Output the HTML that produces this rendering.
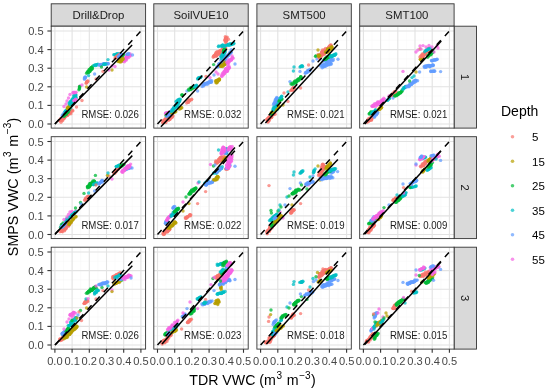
<!DOCTYPE html><html><head><meta charset="utf-8"><title>SMPS VWC vs TDR VWC</title>
<style>html,body{margin:0;padding:0;background:#fff}body{width:550px;height:392px;overflow:hidden}svg{display:block}text{font-family:"Liberation Sans",Arial,Helvetica,sans-serif}</style></head><body>
<svg width="550" height="392" viewBox="0 0 550 392">
<rect width="550" height="392" fill="#fff"/>
<rect x="51.2" y="3.8" width="94.4" height="22.4" fill="#D9D9D9" stroke="#333" stroke-width="0.9"/>
<text x="98.4" y="19.0" font-size="11.4" fill="#1A1A1A" text-anchor="middle">Drill&amp;Drop</text>
<rect x="153.8" y="3.8" width="94.4" height="22.4" fill="#D9D9D9" stroke="#333" stroke-width="0.9"/>
<text x="201.0" y="19.0" font-size="11.4" fill="#1A1A1A" text-anchor="middle">SoilVUE10</text>
<rect x="256.9" y="3.8" width="94.4" height="22.4" fill="#D9D9D9" stroke="#333" stroke-width="0.9"/>
<text x="304.1" y="19.0" font-size="11.4" fill="#1A1A1A" text-anchor="middle">SMT500</text>
<rect x="359.7" y="3.8" width="94.4" height="22.4" fill="#D9D9D9" stroke="#333" stroke-width="0.9"/>
<text x="406.9" y="19.0" font-size="11.4" fill="#1A1A1A" text-anchor="middle">SMT100</text>
<rect x="454.1" y="26.2" width="22.4" height="101.9" fill="#D9D9D9" stroke="#333" stroke-width="0.9"/>
<text transform="translate(461.1,77.2) rotate(90)" font-size="11.2" fill="#1A1A1A" text-anchor="middle">1</text>
<rect x="454.1" y="136.7" width="22.4" height="101.9" fill="#D9D9D9" stroke="#333" stroke-width="0.9"/>
<text transform="translate(461.1,187.6) rotate(90)" font-size="11.2" fill="#1A1A1A" text-anchor="middle">2</text>
<rect x="454.1" y="247.2" width="22.4" height="101.9" fill="#D9D9D9" stroke="#333" stroke-width="0.9"/>
<text transform="translate(461.1,298.1) rotate(90)" font-size="11.2" fill="#1A1A1A" text-anchor="middle">3</text>
<g>
<clipPath id="cp00"><rect x="51.2" y="26.2" width="94.4" height="101.9"/></clipPath>
<rect x="51.2" y="26.2" width="94.4" height="101.9" fill="#fff"/>
<g clip-path="url(#cp00)">
<line x1="63.5" x2="63.5" y1="26.2" y2="128.1" stroke="#F7F7F7" stroke-width="0.5"/>
<line y1="114.7" y2="114.7" x1="51.2" x2="145.60000000000002" stroke="#F7F7F7" stroke-width="0.5"/>
<line x1="80.7" x2="80.7" y1="26.2" y2="128.1" stroke="#F7F7F7" stroke-width="0.5"/>
<line y1="96.1" y2="96.1" x1="51.2" x2="145.60000000000002" stroke="#F7F7F7" stroke-width="0.5"/>
<line x1="97.9" x2="97.9" y1="26.2" y2="128.1" stroke="#F7F7F7" stroke-width="0.5"/>
<line y1="77.5" y2="77.5" x1="51.2" x2="145.60000000000002" stroke="#F7F7F7" stroke-width="0.5"/>
<line x1="115.1" x2="115.1" y1="26.2" y2="128.1" stroke="#F7F7F7" stroke-width="0.5"/>
<line y1="58.9" y2="58.9" x1="51.2" x2="145.60000000000002" stroke="#F7F7F7" stroke-width="0.5"/>
<line x1="132.3" x2="132.3" y1="26.2" y2="128.1" stroke="#F7F7F7" stroke-width="0.5"/>
<line y1="40.3" y2="40.3" x1="51.2" x2="145.60000000000002" stroke="#F7F7F7" stroke-width="0.5"/>
<line x1="54.9" x2="54.9" y1="26.2" y2="128.1" stroke="#E2E2E2" stroke-width="1.1"/>
<line y1="124.0" y2="124.0" x1="51.2" x2="145.60000000000002" stroke="#E2E2E2" stroke-width="1.1"/>
<line x1="72.1" x2="72.1" y1="26.2" y2="128.1" stroke="#E2E2E2" stroke-width="1.1"/>
<line y1="105.4" y2="105.4" x1="51.2" x2="145.60000000000002" stroke="#E2E2E2" stroke-width="1.1"/>
<line x1="89.3" x2="89.3" y1="26.2" y2="128.1" stroke="#E2E2E2" stroke-width="1.1"/>
<line y1="86.8" y2="86.8" x1="51.2" x2="145.60000000000002" stroke="#E2E2E2" stroke-width="1.1"/>
<line x1="106.5" x2="106.5" y1="26.2" y2="128.1" stroke="#E2E2E2" stroke-width="1.1"/>
<line y1="68.2" y2="68.2" x1="51.2" x2="145.60000000000002" stroke="#E2E2E2" stroke-width="1.1"/>
<line x1="123.7" x2="123.7" y1="26.2" y2="128.1" stroke="#E2E2E2" stroke-width="1.1"/>
<line y1="49.6" y2="49.6" x1="51.2" x2="145.60000000000002" stroke="#E2E2E2" stroke-width="1.1"/>
<line x1="140.9" x2="140.9" y1="26.2" y2="128.1" stroke="#E2E2E2" stroke-width="1.1"/>
<line y1="31.0" y2="31.0" x1="51.2" x2="145.60000000000002" stroke="#E2E2E2" stroke-width="1.1"/>
<g fill="#F8766D" fill-opacity="0.75"><circle cx="61.0" cy="122.2" r="1.7"/><circle cx="59.3" cy="120.6" r="1.7"/><circle cx="60.2" cy="120.6" r="1.7"/><circle cx="61.2" cy="120.5" r="1.7"/><circle cx="61.2" cy="119.6" r="1.7"/><circle cx="60.2" cy="119.4" r="1.7"/><circle cx="62.1" cy="119.4" r="1.7"/><circle cx="62.1" cy="118.9" r="1.7"/><circle cx="60.5" cy="118.6" r="1.7"/><circle cx="61.7" cy="119.0" r="1.7"/><circle cx="62.7" cy="120.5" r="1.7"/><circle cx="62.0" cy="120.0" r="1.7"/><circle cx="62.2" cy="118.2" r="1.7"/><circle cx="62.3" cy="117.9" r="1.7"/><circle cx="62.6" cy="118.8" r="1.7"/><circle cx="64.2" cy="118.5" r="1.7"/><circle cx="64.6" cy="116.9" r="1.7"/><circle cx="62.3" cy="118.1" r="1.7"/><circle cx="63.5" cy="116.0" r="1.7"/><circle cx="63.6" cy="118.4" r="1.7"/><circle cx="64.4" cy="116.5" r="1.7"/><circle cx="65.2" cy="115.8" r="1.7"/><circle cx="64.9" cy="116.2" r="1.7"/><circle cx="65.5" cy="116.7" r="1.7"/><circle cx="65.4" cy="115.6" r="1.7"/><circle cx="64.0" cy="117.2" r="1.7"/><circle cx="64.5" cy="116.1" r="1.7"/><circle cx="67.1" cy="115.1" r="1.7"/><circle cx="67.4" cy="115.6" r="1.7"/><circle cx="67.0" cy="115.2" r="1.7"/><circle cx="68.0" cy="114.8" r="1.7"/><circle cx="67.1" cy="113.7" r="1.7"/><circle cx="68.3" cy="113.8" r="1.7"/><circle cx="66.3" cy="114.0" r="1.7"/><circle cx="67.4" cy="114.3" r="1.7"/><circle cx="67.1" cy="114.4" r="1.7"/><circle cx="67.8" cy="113.4" r="1.7"/><circle cx="68.4" cy="114.1" r="1.7"/><circle cx="68.5" cy="113.2" r="1.7"/><circle cx="69.5" cy="113.6" r="1.7"/><circle cx="69.9" cy="111.8" r="1.7"/><circle cx="69.1" cy="113.6" r="1.7"/><circle cx="70.9" cy="113.8" r="1.7"/><circle cx="68.6" cy="112.3" r="1.7"/><circle cx="70.6" cy="112.6" r="1.7"/><circle cx="70.4" cy="111.2" r="1.7"/><circle cx="71.5" cy="111.2" r="1.7"/><circle cx="70.2" cy="111.3" r="1.7"/><circle cx="70.5" cy="110.8" r="1.7"/><circle cx="70.2" cy="111.8" r="1.7"/><circle cx="72.8" cy="110.9" r="1.7"/><circle cx="70.5" cy="111.7" r="1.7"/><circle cx="72.4" cy="110.2" r="1.7"/><circle cx="71.1" cy="109.9" r="1.7"/></g>
<g fill="#619CFF" fill-opacity="0.75"><circle cx="62.1" cy="115.9" r="1.7"/><circle cx="63.1" cy="116.1" r="1.7"/><circle cx="62.7" cy="114.8" r="1.7"/><circle cx="63.1" cy="115.2" r="1.7"/><circle cx="63.6" cy="115.4" r="1.7"/><circle cx="64.3" cy="113.1" r="1.7"/><circle cx="64.2" cy="113.2" r="1.7"/><circle cx="65.4" cy="112.5" r="1.7"/><circle cx="64.3" cy="112.8" r="1.7"/><circle cx="64.4" cy="113.4" r="1.7"/><circle cx="64.9" cy="112.3" r="1.7"/><circle cx="65.7" cy="111.1" r="1.7"/><circle cx="66.7" cy="111.6" r="1.7"/><circle cx="66.0" cy="111.8" r="1.7"/><circle cx="66.4" cy="110.3" r="1.7"/><circle cx="66.6" cy="111.4" r="1.7"/></g>
<g fill="#00BA38" fill-opacity="0.75"><circle cx="64.0" cy="116.4" r="1.7"/><circle cx="64.4" cy="115.4" r="1.7"/><circle cx="64.4" cy="114.8" r="1.7"/><circle cx="65.9" cy="114.3" r="1.7"/><circle cx="66.3" cy="114.6" r="1.7"/><circle cx="65.7" cy="112.7" r="1.7"/><circle cx="67.2" cy="112.6" r="1.7"/><circle cx="66.8" cy="112.5" r="1.7"/><circle cx="67.3" cy="112.2" r="1.7"/><circle cx="68.1" cy="112.2" r="1.7"/><circle cx="67.5" cy="110.8" r="1.7"/><circle cx="68.0" cy="111.4" r="1.7"/><circle cx="69.3" cy="110.1" r="1.7"/></g>
<g fill="#00BFC4" fill-opacity="0.75"><circle cx="65.2" cy="111.3" r="1.7"/><circle cx="66.0" cy="111.3" r="1.7"/><circle cx="66.0" cy="110.7" r="1.7"/><circle cx="66.7" cy="110.1" r="1.7"/><circle cx="67.6" cy="110.0" r="1.7"/><circle cx="68.1" cy="108.8" r="1.7"/><circle cx="68.9" cy="109.4" r="1.7"/><circle cx="68.8" cy="108.7" r="1.7"/><circle cx="69.8" cy="108.2" r="1.7"/><circle cx="70.7" cy="108.0" r="1.7"/></g>
<g fill="#B79F00" fill-opacity="0.75"><circle cx="67.6" cy="108.5" r="1.7"/><circle cx="68.0" cy="109.1" r="1.7"/><circle cx="67.2" cy="108.0" r="1.7"/><circle cx="67.7" cy="108.0" r="1.7"/><circle cx="69.0" cy="107.4" r="1.7"/><circle cx="67.9" cy="107.4" r="1.7"/><circle cx="69.4" cy="108.3" r="1.7"/><circle cx="69.1" cy="107.0" r="1.7"/><circle cx="69.2" cy="106.8" r="1.7"/><circle cx="69.5" cy="107.7" r="1.7"/><circle cx="68.6" cy="107.3" r="1.7"/><circle cx="69.5" cy="105.5" r="1.7"/><circle cx="69.4" cy="104.9" r="1.7"/><circle cx="71.0" cy="104.9" r="1.7"/><circle cx="71.1" cy="105.4" r="1.7"/><circle cx="70.0" cy="105.4" r="1.7"/><circle cx="70.8" cy="104.5" r="1.7"/><circle cx="71.0" cy="104.3" r="1.7"/><circle cx="71.6" cy="103.9" r="1.7"/><circle cx="70.9" cy="104.6" r="1.7"/><circle cx="71.1" cy="103.0" r="1.7"/><circle cx="72.4" cy="102.8" r="1.7"/></g>
<g fill="#F564E3" fill-opacity="0.75"><circle cx="64.0" cy="106.5" r="1.7"/></g>
<g fill="#F564E3" fill-opacity="0.75"><circle cx="67.0" cy="101.0" r="1.7"/></g>
<g fill="#F564E3" fill-opacity="0.75"><circle cx="66.0" cy="104.0" r="1.7"/></g>
<g fill="#F564E3" fill-opacity="0.75"><circle cx="68.5" cy="98.0" r="1.7"/></g>
<g fill="#00BFC4" fill-opacity="0.75"><circle cx="69.9" cy="102.8" r="1.7"/><circle cx="70.6" cy="105.1" r="1.7"/><circle cx="71.5" cy="103.4" r="1.7"/><circle cx="69.1" cy="103.1" r="1.7"/><circle cx="69.8" cy="104.3" r="1.7"/><circle cx="70.3" cy="101.8" r="1.7"/><circle cx="71.6" cy="102.5" r="1.7"/><circle cx="71.2" cy="101.4" r="1.7"/><circle cx="72.4" cy="102.9" r="1.7"/><circle cx="70.5" cy="101.7" r="1.7"/><circle cx="72.6" cy="101.9" r="1.7"/><circle cx="72.8" cy="100.5" r="1.7"/><circle cx="72.2" cy="100.4" r="1.7"/><circle cx="73.1" cy="99.8" r="1.7"/><circle cx="73.2" cy="100.6" r="1.7"/><circle cx="73.7" cy="100.1" r="1.7"/><circle cx="73.2" cy="100.0" r="1.7"/><circle cx="73.0" cy="99.7" r="1.7"/><circle cx="74.5" cy="99.2" r="1.7"/><circle cx="71.9" cy="99.6" r="1.7"/><circle cx="72.8" cy="99.3" r="1.7"/><circle cx="73.7" cy="98.2" r="1.7"/><circle cx="73.7" cy="99.2" r="1.7"/><circle cx="73.2" cy="98.1" r="1.7"/><circle cx="73.7" cy="97.6" r="1.7"/><circle cx="75.0" cy="96.2" r="1.7"/><circle cx="74.0" cy="95.7" r="1.7"/><circle cx="75.2" cy="97.1" r="1.7"/><circle cx="76.3" cy="97.8" r="1.7"/><circle cx="74.1" cy="95.4" r="1.7"/><circle cx="75.2" cy="96.1" r="1.7"/><circle cx="75.4" cy="94.7" r="1.7"/><circle cx="75.4" cy="95.3" r="1.7"/><circle cx="75.8" cy="95.7" r="1.7"/><circle cx="75.8" cy="94.5" r="1.7"/></g>
<g fill="#F564E3" fill-opacity="0.75"><circle cx="70.0" cy="94.5" r="1.7"/></g>
<g fill="#F564E3" fill-opacity="0.75"><circle cx="73.4" cy="92.8" r="1.7"/><circle cx="72.9" cy="92.8" r="1.7"/><circle cx="74.0" cy="92.2" r="1.7"/><circle cx="74.7" cy="92.7" r="1.7"/><circle cx="75.5" cy="92.6" r="1.7"/><circle cx="76.1" cy="92.3" r="1.7"/></g>
<g fill="#F564E3" fill-opacity="0.75"><circle cx="74.0" cy="100.6" r="1.7"/><circle cx="74.0" cy="100.8" r="1.7"/><circle cx="75.5" cy="100.9" r="1.7"/><circle cx="74.9" cy="100.4" r="1.7"/><circle cx="75.7" cy="99.5" r="1.7"/><circle cx="75.7" cy="99.1" r="1.7"/></g>
<g fill="#F8766D" fill-opacity="0.75"><circle cx="76.5" cy="107.0" r="1.7"/></g>
<g fill="#F8766D" fill-opacity="0.75"><circle cx="82.0" cy="100.5" r="1.7"/></g>
<g fill="#F564E3" fill-opacity="0.75"><circle cx="80.0" cy="86.0" r="1.7"/></g>
<g fill="#00BA38" fill-opacity="0.75"><circle cx="78.9" cy="89.7" r="1.7"/><circle cx="79.5" cy="88.7" r="1.7"/><circle cx="79.5" cy="87.7" r="1.7"/><circle cx="79.5" cy="86.8" r="1.7"/><circle cx="79.8" cy="86.4" r="1.7"/></g>
<g fill="#F8766D" fill-opacity="0.75"><circle cx="86.1" cy="83.2" r="1.7"/><circle cx="86.7" cy="82.7" r="1.7"/><circle cx="86.7" cy="82.4" r="1.7"/><circle cx="86.8" cy="81.8" r="1.7"/><circle cx="86.7" cy="82.3" r="1.7"/><circle cx="87.1" cy="81.3" r="1.7"/><circle cx="87.6" cy="81.5" r="1.7"/><circle cx="88.0" cy="80.9" r="1.7"/></g>
<g fill="#F8766D" fill-opacity="0.75"><circle cx="96.0" cy="79.0" r="1.7"/></g>
<g fill="#F8766D" fill-opacity="0.75"><circle cx="103.0" cy="71.4" r="1.7"/></g>
<g fill="#619CFF" fill-opacity="0.75"><circle cx="84.3" cy="79.0" r="1.7"/><circle cx="84.7" cy="78.9" r="1.7"/><circle cx="85.6" cy="77.5" r="1.7"/><circle cx="84.7" cy="77.2" r="1.7"/><circle cx="85.1" cy="77.6" r="1.7"/><circle cx="85.5" cy="76.9" r="1.7"/></g>
<g fill="#619CFF" fill-opacity="0.75"><circle cx="94.6" cy="74.0" r="1.7"/></g>
<g fill="#00BA38" fill-opacity="0.75"><circle cx="86.6" cy="73.3" r="1.7"/><circle cx="87.3" cy="72.3" r="1.7"/><circle cx="88.2" cy="72.7" r="1.7"/><circle cx="87.9" cy="71.8" r="1.7"/><circle cx="89.0" cy="72.0" r="1.7"/><circle cx="88.7" cy="72.2" r="1.7"/><circle cx="88.3" cy="71.0" r="1.7"/><circle cx="89.1" cy="71.5" r="1.7"/><circle cx="89.5" cy="70.8" r="1.7"/><circle cx="90.1" cy="71.2" r="1.7"/><circle cx="89.2" cy="69.5" r="1.7"/><circle cx="90.5" cy="69.8" r="1.7"/><circle cx="90.5" cy="70.0" r="1.7"/><circle cx="90.6" cy="68.5" r="1.7"/><circle cx="90.0" cy="69.1" r="1.7"/><circle cx="91.7" cy="69.3" r="1.7"/><circle cx="91.7" cy="68.3" r="1.7"/><circle cx="91.3" cy="67.5" r="1.7"/><circle cx="92.0" cy="69.0" r="1.7"/><circle cx="92.4" cy="67.9" r="1.7"/><circle cx="91.6" cy="67.4" r="1.7"/><circle cx="92.8" cy="66.1" r="1.7"/></g>
<g fill="#00BFC4" fill-opacity="0.75"><circle cx="94.0" cy="65.5" r="1.7"/><circle cx="94.6" cy="65.1" r="1.7"/><circle cx="95.3" cy="64.9" r="1.7"/><circle cx="95.6" cy="65.6" r="1.7"/><circle cx="96.5" cy="65.0" r="1.7"/><circle cx="96.5" cy="64.6" r="1.7"/><circle cx="97.1" cy="64.7" r="1.7"/><circle cx="97.9" cy="64.1" r="1.7"/></g>
<g fill="#00BFC4" fill-opacity="0.75"><circle cx="88.6" cy="75.6" r="1.7"/></g>
<g fill="#00BFC4" fill-opacity="0.75"><circle cx="108.0" cy="59.6" r="1.7"/></g>
<g fill="#619CFF" fill-opacity="0.75"><circle cx="99.3" cy="65.3" r="1.7"/><circle cx="100.1" cy="64.4" r="1.7"/><circle cx="99.6" cy="64.8" r="1.7"/><circle cx="101.1" cy="65.2" r="1.7"/><circle cx="102.1" cy="64.5" r="1.7"/><circle cx="101.8" cy="64.6" r="1.7"/><circle cx="103.1" cy="63.6" r="1.7"/><circle cx="104.0" cy="63.8" r="1.7"/><circle cx="104.3" cy="63.7" r="1.7"/><circle cx="105.0" cy="64.1" r="1.7"/><circle cx="105.0" cy="64.0" r="1.7"/><circle cx="106.3" cy="63.8" r="1.7"/><circle cx="106.5" cy="63.9" r="1.7"/><circle cx="107.8" cy="63.8" r="1.7"/><circle cx="107.9" cy="63.5" r="1.7"/><circle cx="108.3" cy="63.7" r="1.7"/></g>
<g fill="#F564E3" fill-opacity="0.75"><circle cx="112.0" cy="66.0" r="1.7"/></g>
<g fill="#F564E3" fill-opacity="0.75"><circle cx="82.0" cy="85.0" r="1.7"/></g>
<g fill="#B79F00" fill-opacity="0.75"><circle cx="112.0" cy="70.0" r="1.7"/></g>
<g fill="#B79F00" fill-opacity="0.75"><circle cx="86.6" cy="87.0" r="1.7"/></g>
<g fill="#00BFC4" fill-opacity="0.75"><circle cx="113.8" cy="54.8" r="1.7"/><circle cx="114.6" cy="54.6" r="1.7"/><circle cx="115.4" cy="54.6" r="1.7"/><circle cx="116.8" cy="54.3" r="1.7"/><circle cx="117.3" cy="54.3" r="1.7"/><circle cx="116.8" cy="53.7" r="1.7"/><circle cx="118.4" cy="53.8" r="1.7"/><circle cx="119.2" cy="53.9" r="1.7"/></g>
<g fill="#F8766D" fill-opacity="0.75"><circle cx="115.4" cy="57.8" r="1.7"/><circle cx="115.2" cy="58.3" r="1.7"/><circle cx="115.8" cy="57.1" r="1.7"/><circle cx="117.0" cy="56.6" r="1.7"/><circle cx="116.4" cy="56.6" r="1.7"/><circle cx="117.4" cy="56.8" r="1.7"/><circle cx="117.6" cy="56.3" r="1.7"/><circle cx="118.0" cy="56.9" r="1.7"/><circle cx="117.9" cy="55.2" r="1.7"/><circle cx="119.1" cy="56.0" r="1.7"/><circle cx="119.6" cy="54.2" r="1.7"/><circle cx="119.1" cy="55.6" r="1.7"/><circle cx="119.7" cy="54.6" r="1.7"/><circle cx="120.0" cy="54.2" r="1.7"/><circle cx="121.1" cy="54.7" r="1.7"/><circle cx="120.6" cy="54.7" r="1.7"/></g>
<g fill="#B79F00" fill-opacity="0.75"><circle cx="118.0" cy="61.6" r="1.7"/><circle cx="119.1" cy="60.2" r="1.7"/><circle cx="119.1" cy="59.8" r="1.7"/><circle cx="118.8" cy="60.7" r="1.7"/><circle cx="118.8" cy="60.3" r="1.7"/><circle cx="119.7" cy="59.0" r="1.7"/><circle cx="121.1" cy="59.6" r="1.7"/><circle cx="121.2" cy="60.0" r="1.7"/><circle cx="120.7" cy="58.6" r="1.7"/><circle cx="121.8" cy="59.3" r="1.7"/><circle cx="122.6" cy="59.3" r="1.7"/><circle cx="122.2" cy="58.8" r="1.7"/><circle cx="123.5" cy="58.0" r="1.7"/></g>
<g fill="#00BA38" fill-opacity="0.75"><circle cx="120.9" cy="57.1" r="1.7"/><circle cx="121.7" cy="56.5" r="1.7"/><circle cx="122.2" cy="55.5" r="1.7"/><circle cx="122.5" cy="55.5" r="1.7"/><circle cx="123.3" cy="54.4" r="1.7"/><circle cx="123.2" cy="54.8" r="1.7"/></g>
<g fill="#619CFF" fill-opacity="0.75"><circle cx="118.4" cy="56.9" r="1.7"/><circle cx="118.9" cy="56.7" r="1.7"/><circle cx="118.5" cy="56.6" r="1.7"/><circle cx="120.0" cy="55.6" r="1.7"/><circle cx="119.9" cy="55.3" r="1.7"/><circle cx="120.2" cy="54.7" r="1.7"/><circle cx="120.8" cy="54.5" r="1.7"/><circle cx="121.5" cy="54.4" r="1.7"/></g>
<g fill="#F564E3" fill-opacity="0.75"><circle cx="123.2" cy="60.9" r="1.7"/><circle cx="124.5" cy="61.8" r="1.7"/><circle cx="123.8" cy="60.5" r="1.7"/><circle cx="122.4" cy="61.4" r="1.7"/><circle cx="125.0" cy="59.2" r="1.7"/><circle cx="124.4" cy="59.2" r="1.7"/><circle cx="124.8" cy="60.1" r="1.7"/><circle cx="124.8" cy="58.0" r="1.7"/><circle cx="126.1" cy="60.3" r="1.7"/><circle cx="125.9" cy="57.8" r="1.7"/><circle cx="126.1" cy="59.2" r="1.7"/><circle cx="126.5" cy="57.2" r="1.7"/><circle cx="125.2" cy="58.5" r="1.7"/><circle cx="127.2" cy="58.0" r="1.7"/><circle cx="127.2" cy="56.8" r="1.7"/><circle cx="127.2" cy="56.5" r="1.7"/><circle cx="128.7" cy="57.5" r="1.7"/><circle cx="127.1" cy="55.6" r="1.7"/><circle cx="126.9" cy="55.5" r="1.7"/><circle cx="127.2" cy="56.1" r="1.7"/><circle cx="127.4" cy="54.7" r="1.7"/><circle cx="128.9" cy="54.6" r="1.7"/><circle cx="129.2" cy="55.4" r="1.7"/><circle cx="129.7" cy="55.7" r="1.7"/><circle cx="130.3" cy="55.9" r="1.7"/><circle cx="130.2" cy="54.0" r="1.7"/></g>
<g fill="#B79F00" fill-opacity="0.75"><circle cx="120.0" cy="62.1" r="1.7"/><circle cx="119.8" cy="61.4" r="1.7"/><circle cx="119.8" cy="61.3" r="1.7"/><circle cx="119.8" cy="60.9" r="1.7"/><circle cx="121.2" cy="61.7" r="1.7"/><circle cx="121.5" cy="60.5" r="1.7"/><circle cx="122.0" cy="59.7" r="1.7"/><circle cx="121.2" cy="60.0" r="1.7"/><circle cx="122.2" cy="59.3" r="1.7"/><circle cx="122.0" cy="60.1" r="1.7"/><circle cx="122.7" cy="58.4" r="1.7"/><circle cx="123.3" cy="59.0" r="1.7"/><circle cx="121.9" cy="59.3" r="1.7"/></g>
<g fill="#619CFF" fill-opacity="0.75"><circle cx="126.9" cy="54.2" r="1.7"/><circle cx="127.5" cy="54.1" r="1.7"/><circle cx="127.7" cy="54.4" r="1.7"/><circle cx="128.6" cy="54.2" r="1.7"/><circle cx="128.7" cy="53.5" r="1.7"/></g>
<g fill="#619CFF" fill-opacity="0.75"><circle cx="132.5" cy="55.0" r="1.7"/></g>
<g fill="#00BA38" fill-opacity="0.75"><circle cx="101.5" cy="67.0" r="1.7"/></g>
<g fill="#F564E3" fill-opacity="0.75"><circle cx="115.0" cy="66.5" r="1.7"/></g>
<g fill="#F564E3" fill-opacity="0.75"><circle cx="109.0" cy="70.0" r="1.7"/></g>
<g fill="#00BFC4" fill-opacity="0.75"><circle cx="103.7" cy="64.4" r="1.7"/><circle cx="104.0" cy="64.3" r="1.7"/><circle cx="104.4" cy="64.5" r="1.7"/><circle cx="105.0" cy="64.3" r="1.7"/><circle cx="105.9" cy="64.0" r="1.7"/></g>
<line x1="54.9" y1="124.0" x2="132.1" y2="45.0" stroke="#000" stroke-width="1.5"/>
<line x1="54.9" y1="124.0" x2="140.9" y2="31.0" stroke="#000" stroke-width="1.5" stroke-dasharray="6 6"/>
<text x="138.8" y="118.4" font-size="10.4" fill="#1c1c1c" text-anchor="end" textLength="57.4" lengthAdjust="spacingAndGlyphs">RMSE: 0.026</text>
</g>
<rect x="51.2" y="26.2" width="94.4" height="101.9" fill="none" stroke="#333" stroke-width="0.9"/>
</g>
<g>
<clipPath id="cp01"><rect x="153.8" y="26.2" width="94.4" height="101.9"/></clipPath>
<rect x="153.8" y="26.2" width="94.4" height="101.9" fill="#fff"/>
<g clip-path="url(#cp01)">
<line x1="166.1" x2="166.1" y1="26.2" y2="128.1" stroke="#F7F7F7" stroke-width="0.5"/>
<line y1="114.7" y2="114.7" x1="153.8" x2="248.20000000000002" stroke="#F7F7F7" stroke-width="0.5"/>
<line x1="183.3" x2="183.3" y1="26.2" y2="128.1" stroke="#F7F7F7" stroke-width="0.5"/>
<line y1="96.1" y2="96.1" x1="153.8" x2="248.20000000000002" stroke="#F7F7F7" stroke-width="0.5"/>
<line x1="200.5" x2="200.5" y1="26.2" y2="128.1" stroke="#F7F7F7" stroke-width="0.5"/>
<line y1="77.5" y2="77.5" x1="153.8" x2="248.20000000000002" stroke="#F7F7F7" stroke-width="0.5"/>
<line x1="217.7" x2="217.7" y1="26.2" y2="128.1" stroke="#F7F7F7" stroke-width="0.5"/>
<line y1="58.9" y2="58.9" x1="153.8" x2="248.20000000000002" stroke="#F7F7F7" stroke-width="0.5"/>
<line x1="234.9" x2="234.9" y1="26.2" y2="128.1" stroke="#F7F7F7" stroke-width="0.5"/>
<line y1="40.3" y2="40.3" x1="153.8" x2="248.20000000000002" stroke="#F7F7F7" stroke-width="0.5"/>
<line x1="157.5" x2="157.5" y1="26.2" y2="128.1" stroke="#E2E2E2" stroke-width="1.1"/>
<line y1="124.0" y2="124.0" x1="153.8" x2="248.20000000000002" stroke="#E2E2E2" stroke-width="1.1"/>
<line x1="174.7" x2="174.7" y1="26.2" y2="128.1" stroke="#E2E2E2" stroke-width="1.1"/>
<line y1="105.4" y2="105.4" x1="153.8" x2="248.20000000000002" stroke="#E2E2E2" stroke-width="1.1"/>
<line x1="191.9" x2="191.9" y1="26.2" y2="128.1" stroke="#E2E2E2" stroke-width="1.1"/>
<line y1="86.8" y2="86.8" x1="153.8" x2="248.20000000000002" stroke="#E2E2E2" stroke-width="1.1"/>
<line x1="209.1" x2="209.1" y1="26.2" y2="128.1" stroke="#E2E2E2" stroke-width="1.1"/>
<line y1="68.2" y2="68.2" x1="153.8" x2="248.20000000000002" stroke="#E2E2E2" stroke-width="1.1"/>
<line x1="226.3" x2="226.3" y1="26.2" y2="128.1" stroke="#E2E2E2" stroke-width="1.1"/>
<line y1="49.6" y2="49.6" x1="153.8" x2="248.20000000000002" stroke="#E2E2E2" stroke-width="1.1"/>
<line x1="243.5" x2="243.5" y1="26.2" y2="128.1" stroke="#E2E2E2" stroke-width="1.1"/>
<line y1="31.0" y2="31.0" x1="153.8" x2="248.20000000000002" stroke="#E2E2E2" stroke-width="1.1"/>
<g fill="#F8766D" fill-opacity="0.75"><circle cx="163.1" cy="122.8" r="1.7"/><circle cx="163.9" cy="120.6" r="1.7"/><circle cx="162.7" cy="120.8" r="1.7"/><circle cx="162.7" cy="122.4" r="1.7"/><circle cx="163.5" cy="122.8" r="1.7"/><circle cx="165.0" cy="121.5" r="1.7"/><circle cx="163.1" cy="122.8" r="1.7"/><circle cx="164.5" cy="120.1" r="1.7"/><circle cx="165.9" cy="122.6" r="1.7"/><circle cx="164.0" cy="121.1" r="1.7"/><circle cx="164.8" cy="120.0" r="1.7"/><circle cx="165.5" cy="120.6" r="1.7"/><circle cx="165.2" cy="121.0" r="1.7"/><circle cx="165.2" cy="119.3" r="1.7"/><circle cx="164.9" cy="120.4" r="1.7"/><circle cx="165.2" cy="120.0" r="1.7"/><circle cx="166.5" cy="120.3" r="1.7"/><circle cx="164.5" cy="120.9" r="1.7"/><circle cx="164.9" cy="119.6" r="1.7"/><circle cx="165.4" cy="120.2" r="1.7"/><circle cx="167.3" cy="118.5" r="1.7"/><circle cx="168.7" cy="120.3" r="1.7"/><circle cx="165.7" cy="118.1" r="1.7"/><circle cx="167.1" cy="118.2" r="1.7"/><circle cx="167.5" cy="119.7" r="1.7"/><circle cx="167.7" cy="119.6" r="1.7"/><circle cx="168.0" cy="118.6" r="1.7"/><circle cx="167.1" cy="118.1" r="1.7"/><circle cx="169.1" cy="117.2" r="1.7"/><circle cx="167.3" cy="119.5" r="1.7"/><circle cx="168.6" cy="117.4" r="1.7"/><circle cx="168.7" cy="116.6" r="1.7"/><circle cx="169.4" cy="119.5" r="1.7"/><circle cx="169.7" cy="117.5" r="1.7"/><circle cx="171.0" cy="117.4" r="1.7"/><circle cx="170.1" cy="119.3" r="1.7"/><circle cx="170.3" cy="116.8" r="1.7"/><circle cx="168.2" cy="116.5" r="1.7"/><circle cx="169.7" cy="118.1" r="1.7"/><circle cx="172.0" cy="117.6" r="1.7"/><circle cx="170.4" cy="117.2" r="1.7"/><circle cx="171.0" cy="117.4" r="1.7"/><circle cx="169.6" cy="116.0" r="1.7"/><circle cx="170.4" cy="118.2" r="1.7"/><circle cx="172.4" cy="116.0" r="1.7"/><circle cx="172.5" cy="116.3" r="1.7"/><circle cx="172.7" cy="115.5" r="1.7"/><circle cx="172.7" cy="116.0" r="1.7"/></g>
<g fill="#F564E3" fill-opacity="0.75"><circle cx="165.8" cy="114.0" r="1.7"/><circle cx="165.6" cy="113.1" r="1.7"/><circle cx="165.6" cy="113.2" r="1.7"/><circle cx="167.3" cy="113.6" r="1.7"/><circle cx="166.9" cy="113.0" r="1.7"/><circle cx="167.2" cy="112.6" r="1.7"/><circle cx="167.5" cy="112.6" r="1.7"/><circle cx="168.4" cy="112.4" r="1.7"/></g>
<g fill="#00BA38" fill-opacity="0.75"><circle cx="166.0" cy="115.6" r="1.7"/><circle cx="167.1" cy="115.2" r="1.7"/><circle cx="167.1" cy="116.1" r="1.7"/><circle cx="168.0" cy="115.1" r="1.7"/><circle cx="167.0" cy="114.2" r="1.7"/><circle cx="168.7" cy="114.8" r="1.7"/><circle cx="168.5" cy="114.6" r="1.7"/><circle cx="168.6" cy="113.6" r="1.7"/><circle cx="169.6" cy="114.0" r="1.7"/><circle cx="169.8" cy="112.8" r="1.7"/></g>
<g fill="#619CFF" fill-opacity="0.75"><circle cx="166.6" cy="116.6" r="1.7"/><circle cx="168.8" cy="115.3" r="1.7"/><circle cx="167.6" cy="115.1" r="1.7"/><circle cx="167.4" cy="115.0" r="1.7"/><circle cx="169.0" cy="114.8" r="1.7"/><circle cx="169.6" cy="113.3" r="1.7"/><circle cx="169.6" cy="114.0" r="1.7"/><circle cx="170.5" cy="113.4" r="1.7"/><circle cx="171.6" cy="112.4" r="1.7"/><circle cx="171.1" cy="112.1" r="1.7"/><circle cx="171.2" cy="111.5" r="1.7"/><circle cx="171.0" cy="111.1" r="1.7"/><circle cx="171.9" cy="110.7" r="1.7"/><circle cx="172.8" cy="110.6" r="1.7"/><circle cx="172.1" cy="109.4" r="1.7"/><circle cx="172.8" cy="109.1" r="1.7"/><circle cx="173.6" cy="109.6" r="1.7"/><circle cx="174.0" cy="108.6" r="1.7"/><circle cx="173.9" cy="108.1" r="1.7"/></g>
<g fill="#B79F00" fill-opacity="0.75"><circle cx="172.1" cy="113.4" r="1.7"/><circle cx="172.1" cy="113.2" r="1.7"/><circle cx="173.7" cy="112.5" r="1.7"/><circle cx="174.3" cy="112.4" r="1.7"/><circle cx="173.9" cy="111.7" r="1.7"/><circle cx="174.9" cy="111.5" r="1.7"/><circle cx="174.6" cy="111.0" r="1.7"/><circle cx="175.8" cy="111.8" r="1.7"/></g>
<g fill="#B79F00" fill-opacity="0.75"><circle cx="179.2" cy="109.1" r="1.7"/><circle cx="180.2" cy="108.8" r="1.7"/><circle cx="180.5" cy="108.0" r="1.7"/><circle cx="181.3" cy="107.7" r="1.7"/><circle cx="181.8" cy="107.7" r="1.7"/></g>
<g fill="#00BFC4" fill-opacity="0.75"><circle cx="171.1" cy="111.6" r="1.7"/><circle cx="173.1" cy="110.4" r="1.7"/><circle cx="172.5" cy="111.0" r="1.7"/><circle cx="172.2" cy="110.2" r="1.7"/><circle cx="173.1" cy="109.5" r="1.7"/><circle cx="173.5" cy="108.2" r="1.7"/><circle cx="174.0" cy="107.7" r="1.7"/><circle cx="174.6" cy="108.2" r="1.7"/><circle cx="173.6" cy="107.6" r="1.7"/><circle cx="175.6" cy="106.9" r="1.7"/><circle cx="175.9" cy="105.8" r="1.7"/><circle cx="175.7" cy="107.2" r="1.7"/><circle cx="176.9" cy="106.2" r="1.7"/><circle cx="175.6" cy="105.3" r="1.7"/><circle cx="177.2" cy="106.3" r="1.7"/><circle cx="176.7" cy="104.6" r="1.7"/><circle cx="177.8" cy="103.0" r="1.7"/><circle cx="178.0" cy="102.3" r="1.7"/><circle cx="178.4" cy="104.2" r="1.7"/><circle cx="177.1" cy="103.5" r="1.7"/><circle cx="177.1" cy="102.7" r="1.7"/><circle cx="178.7" cy="102.2" r="1.7"/><circle cx="179.0" cy="101.4" r="1.7"/><circle cx="179.8" cy="101.0" r="1.7"/><circle cx="179.2" cy="99.3" r="1.7"/><circle cx="179.0" cy="101.3" r="1.7"/></g>
<g fill="#F8766D" fill-opacity="0.75"><circle cx="186.6" cy="103.0" r="1.7"/><circle cx="188.5" cy="102.4" r="1.7"/><circle cx="187.4" cy="101.5" r="1.7"/><circle cx="188.0" cy="102.3" r="1.7"/><circle cx="189.0" cy="101.2" r="1.7"/><circle cx="189.1" cy="100.2" r="1.7"/><circle cx="189.5" cy="100.6" r="1.7"/><circle cx="188.9" cy="99.9" r="1.7"/><circle cx="189.8" cy="100.2" r="1.7"/><circle cx="191.4" cy="99.8" r="1.7"/><circle cx="191.7" cy="99.3" r="1.7"/></g>
<g fill="#00BA38" fill-opacity="0.75"><circle cx="182.3" cy="94.9" r="1.7"/><circle cx="181.6" cy="95.0" r="1.7"/><circle cx="182.5" cy="95.1" r="1.7"/></g>
<g fill="#00BFC4" fill-opacity="0.75"><circle cx="176.0" cy="101.4" r="1.7"/><circle cx="177.4" cy="101.3" r="1.7"/><circle cx="177.3" cy="100.3" r="1.7"/><circle cx="178.8" cy="99.9" r="1.7"/><circle cx="178.6" cy="99.8" r="1.7"/><circle cx="180.3" cy="99.2" r="1.7"/></g>
<g fill="#619CFF" fill-opacity="0.75"><circle cx="187.0" cy="91.0" r="1.7"/></g>
<g fill="#619CFF" fill-opacity="0.75"><circle cx="197.6" cy="91.0" r="1.7"/></g>
<g fill="#00BA38" fill-opacity="0.75"><circle cx="189.0" cy="90.3" r="1.7"/><circle cx="188.7" cy="89.2" r="1.7"/><circle cx="191.0" cy="89.6" r="1.7"/><circle cx="190.3" cy="89.0" r="1.7"/><circle cx="191.0" cy="88.9" r="1.7"/><circle cx="190.5" cy="87.9" r="1.7"/><circle cx="192.3" cy="87.8" r="1.7"/><circle cx="191.2" cy="87.4" r="1.7"/><circle cx="192.0" cy="87.5" r="1.7"/><circle cx="192.9" cy="87.9" r="1.7"/><circle cx="193.0" cy="87.7" r="1.7"/><circle cx="192.6" cy="87.9" r="1.7"/><circle cx="193.3" cy="86.6" r="1.7"/><circle cx="193.5" cy="86.9" r="1.7"/><circle cx="193.5" cy="87.2" r="1.7"/><circle cx="194.9" cy="87.1" r="1.7"/></g>
<g fill="#00BFC4" fill-opacity="0.75"><circle cx="194.7" cy="87.1" r="1.7"/><circle cx="194.3" cy="86.3" r="1.7"/><circle cx="195.8" cy="86.4" r="1.7"/><circle cx="195.7" cy="86.3" r="1.7"/><circle cx="196.4" cy="85.6" r="1.7"/><circle cx="196.6" cy="85.3" r="1.7"/></g>
<g fill="#619CFF" fill-opacity="0.75"><circle cx="202.1" cy="86.5" r="1.7"/><circle cx="203.6" cy="85.9" r="1.7"/><circle cx="203.0" cy="85.0" r="1.7"/><circle cx="203.6" cy="84.2" r="1.7"/><circle cx="204.2" cy="84.6" r="1.7"/><circle cx="204.4" cy="84.0" r="1.7"/><circle cx="205.1" cy="84.4" r="1.7"/><circle cx="205.1" cy="83.7" r="1.7"/><circle cx="204.6" cy="83.7" r="1.7"/><circle cx="207.2" cy="84.4" r="1.7"/><circle cx="206.0" cy="83.1" r="1.7"/><circle cx="207.9" cy="83.2" r="1.7"/><circle cx="207.5" cy="82.4" r="1.7"/><circle cx="209.0" cy="82.3" r="1.7"/><circle cx="209.1" cy="82.2" r="1.7"/><circle cx="209.0" cy="82.7" r="1.7"/><circle cx="209.3" cy="81.7" r="1.7"/><circle cx="211.0" cy="82.4" r="1.7"/><circle cx="209.5" cy="82.5" r="1.7"/><circle cx="210.4" cy="80.7" r="1.7"/><circle cx="211.7" cy="80.7" r="1.7"/><circle cx="211.5" cy="82.0" r="1.7"/></g>
<g fill="#00BFC4" fill-opacity="0.75"><circle cx="197.6" cy="79.0" r="1.7"/><circle cx="198.2" cy="78.2" r="1.7"/><circle cx="198.5" cy="77.9" r="1.7"/><circle cx="199.1" cy="77.9" r="1.7"/><circle cx="198.8" cy="78.2" r="1.7"/><circle cx="200.5" cy="77.6" r="1.7"/><circle cx="200.8" cy="77.1" r="1.7"/><circle cx="200.7" cy="77.2" r="1.7"/></g>
<g fill="#F8766D" fill-opacity="0.75"><circle cx="206.0" cy="76.4" r="1.7"/></g>
<g fill="#F564E3" fill-opacity="0.75"><circle cx="210.0" cy="77.6" r="1.7"/></g>
<g fill="#B79F00" fill-opacity="0.75"><circle cx="216.9" cy="82.7" r="1.7"/><circle cx="216.0" cy="82.8" r="1.7"/><circle cx="216.9" cy="80.9" r="1.7"/><circle cx="215.8" cy="81.2" r="1.7"/><circle cx="216.9" cy="82.5" r="1.7"/><circle cx="215.8" cy="80.8" r="1.7"/><circle cx="217.0" cy="81.2" r="1.7"/><circle cx="216.9" cy="81.0" r="1.7"/><circle cx="217.4" cy="80.2" r="1.7"/><circle cx="216.9" cy="81.3" r="1.7"/><circle cx="218.1" cy="81.1" r="1.7"/><circle cx="217.2" cy="80.1" r="1.7"/><circle cx="217.6" cy="80.9" r="1.7"/><circle cx="218.8" cy="80.0" r="1.7"/><circle cx="218.7" cy="79.9" r="1.7"/><circle cx="219.4" cy="78.9" r="1.7"/><circle cx="219.3" cy="79.2" r="1.7"/><circle cx="218.9" cy="79.5" r="1.7"/><circle cx="219.4" cy="80.1" r="1.7"/></g>
<g fill="#619CFF" fill-opacity="0.75"><circle cx="214.0" cy="75.0" r="1.7"/></g>
<g fill="#F564E3" fill-opacity="0.75"><circle cx="216.0" cy="72.0" r="1.7"/></g>
<g fill="#F564E3" fill-opacity="0.75"><circle cx="218.0" cy="74.0" r="1.7"/></g>
<g fill="#00BA38" fill-opacity="0.75"><circle cx="213.6" cy="64.6" r="1.7"/></g>
<g fill="#619CFF" fill-opacity="0.75"><circle cx="218.7" cy="66.4" r="1.7"/><circle cx="216.8" cy="66.7" r="1.7"/><circle cx="218.7" cy="66.0" r="1.7"/><circle cx="217.9" cy="67.0" r="1.7"/><circle cx="220.2" cy="64.2" r="1.7"/><circle cx="219.0" cy="63.7" r="1.7"/><circle cx="219.4" cy="64.8" r="1.7"/><circle cx="219.3" cy="64.2" r="1.7"/><circle cx="218.9" cy="64.2" r="1.7"/><circle cx="219.4" cy="63.9" r="1.7"/><circle cx="220.8" cy="63.9" r="1.7"/><circle cx="221.2" cy="63.2" r="1.7"/><circle cx="220.8" cy="62.9" r="1.7"/><circle cx="221.6" cy="62.8" r="1.7"/><circle cx="222.1" cy="61.7" r="1.7"/><circle cx="223.2" cy="62.7" r="1.7"/><circle cx="220.9" cy="60.5" r="1.7"/><circle cx="224.1" cy="60.8" r="1.7"/><circle cx="222.3" cy="62.5" r="1.7"/><circle cx="223.7" cy="61.8" r="1.7"/><circle cx="225.0" cy="59.7" r="1.7"/><circle cx="224.0" cy="60.4" r="1.7"/><circle cx="223.1" cy="58.7" r="1.7"/><circle cx="224.5" cy="59.8" r="1.7"/><circle cx="225.0" cy="59.9" r="1.7"/><circle cx="224.9" cy="59.3" r="1.7"/><circle cx="225.0" cy="58.6" r="1.7"/><circle cx="225.3" cy="58.2" r="1.7"/><circle cx="225.8" cy="56.6" r="1.7"/><circle cx="226.4" cy="56.4" r="1.7"/><circle cx="226.4" cy="56.3" r="1.7"/><circle cx="226.7" cy="57.1" r="1.7"/><circle cx="226.8" cy="56.6" r="1.7"/><circle cx="228.1" cy="55.6" r="1.7"/><circle cx="227.0" cy="56.9" r="1.7"/><circle cx="228.8" cy="55.1" r="1.7"/><circle cx="229.1" cy="54.3" r="1.7"/><circle cx="228.9" cy="54.8" r="1.7"/><circle cx="227.7" cy="55.0" r="1.7"/><circle cx="229.6" cy="53.1" r="1.7"/><circle cx="230.6" cy="52.5" r="1.7"/><circle cx="230.8" cy="52.7" r="1.7"/><circle cx="230.3" cy="53.4" r="1.7"/><circle cx="230.3" cy="52.9" r="1.7"/><circle cx="230.8" cy="52.2" r="1.7"/><circle cx="230.0" cy="52.2" r="1.7"/><circle cx="231.0" cy="52.2" r="1.7"/><circle cx="231.2" cy="49.8" r="1.7"/></g>
<g fill="#B79F00" fill-opacity="0.75"><circle cx="221.0" cy="66.0" r="1.7"/><circle cx="220.6" cy="66.4" r="1.7"/><circle cx="221.1" cy="66.2" r="1.7"/><circle cx="221.7" cy="66.0" r="1.7"/><circle cx="222.6" cy="66.5" r="1.7"/><circle cx="223.1" cy="65.5" r="1.7"/><circle cx="221.2" cy="64.8" r="1.7"/><circle cx="223.6" cy="63.8" r="1.7"/><circle cx="223.7" cy="65.2" r="1.7"/><circle cx="223.5" cy="64.5" r="1.7"/><circle cx="224.6" cy="64.6" r="1.7"/><circle cx="225.1" cy="64.2" r="1.7"/><circle cx="225.6" cy="63.8" r="1.7"/><circle cx="224.7" cy="63.4" r="1.7"/><circle cx="224.5" cy="62.0" r="1.7"/><circle cx="225.8" cy="63.0" r="1.7"/></g>
<g fill="#F564E3" fill-opacity="0.75"><circle cx="221.9" cy="76.6" r="1.7"/><circle cx="221.4" cy="75.8" r="1.7"/><circle cx="223.2" cy="75.0" r="1.7"/><circle cx="222.5" cy="73.3" r="1.7"/><circle cx="222.3" cy="74.8" r="1.7"/><circle cx="223.8" cy="74.1" r="1.7"/><circle cx="223.8" cy="73.5" r="1.7"/><circle cx="224.7" cy="73.1" r="1.7"/><circle cx="223.9" cy="72.4" r="1.7"/><circle cx="225.9" cy="71.8" r="1.7"/><circle cx="224.6" cy="73.4" r="1.7"/><circle cx="225.6" cy="71.6" r="1.7"/><circle cx="224.6" cy="71.2" r="1.7"/><circle cx="226.6" cy="70.9" r="1.7"/><circle cx="224.1" cy="71.4" r="1.7"/><circle cx="226.1" cy="71.2" r="1.7"/><circle cx="225.2" cy="71.0" r="1.7"/><circle cx="227.4" cy="71.0" r="1.7"/><circle cx="225.4" cy="68.9" r="1.7"/><circle cx="227.3" cy="71.3" r="1.7"/><circle cx="225.5" cy="68.9" r="1.7"/><circle cx="226.9" cy="69.9" r="1.7"/><circle cx="226.3" cy="68.8" r="1.7"/><circle cx="228.7" cy="68.6" r="1.7"/><circle cx="228.1" cy="69.6" r="1.7"/><circle cx="227.4" cy="67.4" r="1.7"/><circle cx="229.2" cy="67.4" r="1.7"/><circle cx="228.8" cy="65.7" r="1.7"/><circle cx="229.5" cy="67.7" r="1.7"/></g>
<g fill="#F564E3" fill-opacity="0.75"><circle cx="227.7" cy="64.5" r="1.7"/><circle cx="226.8" cy="62.3" r="1.7"/><circle cx="228.4" cy="61.9" r="1.7"/><circle cx="228.1" cy="62.9" r="1.7"/><circle cx="228.9" cy="62.0" r="1.7"/><circle cx="228.9" cy="60.9" r="1.7"/><circle cx="228.6" cy="60.5" r="1.7"/><circle cx="229.0" cy="62.1" r="1.7"/><circle cx="228.7" cy="59.9" r="1.7"/><circle cx="230.4" cy="60.2" r="1.7"/><circle cx="231.3" cy="59.5" r="1.7"/><circle cx="231.3" cy="60.3" r="1.7"/><circle cx="230.0" cy="59.8" r="1.7"/><circle cx="231.9" cy="58.0" r="1.7"/><circle cx="230.9" cy="59.6" r="1.7"/><circle cx="231.6" cy="59.5" r="1.7"/><circle cx="233.1" cy="58.3" r="1.7"/><circle cx="232.6" cy="57.6" r="1.7"/><circle cx="232.1" cy="55.9" r="1.7"/></g>
<g fill="#619CFF" fill-opacity="0.75"><circle cx="235.0" cy="64.0" r="1.7"/></g>
<g fill="#F8766D" fill-opacity="0.75"><circle cx="214.0" cy="55.8" r="1.7"/><circle cx="215.2" cy="54.6" r="1.7"/><circle cx="214.0" cy="56.3" r="1.7"/><circle cx="213.3" cy="57.3" r="1.7"/><circle cx="213.5" cy="56.2" r="1.7"/><circle cx="216.6" cy="55.8" r="1.7"/><circle cx="215.8" cy="54.9" r="1.7"/><circle cx="215.3" cy="54.8" r="1.7"/><circle cx="216.0" cy="54.2" r="1.7"/><circle cx="217.4" cy="54.0" r="1.7"/><circle cx="215.9" cy="56.5" r="1.7"/><circle cx="217.0" cy="55.4" r="1.7"/><circle cx="215.9" cy="53.6" r="1.7"/><circle cx="216.9" cy="53.8" r="1.7"/><circle cx="217.6" cy="52.8" r="1.7"/><circle cx="218.8" cy="53.8" r="1.7"/><circle cx="216.1" cy="52.4" r="1.7"/><circle cx="216.2" cy="53.4" r="1.7"/><circle cx="217.1" cy="51.8" r="1.7"/><circle cx="217.3" cy="52.2" r="1.7"/><circle cx="219.9" cy="54.8" r="1.7"/><circle cx="219.5" cy="53.1" r="1.7"/><circle cx="220.0" cy="50.6" r="1.7"/><circle cx="219.7" cy="52.1" r="1.7"/><circle cx="218.7" cy="53.8" r="1.7"/><circle cx="220.3" cy="52.7" r="1.7"/><circle cx="221.5" cy="50.5" r="1.7"/><circle cx="219.0" cy="51.7" r="1.7"/><circle cx="221.9" cy="50.0" r="1.7"/><circle cx="219.1" cy="51.5" r="1.7"/><circle cx="221.8" cy="51.4" r="1.7"/><circle cx="220.3" cy="50.8" r="1.7"/><circle cx="220.4" cy="51.8" r="1.7"/><circle cx="221.4" cy="50.0" r="1.7"/><circle cx="223.3" cy="50.0" r="1.7"/><circle cx="223.4" cy="49.8" r="1.7"/><circle cx="222.9" cy="50.6" r="1.7"/><circle cx="223.7" cy="49.0" r="1.7"/><circle cx="224.1" cy="50.1" r="1.7"/><circle cx="222.6" cy="49.1" r="1.7"/><circle cx="223.8" cy="47.5" r="1.7"/><circle cx="223.9" cy="49.5" r="1.7"/><circle cx="225.7" cy="48.7" r="1.7"/><circle cx="225.2" cy="49.8" r="1.7"/><circle cx="223.8" cy="48.9" r="1.7"/><circle cx="225.6" cy="47.7" r="1.7"/><circle cx="223.8" cy="47.1" r="1.7"/><circle cx="223.6" cy="47.9" r="1.7"/></g>
<g fill="#00BFC4" fill-opacity="0.75"><circle cx="221.2" cy="58.5" r="1.7"/><circle cx="221.1" cy="57.1" r="1.7"/><circle cx="221.1" cy="56.5" r="1.7"/><circle cx="221.3" cy="56.4" r="1.7"/><circle cx="222.6" cy="56.5" r="1.7"/><circle cx="222.0" cy="55.0" r="1.7"/><circle cx="223.0" cy="55.0" r="1.7"/><circle cx="223.1" cy="55.6" r="1.7"/><circle cx="222.6" cy="54.2" r="1.7"/><circle cx="222.5" cy="54.5" r="1.7"/><circle cx="223.7" cy="53.9" r="1.7"/><circle cx="224.1" cy="54.0" r="1.7"/><circle cx="224.4" cy="53.0" r="1.7"/><circle cx="224.3" cy="52.5" r="1.7"/><circle cx="223.6" cy="51.3" r="1.7"/><circle cx="223.4" cy="52.0" r="1.7"/><circle cx="224.5" cy="50.4" r="1.7"/><circle cx="225.3" cy="51.7" r="1.7"/><circle cx="224.9" cy="49.9" r="1.7"/></g>
<g fill="#00BA38" fill-opacity="0.75"><circle cx="223.6" cy="51.7" r="1.7"/><circle cx="223.8" cy="51.0" r="1.7"/><circle cx="223.9" cy="50.4" r="1.7"/><circle cx="224.0" cy="49.7" r="1.7"/><circle cx="224.1" cy="49.9" r="1.7"/><circle cx="224.8" cy="49.3" r="1.7"/></g>
<g fill="#00BFC4" fill-opacity="0.75"><circle cx="218.4" cy="46.6" r="1.7"/><circle cx="218.8" cy="45.9" r="1.7"/><circle cx="221.0" cy="46.2" r="1.7"/><circle cx="222.2" cy="46.3" r="1.7"/><circle cx="221.5" cy="45.6" r="1.7"/><circle cx="222.8" cy="46.4" r="1.7"/><circle cx="222.8" cy="44.9" r="1.7"/><circle cx="222.5" cy="45.2" r="1.7"/><circle cx="223.1" cy="45.7" r="1.7"/><circle cx="224.5" cy="46.4" r="1.7"/><circle cx="225.6" cy="45.1" r="1.7"/><circle cx="226.9" cy="44.5" r="1.7"/><circle cx="225.3" cy="45.7" r="1.7"/><circle cx="227.0" cy="45.2" r="1.7"/><circle cx="227.8" cy="44.6" r="1.7"/><circle cx="226.7" cy="44.9" r="1.7"/><circle cx="229.4" cy="45.4" r="1.7"/><circle cx="228.7" cy="45.0" r="1.7"/><circle cx="229.4" cy="43.9" r="1.7"/><circle cx="231.5" cy="44.5" r="1.7"/><circle cx="230.5" cy="43.7" r="1.7"/><circle cx="231.1" cy="44.5" r="1.7"/><circle cx="231.5" cy="44.0" r="1.7"/><circle cx="232.7" cy="44.1" r="1.7"/><circle cx="233.8" cy="43.7" r="1.7"/><circle cx="233.7" cy="43.3" r="1.7"/></g>
<g fill="#F8766D" fill-opacity="0.75"><circle cx="226.2" cy="41.6" r="1.7"/><circle cx="226.2" cy="41.1" r="1.7"/><circle cx="225.6" cy="42.5" r="1.7"/><circle cx="226.0" cy="39.7" r="1.7"/><circle cx="226.3" cy="40.6" r="1.7"/><circle cx="226.3" cy="39.4" r="1.7"/><circle cx="225.0" cy="39.7" r="1.7"/><circle cx="225.6" cy="40.3" r="1.7"/><circle cx="226.7" cy="40.4" r="1.7"/><circle cx="225.6" cy="38.3" r="1.7"/><circle cx="224.8" cy="40.5" r="1.7"/><circle cx="228.4" cy="39.3" r="1.7"/><circle cx="225.6" cy="39.7" r="1.7"/><circle cx="225.8" cy="38.0" r="1.7"/><circle cx="226.4" cy="38.8" r="1.7"/><circle cx="227.2" cy="37.1" r="1.7"/><circle cx="225.3" cy="36.8" r="1.7"/><circle cx="226.2" cy="38.3" r="1.7"/><circle cx="226.5" cy="37.9" r="1.7"/></g>
<line x1="160.9" y1="126.7" x2="234.6" y2="48.1" stroke="#000" stroke-width="1.5"/>
<line x1="157.5" y1="124.0" x2="243.5" y2="31.0" stroke="#000" stroke-width="1.5" stroke-dasharray="6 6"/>
<text x="241.4" y="118.4" font-size="10.4" fill="#1c1c1c" text-anchor="end" textLength="57.4" lengthAdjust="spacingAndGlyphs">RMSE: 0.032</text>
</g>
<rect x="153.8" y="26.2" width="94.4" height="101.9" fill="none" stroke="#333" stroke-width="0.9"/>
</g>
<g>
<clipPath id="cp02"><rect x="256.9" y="26.2" width="94.4" height="101.9"/></clipPath>
<rect x="256.9" y="26.2" width="94.4" height="101.9" fill="#fff"/>
<g clip-path="url(#cp02)">
<line x1="269.2" x2="269.2" y1="26.2" y2="128.1" stroke="#F7F7F7" stroke-width="0.5"/>
<line y1="114.7" y2="114.7" x1="256.9" x2="351.29999999999995" stroke="#F7F7F7" stroke-width="0.5"/>
<line x1="286.4" x2="286.4" y1="26.2" y2="128.1" stroke="#F7F7F7" stroke-width="0.5"/>
<line y1="96.1" y2="96.1" x1="256.9" x2="351.29999999999995" stroke="#F7F7F7" stroke-width="0.5"/>
<line x1="303.6" x2="303.6" y1="26.2" y2="128.1" stroke="#F7F7F7" stroke-width="0.5"/>
<line y1="77.5" y2="77.5" x1="256.9" x2="351.29999999999995" stroke="#F7F7F7" stroke-width="0.5"/>
<line x1="320.8" x2="320.8" y1="26.2" y2="128.1" stroke="#F7F7F7" stroke-width="0.5"/>
<line y1="58.9" y2="58.9" x1="256.9" x2="351.29999999999995" stroke="#F7F7F7" stroke-width="0.5"/>
<line x1="338.0" x2="338.0" y1="26.2" y2="128.1" stroke="#F7F7F7" stroke-width="0.5"/>
<line y1="40.3" y2="40.3" x1="256.9" x2="351.29999999999995" stroke="#F7F7F7" stroke-width="0.5"/>
<line x1="260.6" x2="260.6" y1="26.2" y2="128.1" stroke="#E2E2E2" stroke-width="1.1"/>
<line y1="124.0" y2="124.0" x1="256.9" x2="351.29999999999995" stroke="#E2E2E2" stroke-width="1.1"/>
<line x1="277.8" x2="277.8" y1="26.2" y2="128.1" stroke="#E2E2E2" stroke-width="1.1"/>
<line y1="105.4" y2="105.4" x1="256.9" x2="351.29999999999995" stroke="#E2E2E2" stroke-width="1.1"/>
<line x1="295.0" x2="295.0" y1="26.2" y2="128.1" stroke="#E2E2E2" stroke-width="1.1"/>
<line y1="86.8" y2="86.8" x1="256.9" x2="351.29999999999995" stroke="#E2E2E2" stroke-width="1.1"/>
<line x1="312.2" x2="312.2" y1="26.2" y2="128.1" stroke="#E2E2E2" stroke-width="1.1"/>
<line y1="68.2" y2="68.2" x1="256.9" x2="351.29999999999995" stroke="#E2E2E2" stroke-width="1.1"/>
<line x1="329.4" x2="329.4" y1="26.2" y2="128.1" stroke="#E2E2E2" stroke-width="1.1"/>
<line y1="49.6" y2="49.6" x1="256.9" x2="351.29999999999995" stroke="#E2E2E2" stroke-width="1.1"/>
<line x1="346.6" x2="346.6" y1="26.2" y2="128.1" stroke="#E2E2E2" stroke-width="1.1"/>
<line y1="31.0" y2="31.0" x1="256.9" x2="351.29999999999995" stroke="#E2E2E2" stroke-width="1.1"/>
<g fill="#F8766D" fill-opacity="0.75"><circle cx="267.7" cy="121.8" r="1.7"/><circle cx="267.6" cy="120.7" r="1.7"/><circle cx="268.1" cy="122.0" r="1.7"/><circle cx="268.7" cy="120.6" r="1.7"/><circle cx="266.7" cy="119.4" r="1.7"/><circle cx="267.0" cy="119.2" r="1.7"/><circle cx="269.2" cy="120.6" r="1.7"/><circle cx="268.0" cy="120.6" r="1.7"/><circle cx="268.2" cy="119.7" r="1.7"/><circle cx="268.2" cy="120.1" r="1.7"/><circle cx="267.9" cy="118.2" r="1.7"/><circle cx="269.4" cy="118.2" r="1.7"/><circle cx="268.7" cy="117.7" r="1.7"/><circle cx="270.7" cy="117.7" r="1.7"/><circle cx="269.5" cy="118.8" r="1.7"/><circle cx="270.7" cy="117.7" r="1.7"/><circle cx="269.8" cy="117.6" r="1.7"/><circle cx="269.4" cy="118.2" r="1.7"/><circle cx="269.2" cy="116.8" r="1.7"/><circle cx="271.2" cy="117.3" r="1.7"/><circle cx="270.5" cy="116.4" r="1.7"/><circle cx="271.2" cy="116.8" r="1.7"/><circle cx="271.3" cy="117.4" r="1.7"/><circle cx="271.7" cy="117.3" r="1.7"/><circle cx="270.2" cy="115.7" r="1.7"/><circle cx="271.4" cy="115.8" r="1.7"/><circle cx="272.9" cy="114.3" r="1.7"/><circle cx="272.3" cy="114.5" r="1.7"/><circle cx="272.4" cy="114.3" r="1.7"/><circle cx="272.2" cy="115.0" r="1.7"/><circle cx="271.2" cy="113.7" r="1.7"/><circle cx="273.0" cy="114.0" r="1.7"/><circle cx="273.0" cy="114.2" r="1.7"/><circle cx="273.6" cy="114.7" r="1.7"/><circle cx="274.6" cy="112.0" r="1.7"/><circle cx="272.3" cy="112.3" r="1.7"/><circle cx="273.9" cy="112.3" r="1.7"/><circle cx="273.4" cy="113.6" r="1.7"/><circle cx="275.1" cy="114.3" r="1.7"/><circle cx="273.9" cy="112.3" r="1.7"/><circle cx="274.4" cy="112.5" r="1.7"/><circle cx="274.5" cy="111.7" r="1.7"/></g>
<g fill="#00BA38" fill-opacity="0.75"><circle cx="270.6" cy="114.3" r="1.7"/><circle cx="271.8" cy="113.4" r="1.7"/><circle cx="272.1" cy="112.6" r="1.7"/><circle cx="272.4" cy="113.4" r="1.7"/><circle cx="273.9" cy="110.9" r="1.7"/><circle cx="273.4" cy="111.4" r="1.7"/><circle cx="273.9" cy="111.6" r="1.7"/><circle cx="275.3" cy="110.4" r="1.7"/><circle cx="274.6" cy="110.7" r="1.7"/><circle cx="274.4" cy="109.3" r="1.7"/><circle cx="276.1" cy="107.9" r="1.7"/><circle cx="277.2" cy="109.2" r="1.7"/><circle cx="276.9" cy="109.1" r="1.7"/></g>
<g fill="#B79F00" fill-opacity="0.75"><circle cx="271.4" cy="112.3" r="1.7"/><circle cx="273.2" cy="110.8" r="1.7"/><circle cx="272.7" cy="112.0" r="1.7"/><circle cx="273.5" cy="111.5" r="1.7"/><circle cx="274.3" cy="110.5" r="1.7"/><circle cx="274.6" cy="109.8" r="1.7"/><circle cx="275.4" cy="109.5" r="1.7"/><circle cx="276.2" cy="108.6" r="1.7"/><circle cx="274.4" cy="108.5" r="1.7"/><circle cx="276.5" cy="107.3" r="1.7"/><circle cx="276.3" cy="108.4" r="1.7"/><circle cx="276.9" cy="107.0" r="1.7"/><circle cx="277.5" cy="106.4" r="1.7"/><circle cx="277.4" cy="107.6" r="1.7"/><circle cx="278.9" cy="106.8" r="1.7"/><circle cx="279.5" cy="106.2" r="1.7"/></g>
<g fill="#B79F00" fill-opacity="0.75"><circle cx="283.0" cy="105.0" r="1.7"/></g>
<g fill="#00BFC4" fill-opacity="0.75"><circle cx="273.1" cy="110.3" r="1.7"/><circle cx="273.4" cy="109.4" r="1.7"/><circle cx="273.1" cy="108.8" r="1.7"/><circle cx="273.8" cy="108.6" r="1.7"/><circle cx="273.8" cy="108.5" r="1.7"/><circle cx="274.0" cy="106.4" r="1.7"/><circle cx="275.0" cy="106.9" r="1.7"/><circle cx="275.5" cy="106.2" r="1.7"/><circle cx="275.7" cy="106.3" r="1.7"/><circle cx="275.8" cy="105.0" r="1.7"/><circle cx="276.0" cy="105.2" r="1.7"/><circle cx="276.4" cy="104.3" r="1.7"/><circle cx="276.7" cy="102.9" r="1.7"/><circle cx="275.7" cy="103.5" r="1.7"/><circle cx="277.7" cy="102.3" r="1.7"/><circle cx="276.8" cy="102.5" r="1.7"/></g>
<g fill="#619CFF" fill-opacity="0.75"><circle cx="273.6" cy="104.2" r="1.7"/><circle cx="275.3" cy="102.2" r="1.7"/><circle cx="274.1" cy="103.8" r="1.7"/><circle cx="274.3" cy="102.7" r="1.7"/><circle cx="275.8" cy="102.1" r="1.7"/><circle cx="275.0" cy="101.1" r="1.7"/><circle cx="275.5" cy="100.5" r="1.7"/><circle cx="276.3" cy="99.5" r="1.7"/><circle cx="275.5" cy="99.3" r="1.7"/><circle cx="277.0" cy="99.5" r="1.7"/><circle cx="276.9" cy="98.7" r="1.7"/><circle cx="276.7" cy="98.5" r="1.7"/><circle cx="276.7" cy="97.4" r="1.7"/><circle cx="277.4" cy="98.1" r="1.7"/></g>
<g fill="#F8766D" fill-opacity="0.75"><circle cx="288.0" cy="101.4" r="1.7"/></g>
<g fill="#00BA38" fill-opacity="0.75"><circle cx="279.0" cy="101.0" r="1.7"/><circle cx="279.6" cy="100.8" r="1.7"/><circle cx="280.1" cy="100.1" r="1.7"/><circle cx="281.0" cy="100.0" r="1.7"/><circle cx="281.4" cy="99.1" r="1.7"/><circle cx="282.1" cy="99.1" r="1.7"/></g>
<g fill="#00BFC4" fill-opacity="0.75"><circle cx="280.1" cy="98.3" r="1.7"/><circle cx="280.8" cy="97.7" r="1.7"/><circle cx="281.1" cy="97.2" r="1.7"/><circle cx="281.7" cy="96.4" r="1.7"/><circle cx="281.7" cy="96.1" r="1.7"/></g>
<g fill="#F8766D" fill-opacity="0.75"><circle cx="284.0" cy="93.0" r="1.7"/></g>
<g fill="#00BFC4" fill-opacity="0.75"><circle cx="288.0" cy="92.0" r="1.7"/></g>
<g fill="#F8766D" fill-opacity="0.75"><circle cx="290.5" cy="90.6" r="1.7"/><circle cx="291.6" cy="89.9" r="1.7"/><circle cx="291.9" cy="90.0" r="1.7"/><circle cx="292.8" cy="90.0" r="1.7"/><circle cx="292.3" cy="89.3" r="1.7"/><circle cx="293.2" cy="89.7" r="1.7"/><circle cx="292.4" cy="88.7" r="1.7"/><circle cx="293.5" cy="88.3" r="1.7"/><circle cx="293.8" cy="87.5" r="1.7"/><circle cx="293.4" cy="87.5" r="1.7"/><circle cx="294.5" cy="88.0" r="1.7"/></g>
<g fill="#F8766D" fill-opacity="0.75"><circle cx="300.6" cy="88.0" r="1.7"/></g>
<g fill="#619CFF" fill-opacity="0.75"><circle cx="290.0" cy="81.6" r="1.7"/></g>
<g fill="#00BA38" fill-opacity="0.75"><circle cx="291.0" cy="83.9" r="1.7"/><circle cx="292.1" cy="84.4" r="1.7"/><circle cx="293.7" cy="84.1" r="1.7"/><circle cx="292.5" cy="83.3" r="1.7"/><circle cx="294.2" cy="81.9" r="1.7"/><circle cx="295.2" cy="83.0" r="1.7"/><circle cx="294.6" cy="82.3" r="1.7"/><circle cx="294.8" cy="82.1" r="1.7"/><circle cx="296.1" cy="82.5" r="1.7"/><circle cx="296.0" cy="82.5" r="1.7"/><circle cx="295.0" cy="81.0" r="1.7"/><circle cx="297.1" cy="80.9" r="1.7"/><circle cx="296.8" cy="80.4" r="1.7"/><circle cx="297.3" cy="81.1" r="1.7"/><circle cx="297.7" cy="79.6" r="1.7"/><circle cx="297.4" cy="80.0" r="1.7"/><circle cx="298.8" cy="80.5" r="1.7"/><circle cx="298.5" cy="78.6" r="1.7"/><circle cx="298.5" cy="79.8" r="1.7"/><circle cx="299.4" cy="79.0" r="1.7"/><circle cx="300.9" cy="77.6" r="1.7"/><circle cx="300.4" cy="78.8" r="1.7"/><circle cx="301.3" cy="78.3" r="1.7"/><circle cx="300.4" cy="77.5" r="1.7"/><circle cx="300.8" cy="76.6" r="1.7"/><circle cx="300.8" cy="76.8" r="1.7"/></g>
<g fill="#619CFF" fill-opacity="0.75"><circle cx="300.0" cy="71.4" r="1.7"/></g>
<g fill="#619CFF" fill-opacity="0.75"><circle cx="306.0" cy="72.1" r="1.7"/><circle cx="305.3" cy="73.2" r="1.7"/><circle cx="305.7" cy="72.7" r="1.7"/><circle cx="307.1" cy="72.2" r="1.7"/><circle cx="306.9" cy="72.6" r="1.7"/><circle cx="307.1" cy="72.1" r="1.7"/><circle cx="307.9" cy="70.8" r="1.7"/><circle cx="308.9" cy="71.4" r="1.7"/><circle cx="307.8" cy="70.5" r="1.7"/><circle cx="308.6" cy="70.8" r="1.7"/><circle cx="309.5" cy="70.0" r="1.7"/><circle cx="309.9" cy="70.3" r="1.7"/><circle cx="309.8" cy="69.5" r="1.7"/></g>
<g fill="#00BFC4" fill-opacity="0.75"><circle cx="294.0" cy="67.0" r="1.7"/></g>
<g fill="#00BFC4" fill-opacity="0.75"><circle cx="293.4" cy="71.0" r="1.7"/></g>
<g fill="#00BFC4" fill-opacity="0.75"><circle cx="300.0" cy="67.1" r="1.7"/><circle cx="300.7" cy="66.5" r="1.7"/><circle cx="301.1" cy="66.5" r="1.7"/><circle cx="301.7" cy="65.8" r="1.7"/><circle cx="302.4" cy="66.0" r="1.7"/><circle cx="302.6" cy="66.5" r="1.7"/></g>
<g fill="#F8766D" fill-opacity="0.75"><circle cx="308.6" cy="65.0" r="1.7"/></g>
<g fill="#619CFF" fill-opacity="0.75"><circle cx="313.0" cy="61.0" r="1.7"/></g>
<g fill="#00BA38" fill-opacity="0.75"><circle cx="316.0" cy="56.0" r="1.7"/></g>
<g fill="#619CFF" fill-opacity="0.75"><circle cx="320.6" cy="66.1" r="1.7"/><circle cx="322.2" cy="65.0" r="1.7"/><circle cx="322.2" cy="67.8" r="1.7"/><circle cx="320.7" cy="64.9" r="1.7"/><circle cx="323.8" cy="66.5" r="1.7"/><circle cx="323.0" cy="66.7" r="1.7"/><circle cx="323.7" cy="64.8" r="1.7"/><circle cx="323.1" cy="65.5" r="1.7"/><circle cx="322.6" cy="66.2" r="1.7"/><circle cx="323.5" cy="64.8" r="1.7"/><circle cx="324.4" cy="66.5" r="1.7"/><circle cx="324.4" cy="65.6" r="1.7"/><circle cx="324.5" cy="65.2" r="1.7"/><circle cx="325.0" cy="64.5" r="1.7"/><circle cx="325.6" cy="66.3" r="1.7"/><circle cx="326.7" cy="65.3" r="1.7"/><circle cx="327.2" cy="64.2" r="1.7"/><circle cx="325.7" cy="64.0" r="1.7"/><circle cx="327.2" cy="64.5" r="1.7"/><circle cx="328.1" cy="65.0" r="1.7"/><circle cx="326.5" cy="63.5" r="1.7"/><circle cx="329.1" cy="64.2" r="1.7"/><circle cx="327.5" cy="63.6" r="1.7"/><circle cx="328.2" cy="63.4" r="1.7"/><circle cx="328.7" cy="64.2" r="1.7"/><circle cx="328.8" cy="63.0" r="1.7"/><circle cx="329.6" cy="63.0" r="1.7"/><circle cx="330.3" cy="62.8" r="1.7"/><circle cx="330.3" cy="64.5" r="1.7"/><circle cx="329.0" cy="63.5" r="1.7"/><circle cx="330.8" cy="63.1" r="1.7"/><circle cx="331.4" cy="64.0" r="1.7"/></g>
<g fill="#619CFF" fill-opacity="0.75"><circle cx="323.2" cy="61.2" r="1.7"/><circle cx="323.6" cy="60.6" r="1.7"/><circle cx="323.8" cy="60.4" r="1.7"/><circle cx="325.9" cy="61.5" r="1.7"/><circle cx="326.1" cy="61.4" r="1.7"/><circle cx="326.6" cy="61.0" r="1.7"/><circle cx="326.6" cy="61.4" r="1.7"/><circle cx="327.7" cy="60.1" r="1.7"/><circle cx="327.7" cy="60.7" r="1.7"/><circle cx="329.1" cy="59.7" r="1.7"/><circle cx="329.3" cy="60.8" r="1.7"/><circle cx="328.8" cy="60.2" r="1.7"/><circle cx="329.4" cy="60.2" r="1.7"/><circle cx="330.9" cy="59.7" r="1.7"/><circle cx="331.4" cy="59.9" r="1.7"/><circle cx="331.2" cy="59.8" r="1.7"/><circle cx="332.4" cy="60.2" r="1.7"/><circle cx="333.0" cy="60.6" r="1.7"/><circle cx="333.3" cy="59.1" r="1.7"/></g>
<g fill="#619CFF" fill-opacity="0.75"><circle cx="338.0" cy="59.3" r="1.7"/></g>
<g fill="#619CFF" fill-opacity="0.75"><circle cx="317.0" cy="59.0" r="1.7"/></g>
<g fill="#F8766D" fill-opacity="0.75"><circle cx="319.5" cy="58.2" r="1.7"/><circle cx="319.2" cy="57.6" r="1.7"/><circle cx="318.1" cy="56.2" r="1.7"/><circle cx="318.1" cy="54.5" r="1.7"/><circle cx="319.1" cy="56.1" r="1.7"/><circle cx="320.1" cy="58.0" r="1.7"/><circle cx="319.8" cy="56.5" r="1.7"/><circle cx="320.8" cy="55.5" r="1.7"/><circle cx="319.5" cy="55.5" r="1.7"/><circle cx="318.9" cy="55.6" r="1.7"/><circle cx="319.5" cy="55.3" r="1.7"/><circle cx="320.9" cy="54.7" r="1.7"/><circle cx="321.6" cy="56.3" r="1.7"/><circle cx="319.6" cy="56.5" r="1.7"/><circle cx="322.4" cy="54.7" r="1.7"/><circle cx="320.7" cy="54.3" r="1.7"/><circle cx="319.9" cy="56.0" r="1.7"/><circle cx="321.6" cy="52.8" r="1.7"/><circle cx="321.7" cy="54.8" r="1.7"/><circle cx="320.4" cy="54.2" r="1.7"/><circle cx="320.8" cy="55.4" r="1.7"/><circle cx="321.3" cy="55.3" r="1.7"/><circle cx="322.3" cy="52.5" r="1.7"/><circle cx="320.5" cy="54.5" r="1.7"/><circle cx="322.5" cy="54.1" r="1.7"/><circle cx="321.0" cy="55.2" r="1.7"/><circle cx="322.3" cy="51.5" r="1.7"/><circle cx="323.2" cy="53.6" r="1.7"/><circle cx="322.2" cy="54.1" r="1.7"/><circle cx="324.3" cy="54.5" r="1.7"/><circle cx="323.1" cy="52.1" r="1.7"/><circle cx="322.2" cy="52.7" r="1.7"/><circle cx="324.2" cy="53.6" r="1.7"/><circle cx="321.6" cy="51.9" r="1.7"/><circle cx="322.5" cy="51.6" r="1.7"/><circle cx="324.1" cy="51.7" r="1.7"/><circle cx="324.3" cy="50.9" r="1.7"/><circle cx="324.8" cy="53.1" r="1.7"/><circle cx="324.5" cy="52.8" r="1.7"/><circle cx="324.5" cy="50.1" r="1.7"/><circle cx="323.3" cy="51.9" r="1.7"/><circle cx="325.0" cy="52.0" r="1.7"/><circle cx="324.7" cy="51.1" r="1.7"/><circle cx="325.4" cy="50.6" r="1.7"/><circle cx="322.4" cy="50.0" r="1.7"/><circle cx="324.3" cy="50.0" r="1.7"/><circle cx="325.7" cy="50.9" r="1.7"/><circle cx="323.8" cy="52.0" r="1.7"/><circle cx="325.5" cy="48.5" r="1.7"/><circle cx="323.5" cy="51.1" r="1.7"/><circle cx="325.3" cy="50.4" r="1.7"/></g>
<g fill="#F8766D" fill-opacity="0.75"><circle cx="327.1" cy="49.3" r="1.7"/><circle cx="327.7" cy="48.7" r="1.7"/><circle cx="327.8" cy="48.5" r="1.7"/><circle cx="328.1" cy="49.3" r="1.7"/><circle cx="328.5" cy="49.6" r="1.7"/><circle cx="328.3" cy="49.4" r="1.7"/><circle cx="327.9" cy="48.8" r="1.7"/><circle cx="327.6" cy="48.6" r="1.7"/><circle cx="328.4" cy="47.5" r="1.7"/><circle cx="329.9" cy="46.4" r="1.7"/><circle cx="329.0" cy="46.8" r="1.7"/><circle cx="330.7" cy="47.1" r="1.7"/><circle cx="330.8" cy="48.3" r="1.7"/><circle cx="331.2" cy="45.9" r="1.7"/><circle cx="330.5" cy="45.3" r="1.7"/><circle cx="331.0" cy="44.9" r="1.7"/><circle cx="329.8" cy="45.6" r="1.7"/><circle cx="330.3" cy="45.9" r="1.7"/><circle cx="331.2" cy="46.6" r="1.7"/></g>
<g fill="#00BA38" fill-opacity="0.75"><circle cx="315.5" cy="56.2" r="1.7"/></g>
<g fill="#00BA38" fill-opacity="0.75"><circle cx="325.1" cy="59.0" r="1.7"/><circle cx="324.4" cy="59.5" r="1.7"/><circle cx="325.3" cy="58.7" r="1.7"/><circle cx="326.2" cy="59.0" r="1.7"/><circle cx="325.7" cy="59.1" r="1.7"/><circle cx="325.3" cy="58.3" r="1.7"/><circle cx="326.7" cy="58.4" r="1.7"/><circle cx="326.5" cy="57.2" r="1.7"/><circle cx="327.5" cy="56.9" r="1.7"/><circle cx="328.8" cy="57.3" r="1.7"/><circle cx="328.2" cy="57.0" r="1.7"/><circle cx="327.6" cy="57.1" r="1.7"/><circle cx="328.2" cy="57.1" r="1.7"/><circle cx="328.5" cy="56.3" r="1.7"/><circle cx="329.6" cy="55.3" r="1.7"/><circle cx="329.3" cy="56.0" r="1.7"/></g>
<g fill="#00BFC4" fill-opacity="0.75"><circle cx="330.3" cy="56.6" r="1.7"/><circle cx="331.0" cy="56.8" r="1.7"/><circle cx="331.4" cy="56.5" r="1.7"/><circle cx="331.8" cy="56.1" r="1.7"/><circle cx="332.4" cy="55.7" r="1.7"/><circle cx="331.4" cy="55.7" r="1.7"/><circle cx="332.0" cy="56.6" r="1.7"/><circle cx="332.3" cy="56.3" r="1.7"/><circle cx="333.9" cy="55.2" r="1.7"/><circle cx="333.7" cy="55.5" r="1.7"/><circle cx="333.7" cy="54.6" r="1.7"/><circle cx="334.3" cy="55.1" r="1.7"/><circle cx="334.4" cy="55.4" r="1.7"/><circle cx="335.5" cy="54.6" r="1.7"/><circle cx="335.3" cy="54.6" r="1.7"/><circle cx="335.8" cy="53.7" r="1.7"/></g>
<g fill="#B79F00" fill-opacity="0.75"><circle cx="318.0" cy="50.0" r="1.7"/></g>
<g fill="#B79F00" fill-opacity="0.75"><circle cx="318.8" cy="56.1" r="1.7"/><circle cx="319.4" cy="55.7" r="1.7"/><circle cx="318.4" cy="55.7" r="1.7"/><circle cx="318.4" cy="56.0" r="1.7"/><circle cx="319.7" cy="55.4" r="1.7"/><circle cx="318.8" cy="55.1" r="1.7"/></g>
<g fill="#B79F00" fill-opacity="0.75"><circle cx="325.5" cy="51.9" r="1.7"/><circle cx="326.6" cy="52.4" r="1.7"/><circle cx="325.8" cy="52.2" r="1.7"/><circle cx="327.4" cy="51.8" r="1.7"/><circle cx="327.6" cy="51.9" r="1.7"/><circle cx="327.6" cy="51.2" r="1.7"/><circle cx="328.2" cy="51.3" r="1.7"/><circle cx="328.0" cy="50.0" r="1.7"/><circle cx="328.1" cy="49.6" r="1.7"/><circle cx="327.8" cy="49.0" r="1.7"/><circle cx="327.5" cy="49.4" r="1.7"/><circle cx="329.0" cy="49.6" r="1.7"/><circle cx="329.7" cy="48.7" r="1.7"/><circle cx="330.2" cy="49.1" r="1.7"/><circle cx="330.9" cy="49.6" r="1.7"/><circle cx="330.0" cy="48.0" r="1.7"/><circle cx="331.3" cy="49.0" r="1.7"/><circle cx="332.1" cy="48.1" r="1.7"/><circle cx="331.4" cy="47.2" r="1.7"/><circle cx="331.6" cy="47.0" r="1.7"/><circle cx="332.1" cy="46.9" r="1.7"/></g>
<line x1="265.4" y1="123.1" x2="337.8" y2="44.7" stroke="#000" stroke-width="1.5"/>
<line x1="260.6" y1="124.0" x2="346.6" y2="31.0" stroke="#000" stroke-width="1.5" stroke-dasharray="6 6"/>
<text x="344.5" y="118.4" font-size="10.4" fill="#1c1c1c" text-anchor="end" textLength="57.4" lengthAdjust="spacingAndGlyphs">RMSE: 0.021</text>
</g>
<rect x="256.9" y="26.2" width="94.4" height="101.9" fill="none" stroke="#333" stroke-width="0.9"/>
</g>
<g>
<clipPath id="cp03"><rect x="359.7" y="26.2" width="94.4" height="101.9"/></clipPath>
<rect x="359.7" y="26.2" width="94.4" height="101.9" fill="#fff"/>
<g clip-path="url(#cp03)">
<line x1="372.0" x2="372.0" y1="26.2" y2="128.1" stroke="#F7F7F7" stroke-width="0.5"/>
<line y1="114.7" y2="114.7" x1="359.7" x2="454.1" stroke="#F7F7F7" stroke-width="0.5"/>
<line x1="389.2" x2="389.2" y1="26.2" y2="128.1" stroke="#F7F7F7" stroke-width="0.5"/>
<line y1="96.1" y2="96.1" x1="359.7" x2="454.1" stroke="#F7F7F7" stroke-width="0.5"/>
<line x1="406.4" x2="406.4" y1="26.2" y2="128.1" stroke="#F7F7F7" stroke-width="0.5"/>
<line y1="77.5" y2="77.5" x1="359.7" x2="454.1" stroke="#F7F7F7" stroke-width="0.5"/>
<line x1="423.6" x2="423.6" y1="26.2" y2="128.1" stroke="#F7F7F7" stroke-width="0.5"/>
<line y1="58.9" y2="58.9" x1="359.7" x2="454.1" stroke="#F7F7F7" stroke-width="0.5"/>
<line x1="440.8" x2="440.8" y1="26.2" y2="128.1" stroke="#F7F7F7" stroke-width="0.5"/>
<line y1="40.3" y2="40.3" x1="359.7" x2="454.1" stroke="#F7F7F7" stroke-width="0.5"/>
<line x1="363.4" x2="363.4" y1="26.2" y2="128.1" stroke="#E2E2E2" stroke-width="1.1"/>
<line y1="124.0" y2="124.0" x1="359.7" x2="454.1" stroke="#E2E2E2" stroke-width="1.1"/>
<line x1="380.6" x2="380.6" y1="26.2" y2="128.1" stroke="#E2E2E2" stroke-width="1.1"/>
<line y1="105.4" y2="105.4" x1="359.7" x2="454.1" stroke="#E2E2E2" stroke-width="1.1"/>
<line x1="397.8" x2="397.8" y1="26.2" y2="128.1" stroke="#E2E2E2" stroke-width="1.1"/>
<line y1="86.8" y2="86.8" x1="359.7" x2="454.1" stroke="#E2E2E2" stroke-width="1.1"/>
<line x1="415.0" x2="415.0" y1="26.2" y2="128.1" stroke="#E2E2E2" stroke-width="1.1"/>
<line y1="68.2" y2="68.2" x1="359.7" x2="454.1" stroke="#E2E2E2" stroke-width="1.1"/>
<line x1="432.2" x2="432.2" y1="26.2" y2="128.1" stroke="#E2E2E2" stroke-width="1.1"/>
<line y1="49.6" y2="49.6" x1="359.7" x2="454.1" stroke="#E2E2E2" stroke-width="1.1"/>
<line x1="449.4" x2="449.4" y1="26.2" y2="128.1" stroke="#E2E2E2" stroke-width="1.1"/>
<line y1="31.0" y2="31.0" x1="359.7" x2="454.1" stroke="#E2E2E2" stroke-width="1.1"/>
<g fill="#F8766D" fill-opacity="0.75"><circle cx="368.9" cy="121.0" r="1.7"/><circle cx="367.2" cy="122.3" r="1.7"/><circle cx="369.1" cy="120.4" r="1.7"/><circle cx="369.4" cy="120.4" r="1.7"/><circle cx="367.6" cy="120.2" r="1.7"/><circle cx="368.7" cy="121.1" r="1.7"/><circle cx="368.3" cy="119.0" r="1.7"/><circle cx="368.1" cy="120.1" r="1.7"/><circle cx="370.1" cy="119.6" r="1.7"/><circle cx="369.4" cy="118.3" r="1.7"/><circle cx="371.3" cy="120.1" r="1.7"/><circle cx="370.1" cy="119.9" r="1.7"/><circle cx="371.6" cy="120.0" r="1.7"/><circle cx="371.0" cy="117.7" r="1.7"/><circle cx="371.7" cy="118.5" r="1.7"/><circle cx="371.1" cy="118.8" r="1.7"/><circle cx="371.7" cy="116.9" r="1.7"/><circle cx="371.8" cy="118.2" r="1.7"/><circle cx="371.7" cy="119.1" r="1.7"/><circle cx="371.0" cy="118.6" r="1.7"/><circle cx="372.0" cy="116.5" r="1.7"/><circle cx="372.6" cy="115.6" r="1.7"/><circle cx="372.2" cy="116.5" r="1.7"/><circle cx="372.1" cy="116.6" r="1.7"/><circle cx="372.5" cy="114.8" r="1.7"/><circle cx="371.4" cy="115.8" r="1.7"/><circle cx="373.9" cy="114.3" r="1.7"/><circle cx="372.6" cy="115.6" r="1.7"/><circle cx="372.7" cy="113.7" r="1.7"/><circle cx="373.2" cy="115.6" r="1.7"/><circle cx="373.7" cy="115.4" r="1.7"/><circle cx="372.9" cy="114.3" r="1.7"/><circle cx="373.9" cy="113.7" r="1.7"/><circle cx="372.8" cy="113.5" r="1.7"/><circle cx="374.6" cy="115.1" r="1.7"/><circle cx="374.0" cy="114.2" r="1.7"/><circle cx="375.1" cy="114.5" r="1.7"/><circle cx="373.9" cy="113.0" r="1.7"/><circle cx="376.2" cy="112.8" r="1.7"/><circle cx="375.8" cy="111.3" r="1.7"/><circle cx="375.3" cy="112.4" r="1.7"/><circle cx="376.9" cy="113.7" r="1.7"/></g>
<g fill="#00BA38" fill-opacity="0.75"><circle cx="369.2" cy="114.0" r="1.7"/><circle cx="369.5" cy="113.5" r="1.7"/><circle cx="370.4" cy="112.9" r="1.7"/><circle cx="370.6" cy="113.0" r="1.7"/><circle cx="371.0" cy="111.8" r="1.7"/><circle cx="372.0" cy="112.5" r="1.7"/></g>
<g fill="#00BFC4" fill-opacity="0.75"><circle cx="371.4" cy="114.0" r="1.7"/><circle cx="371.7" cy="113.4" r="1.7"/><circle cx="372.5" cy="112.3" r="1.7"/><circle cx="373.0" cy="112.4" r="1.7"/><circle cx="372.7" cy="113.0" r="1.7"/><circle cx="373.2" cy="111.7" r="1.7"/><circle cx="374.1" cy="111.3" r="1.7"/><circle cx="375.0" cy="111.2" r="1.7"/><circle cx="375.5" cy="110.0" r="1.7"/><circle cx="375.5" cy="109.9" r="1.7"/></g>
<g fill="#619CFF" fill-opacity="0.75"><circle cx="374.4" cy="117.2" r="1.7"/><circle cx="374.8" cy="115.9" r="1.7"/><circle cx="374.1" cy="115.4" r="1.7"/><circle cx="374.7" cy="116.0" r="1.7"/><circle cx="376.2" cy="114.9" r="1.7"/><circle cx="376.5" cy="114.6" r="1.7"/><circle cx="377.1" cy="112.9" r="1.7"/><circle cx="377.3" cy="113.2" r="1.7"/><circle cx="377.6" cy="112.4" r="1.7"/><circle cx="377.7" cy="112.6" r="1.7"/></g>
<g fill="#B79F00" fill-opacity="0.75"><circle cx="379.1" cy="109.0" r="1.7"/><circle cx="378.6" cy="109.7" r="1.7"/><circle cx="379.0" cy="108.9" r="1.7"/><circle cx="379.8" cy="109.4" r="1.7"/><circle cx="379.9" cy="108.8" r="1.7"/><circle cx="380.3" cy="107.9" r="1.7"/><circle cx="380.1" cy="107.6" r="1.7"/><circle cx="381.3" cy="107.7" r="1.7"/><circle cx="381.3" cy="107.9" r="1.7"/><circle cx="381.6" cy="107.2" r="1.7"/></g>
<g fill="#F564E3" fill-opacity="0.75"><circle cx="372.7" cy="105.8" r="1.7"/><circle cx="372.1" cy="106.2" r="1.7"/><circle cx="372.1" cy="106.1" r="1.7"/><circle cx="373.0" cy="106.5" r="1.7"/><circle cx="373.4" cy="105.4" r="1.7"/><circle cx="374.1" cy="105.6" r="1.7"/><circle cx="375.6" cy="106.5" r="1.7"/><circle cx="374.0" cy="105.0" r="1.7"/><circle cx="374.3" cy="104.0" r="1.7"/><circle cx="375.8" cy="103.5" r="1.7"/><circle cx="377.8" cy="104.6" r="1.7"/><circle cx="377.7" cy="105.0" r="1.7"/><circle cx="376.9" cy="103.2" r="1.7"/><circle cx="376.9" cy="104.4" r="1.7"/><circle cx="378.7" cy="102.2" r="1.7"/><circle cx="378.4" cy="102.3" r="1.7"/><circle cx="378.4" cy="103.0" r="1.7"/><circle cx="377.6" cy="101.9" r="1.7"/><circle cx="381.1" cy="103.6" r="1.7"/><circle cx="378.8" cy="103.6" r="1.7"/><circle cx="381.4" cy="101.3" r="1.7"/><circle cx="380.1" cy="102.2" r="1.7"/><circle cx="381.0" cy="100.7" r="1.7"/><circle cx="380.7" cy="102.2" r="1.7"/><circle cx="382.4" cy="100.7" r="1.7"/><circle cx="381.7" cy="101.5" r="1.7"/><circle cx="382.9" cy="100.9" r="1.7"/><circle cx="383.1" cy="99.6" r="1.7"/><circle cx="382.3" cy="99.8" r="1.7"/><circle cx="383.1" cy="101.2" r="1.7"/><circle cx="384.5" cy="99.3" r="1.7"/><circle cx="383.7" cy="98.3" r="1.7"/></g>
<g fill="#00BFC4" fill-opacity="0.75"><circle cx="387.2" cy="100.3" r="1.7"/><circle cx="387.6" cy="100.3" r="1.7"/><circle cx="388.3" cy="99.6" r="1.7"/><circle cx="389.4" cy="98.5" r="1.7"/><circle cx="389.2" cy="97.9" r="1.7"/><circle cx="389.4" cy="98.0" r="1.7"/></g>
<g fill="#F564E3" fill-opacity="0.75"><circle cx="389.0" cy="96.0" r="1.7"/></g>
<g fill="#F8766D" fill-opacity="0.75"><circle cx="390.4" cy="96.0" r="1.7"/><circle cx="391.9" cy="95.4" r="1.7"/><circle cx="392.3" cy="95.1" r="1.7"/><circle cx="392.2" cy="94.1" r="1.7"/><circle cx="393.0" cy="94.9" r="1.7"/><circle cx="393.8" cy="93.7" r="1.7"/><circle cx="393.1" cy="93.0" r="1.7"/><circle cx="394.5" cy="93.1" r="1.7"/><circle cx="394.3" cy="93.1" r="1.7"/><circle cx="394.6" cy="91.6" r="1.7"/><circle cx="395.6" cy="92.2" r="1.7"/><circle cx="395.0" cy="91.4" r="1.7"/><circle cx="395.7" cy="91.4" r="1.7"/></g>
<g fill="#619CFF" fill-opacity="0.75"><circle cx="393.0" cy="98.0" r="1.7"/></g>
<g fill="#00BA38" fill-opacity="0.75"><circle cx="394.6" cy="95.9" r="1.7"/><circle cx="395.0" cy="95.8" r="1.7"/><circle cx="396.5" cy="94.9" r="1.7"/><circle cx="395.9" cy="95.9" r="1.7"/><circle cx="397.1" cy="94.7" r="1.7"/><circle cx="397.2" cy="95.1" r="1.7"/><circle cx="397.9" cy="94.5" r="1.7"/><circle cx="397.9" cy="94.2" r="1.7"/><circle cx="398.5" cy="94.0" r="1.7"/><circle cx="398.6" cy="93.8" r="1.7"/><circle cx="399.3" cy="93.4" r="1.7"/><circle cx="398.8" cy="92.6" r="1.7"/><circle cx="400.2" cy="92.5" r="1.7"/><circle cx="400.5" cy="92.6" r="1.7"/><circle cx="400.5" cy="92.9" r="1.7"/><circle cx="400.5" cy="92.5" r="1.7"/><circle cx="401.3" cy="92.0" r="1.7"/><circle cx="402.3" cy="91.0" r="1.7"/><circle cx="401.7" cy="90.8" r="1.7"/></g>
<g fill="#00BFC4" fill-opacity="0.75"><circle cx="402.6" cy="89.1" r="1.7"/><circle cx="403.6" cy="88.9" r="1.7"/><circle cx="403.8" cy="87.8" r="1.7"/><circle cx="405.1" cy="87.3" r="1.7"/><circle cx="404.2" cy="87.8" r="1.7"/><circle cx="405.0" cy="87.6" r="1.7"/><circle cx="405.8" cy="86.6" r="1.7"/><circle cx="405.4" cy="86.4" r="1.7"/></g>
<g fill="#619CFF" fill-opacity="0.75"><circle cx="407.1" cy="86.0" r="1.7"/><circle cx="406.8" cy="87.1" r="1.7"/><circle cx="408.2" cy="86.4" r="1.7"/><circle cx="408.1" cy="86.3" r="1.7"/><circle cx="408.9" cy="86.7" r="1.7"/><circle cx="409.1" cy="85.4" r="1.7"/><circle cx="409.8" cy="85.4" r="1.7"/><circle cx="409.4" cy="85.9" r="1.7"/><circle cx="410.9" cy="84.6" r="1.7"/><circle cx="409.9" cy="83.7" r="1.7"/><circle cx="410.1" cy="84.6" r="1.7"/><circle cx="411.5" cy="84.3" r="1.7"/><circle cx="411.6" cy="83.3" r="1.7"/><circle cx="411.5" cy="84.3" r="1.7"/><circle cx="411.3" cy="83.7" r="1.7"/><circle cx="411.7" cy="83.7" r="1.7"/><circle cx="412.7" cy="82.7" r="1.7"/><circle cx="413.3" cy="82.8" r="1.7"/><circle cx="413.4" cy="82.1" r="1.7"/><circle cx="413.1" cy="82.6" r="1.7"/><circle cx="414.5" cy="81.0" r="1.7"/><circle cx="414.8" cy="82.2" r="1.7"/><circle cx="413.7" cy="80.9" r="1.7"/><circle cx="415.7" cy="81.1" r="1.7"/><circle cx="416.0" cy="80.6" r="1.7"/><circle cx="415.5" cy="80.4" r="1.7"/><circle cx="415.5" cy="81.3" r="1.7"/><circle cx="417.6" cy="80.8" r="1.7"/><circle cx="415.8" cy="80.3" r="1.7"/></g>
<g fill="#00BA38" fill-opacity="0.75"><circle cx="409.6" cy="81.0" r="1.7"/></g>
<g fill="#00BFC4" fill-opacity="0.75"><circle cx="414.0" cy="76.0" r="1.7"/></g>
<g fill="#00BFC4" fill-opacity="0.75"><circle cx="412.0" cy="77.6" r="1.7"/></g>
<g fill="#B79F00" fill-opacity="0.75"><circle cx="416.0" cy="72.0" r="1.7"/></g>
<g fill="#619CFF" fill-opacity="0.75"><circle cx="419.6" cy="72.0" r="1.7"/></g>
<g fill="#F564E3" fill-opacity="0.75"><circle cx="403.0" cy="71.4" r="1.7"/></g>
<g fill="#619CFF" fill-opacity="0.75"><circle cx="430.8" cy="71.5" r="1.7"/><circle cx="430.9" cy="71.0" r="1.7"/><circle cx="431.2" cy="71.4" r="1.7"/><circle cx="432.8" cy="71.3" r="1.7"/><circle cx="433.4" cy="71.4" r="1.7"/><circle cx="433.5" cy="70.9" r="1.7"/><circle cx="434.5" cy="71.2" r="1.7"/><circle cx="434.7" cy="71.0" r="1.7"/></g>
<g fill="#619CFF" fill-opacity="0.75"><circle cx="440.6" cy="71.6" r="1.7"/></g>
<g fill="#619CFF" fill-opacity="0.75"><circle cx="424.2" cy="66.4" r="1.7"/><circle cx="424.9" cy="66.2" r="1.7"/><circle cx="424.6" cy="67.5" r="1.7"/><circle cx="425.9" cy="67.3" r="1.7"/><circle cx="425.7" cy="66.3" r="1.7"/><circle cx="426.2" cy="67.0" r="1.7"/><circle cx="426.2" cy="65.9" r="1.7"/><circle cx="427.3" cy="65.8" r="1.7"/><circle cx="428.1" cy="65.5" r="1.7"/><circle cx="429.1" cy="65.5" r="1.7"/><circle cx="429.4" cy="66.1" r="1.7"/><circle cx="429.3" cy="66.2" r="1.7"/><circle cx="429.9" cy="66.8" r="1.7"/><circle cx="430.0" cy="66.3" r="1.7"/><circle cx="430.8" cy="65.7" r="1.7"/><circle cx="430.2" cy="66.0" r="1.7"/><circle cx="432.0" cy="65.2" r="1.7"/><circle cx="432.5" cy="65.4" r="1.7"/><circle cx="432.4" cy="65.5" r="1.7"/><circle cx="433.2" cy="65.1" r="1.7"/><circle cx="433.0" cy="65.0" r="1.7"/><circle cx="433.2" cy="65.6" r="1.7"/></g>
<g fill="#619CFF" fill-opacity="0.75"><circle cx="431.5" cy="60.5" r="1.7"/><circle cx="431.7" cy="60.7" r="1.7"/><circle cx="432.6" cy="60.7" r="1.7"/><circle cx="433.3" cy="60.0" r="1.7"/><circle cx="434.1" cy="60.2" r="1.7"/><circle cx="434.4" cy="59.9" r="1.7"/><circle cx="434.8" cy="59.9" r="1.7"/><circle cx="435.9" cy="60.1" r="1.7"/><circle cx="435.8" cy="59.6" r="1.7"/><circle cx="436.7" cy="59.4" r="1.7"/><circle cx="437.2" cy="59.2" r="1.7"/></g>
<g fill="#B79F00" fill-opacity="0.75"><circle cx="420.5" cy="59.6" r="1.7"/><circle cx="420.3" cy="59.2" r="1.7"/><circle cx="420.9" cy="59.5" r="1.7"/><circle cx="420.9" cy="58.6" r="1.7"/><circle cx="421.3" cy="58.4" r="1.7"/><circle cx="422.0" cy="58.0" r="1.7"/><circle cx="422.5" cy="58.1" r="1.7"/><circle cx="422.7" cy="57.1" r="1.7"/></g>
<g fill="#B79F00" fill-opacity="0.75"><circle cx="420.0" cy="49.0" r="1.7"/></g>
<g fill="#F8766D" fill-opacity="0.75"><circle cx="419.9" cy="56.9" r="1.7"/><circle cx="421.1" cy="55.6" r="1.7"/><circle cx="422.0" cy="56.5" r="1.7"/><circle cx="421.2" cy="56.2" r="1.7"/><circle cx="422.3" cy="56.6" r="1.7"/><circle cx="422.0" cy="54.9" r="1.7"/><circle cx="423.4" cy="56.4" r="1.7"/><circle cx="422.3" cy="54.0" r="1.7"/><circle cx="423.4" cy="55.5" r="1.7"/><circle cx="424.2" cy="55.3" r="1.7"/><circle cx="423.5" cy="54.7" r="1.7"/><circle cx="424.1" cy="53.1" r="1.7"/><circle cx="423.7" cy="54.2" r="1.7"/><circle cx="425.2" cy="53.7" r="1.7"/><circle cx="425.0" cy="53.6" r="1.7"/><circle cx="425.3" cy="54.2" r="1.7"/><circle cx="425.5" cy="53.3" r="1.7"/><circle cx="424.7" cy="52.9" r="1.7"/><circle cx="425.6" cy="53.0" r="1.7"/><circle cx="426.4" cy="50.8" r="1.7"/><circle cx="427.3" cy="51.5" r="1.7"/><circle cx="424.9" cy="52.0" r="1.7"/><circle cx="427.1" cy="51.8" r="1.7"/><circle cx="428.3" cy="52.0" r="1.7"/><circle cx="427.1" cy="51.6" r="1.7"/><circle cx="427.9" cy="50.6" r="1.7"/><circle cx="427.5" cy="50.8" r="1.7"/><circle cx="427.6" cy="50.6" r="1.7"/><circle cx="428.9" cy="49.8" r="1.7"/><circle cx="428.4" cy="48.3" r="1.7"/><circle cx="427.9" cy="49.6" r="1.7"/><circle cx="428.2" cy="48.6" r="1.7"/></g>
<g fill="#00BA38" fill-opacity="0.75"><circle cx="427.6" cy="57.2" r="1.7"/><circle cx="428.1" cy="55.4" r="1.7"/><circle cx="428.7" cy="55.8" r="1.7"/><circle cx="428.2" cy="56.0" r="1.7"/><circle cx="429.1" cy="55.0" r="1.7"/><circle cx="430.2" cy="54.9" r="1.7"/><circle cx="429.5" cy="53.6" r="1.7"/><circle cx="431.1" cy="54.5" r="1.7"/><circle cx="431.8" cy="53.2" r="1.7"/><circle cx="430.2" cy="53.2" r="1.7"/><circle cx="431.0" cy="52.6" r="1.7"/><circle cx="432.3" cy="52.1" r="1.7"/><circle cx="432.8" cy="52.2" r="1.7"/><circle cx="432.9" cy="51.5" r="1.7"/></g>
<g fill="#00BFC4" fill-opacity="0.75"><circle cx="424.7" cy="51.7" r="1.7"/><circle cx="425.9" cy="50.2" r="1.7"/><circle cx="426.5" cy="50.6" r="1.7"/><circle cx="426.7" cy="50.3" r="1.7"/><circle cx="427.1" cy="49.5" r="1.7"/><circle cx="427.5" cy="49.0" r="1.7"/><circle cx="428.2" cy="49.3" r="1.7"/><circle cx="428.2" cy="49.3" r="1.7"/><circle cx="429.5" cy="48.8" r="1.7"/><circle cx="430.4" cy="48.0" r="1.7"/></g>
<g fill="#F564E3" fill-opacity="0.75"><circle cx="416.0" cy="52.0" r="1.7"/></g>
<g fill="#F564E3" fill-opacity="0.75"><circle cx="420.0" cy="46.0" r="1.7"/></g>
<g fill="#F564E3" fill-opacity="0.75"><circle cx="423.0" cy="45.6" r="1.7"/></g>
<g fill="#F564E3" fill-opacity="0.75"><circle cx="421.0" cy="49.0" r="1.7"/></g>
<g fill="#F564E3" fill-opacity="0.75"><circle cx="437.0" cy="46.0" r="1.7"/></g>
<g fill="#F564E3" fill-opacity="0.75"><circle cx="438.0" cy="48.0" r="1.7"/></g>
<g fill="#F564E3" fill-opacity="0.75"><circle cx="434.0" cy="52.0" r="1.7"/></g>
<g fill="#F564E3" fill-opacity="0.75"><circle cx="432.0" cy="47.0" r="1.7"/></g>
<g fill="#F564E3" fill-opacity="0.75"><circle cx="426.0" cy="47.0" r="1.7"/></g>
<g fill="#F564E3" fill-opacity="0.75"><circle cx="429.0" cy="45.5" r="1.7"/></g>
<g fill="#F564E3" fill-opacity="0.75"><circle cx="418.0" cy="50.0" r="1.7"/></g>
<line x1="364.8" y1="124.0" x2="441.3" y2="41.1" stroke="#000" stroke-width="1.5"/>
<line x1="363.4" y1="124.0" x2="449.4" y2="31.0" stroke="#000" stroke-width="1.5" stroke-dasharray="6 6"/>
<text x="447.3" y="118.4" font-size="10.4" fill="#1c1c1c" text-anchor="end" textLength="57.4" lengthAdjust="spacingAndGlyphs">RMSE: 0.021</text>
</g>
<rect x="359.7" y="26.2" width="94.4" height="101.9" fill="none" stroke="#333" stroke-width="0.9"/>
</g>
<g>
<clipPath id="cp10"><rect x="51.2" y="136.7" width="94.4" height="101.9"/></clipPath>
<rect x="51.2" y="136.7" width="94.4" height="101.9" fill="#fff"/>
<g clip-path="url(#cp10)">
<line x1="63.5" x2="63.5" y1="136.7" y2="238.6" stroke="#F7F7F7" stroke-width="0.5"/>
<line y1="225.2" y2="225.2" x1="51.2" x2="145.60000000000002" stroke="#F7F7F7" stroke-width="0.5"/>
<line x1="80.7" x2="80.7" y1="136.7" y2="238.6" stroke="#F7F7F7" stroke-width="0.5"/>
<line y1="206.6" y2="206.6" x1="51.2" x2="145.60000000000002" stroke="#F7F7F7" stroke-width="0.5"/>
<line x1="97.9" x2="97.9" y1="136.7" y2="238.6" stroke="#F7F7F7" stroke-width="0.5"/>
<line y1="188.0" y2="188.0" x1="51.2" x2="145.60000000000002" stroke="#F7F7F7" stroke-width="0.5"/>
<line x1="115.1" x2="115.1" y1="136.7" y2="238.6" stroke="#F7F7F7" stroke-width="0.5"/>
<line y1="169.4" y2="169.4" x1="51.2" x2="145.60000000000002" stroke="#F7F7F7" stroke-width="0.5"/>
<line x1="132.3" x2="132.3" y1="136.7" y2="238.6" stroke="#F7F7F7" stroke-width="0.5"/>
<line y1="150.8" y2="150.8" x1="51.2" x2="145.60000000000002" stroke="#F7F7F7" stroke-width="0.5"/>
<line x1="54.9" x2="54.9" y1="136.7" y2="238.6" stroke="#E2E2E2" stroke-width="1.1"/>
<line y1="234.5" y2="234.5" x1="51.2" x2="145.60000000000002" stroke="#E2E2E2" stroke-width="1.1"/>
<line x1="72.1" x2="72.1" y1="136.7" y2="238.6" stroke="#E2E2E2" stroke-width="1.1"/>
<line y1="215.9" y2="215.9" x1="51.2" x2="145.60000000000002" stroke="#E2E2E2" stroke-width="1.1"/>
<line x1="89.3" x2="89.3" y1="136.7" y2="238.6" stroke="#E2E2E2" stroke-width="1.1"/>
<line y1="197.3" y2="197.3" x1="51.2" x2="145.60000000000002" stroke="#E2E2E2" stroke-width="1.1"/>
<line x1="106.5" x2="106.5" y1="136.7" y2="238.6" stroke="#E2E2E2" stroke-width="1.1"/>
<line y1="178.7" y2="178.7" x1="51.2" x2="145.60000000000002" stroke="#E2E2E2" stroke-width="1.1"/>
<line x1="123.7" x2="123.7" y1="136.7" y2="238.6" stroke="#E2E2E2" stroke-width="1.1"/>
<line y1="160.1" y2="160.1" x1="51.2" x2="145.60000000000002" stroke="#E2E2E2" stroke-width="1.1"/>
<line x1="140.9" x2="140.9" y1="136.7" y2="238.6" stroke="#E2E2E2" stroke-width="1.1"/>
<line y1="141.5" y2="141.5" x1="51.2" x2="145.60000000000002" stroke="#E2E2E2" stroke-width="1.1"/>
<g fill="#F8766D" fill-opacity="0.75"><circle cx="61.3" cy="231.3" r="1.7"/><circle cx="59.9" cy="231.8" r="1.7"/><circle cx="62.5" cy="231.7" r="1.7"/><circle cx="62.0" cy="229.8" r="1.7"/><circle cx="61.8" cy="231.0" r="1.7"/><circle cx="61.4" cy="230.7" r="1.7"/><circle cx="63.0" cy="229.9" r="1.7"/><circle cx="61.8" cy="231.4" r="1.7"/><circle cx="61.6" cy="229.5" r="1.7"/><circle cx="64.6" cy="230.8" r="1.7"/><circle cx="63.3" cy="230.2" r="1.7"/><circle cx="63.6" cy="227.7" r="1.7"/><circle cx="64.8" cy="229.2" r="1.7"/><circle cx="62.5" cy="228.5" r="1.7"/><circle cx="65.0" cy="229.6" r="1.7"/><circle cx="63.2" cy="228.9" r="1.7"/><circle cx="64.3" cy="229.2" r="1.7"/><circle cx="64.3" cy="228.0" r="1.7"/><circle cx="64.0" cy="229.2" r="1.7"/><circle cx="65.3" cy="228.3" r="1.7"/><circle cx="66.0" cy="228.5" r="1.7"/><circle cx="66.1" cy="228.3" r="1.7"/><circle cx="65.9" cy="225.4" r="1.7"/><circle cx="65.8" cy="227.0" r="1.7"/><circle cx="66.2" cy="226.1" r="1.7"/><circle cx="66.5" cy="226.9" r="1.7"/><circle cx="65.2" cy="224.9" r="1.7"/><circle cx="67.3" cy="225.0" r="1.7"/><circle cx="68.5" cy="226.0" r="1.7"/><circle cx="67.9" cy="224.9" r="1.7"/><circle cx="66.9" cy="225.5" r="1.7"/><circle cx="68.1" cy="224.7" r="1.7"/><circle cx="69.0" cy="223.9" r="1.7"/><circle cx="68.4" cy="224.8" r="1.7"/><circle cx="68.8" cy="225.8" r="1.7"/><circle cx="68.7" cy="224.7" r="1.7"/><circle cx="69.8" cy="223.9" r="1.7"/><circle cx="68.2" cy="224.4" r="1.7"/><circle cx="68.9" cy="224.0" r="1.7"/><circle cx="69.4" cy="223.4" r="1.7"/><circle cx="69.6" cy="222.3" r="1.7"/><circle cx="70.8" cy="222.6" r="1.7"/></g>
<g fill="#00BA38" fill-opacity="0.75"><circle cx="60.5" cy="227.4" r="1.7"/><circle cx="61.1" cy="226.5" r="1.7"/><circle cx="62.1" cy="225.7" r="1.7"/><circle cx="61.5" cy="224.5" r="1.7"/><circle cx="62.2" cy="224.9" r="1.7"/><circle cx="63.4" cy="223.9" r="1.7"/><circle cx="62.9" cy="224.5" r="1.7"/><circle cx="63.1" cy="222.9" r="1.7"/></g>
<g fill="#619CFF" fill-opacity="0.75"><circle cx="61.9" cy="227.2" r="1.7"/><circle cx="61.0" cy="226.8" r="1.7"/><circle cx="62.6" cy="226.7" r="1.7"/><circle cx="62.8" cy="225.6" r="1.7"/><circle cx="62.7" cy="226.4" r="1.7"/><circle cx="63.7" cy="226.0" r="1.7"/><circle cx="63.4" cy="225.4" r="1.7"/><circle cx="64.2" cy="224.7" r="1.7"/><circle cx="64.0" cy="224.1" r="1.7"/><circle cx="64.4" cy="224.1" r="1.7"/><circle cx="65.3" cy="224.1" r="1.7"/><circle cx="65.4" cy="222.7" r="1.7"/><circle cx="66.0" cy="221.3" r="1.7"/></g>
<g fill="#B79F00" fill-opacity="0.75"><circle cx="68.7" cy="224.4" r="1.7"/><circle cx="69.5" cy="224.4" r="1.7"/><circle cx="69.8" cy="223.5" r="1.7"/><circle cx="69.2" cy="222.4" r="1.7"/><circle cx="70.3" cy="222.0" r="1.7"/><circle cx="71.2" cy="222.5" r="1.7"/><circle cx="71.5" cy="221.2" r="1.7"/><circle cx="72.5" cy="220.3" r="1.7"/><circle cx="72.7" cy="219.5" r="1.7"/><circle cx="73.3" cy="219.1" r="1.7"/><circle cx="73.3" cy="218.8" r="1.7"/><circle cx="74.0" cy="218.5" r="1.7"/><circle cx="76.0" cy="216.4" r="1.7"/><circle cx="75.8" cy="217.0" r="1.7"/></g>
<g fill="#00BFC4" fill-opacity="0.75"><circle cx="66.3" cy="220.8" r="1.7"/><circle cx="65.8" cy="220.6" r="1.7"/><circle cx="66.7" cy="218.7" r="1.7"/><circle cx="67.2" cy="218.8" r="1.7"/><circle cx="67.9" cy="218.0" r="1.7"/><circle cx="68.3" cy="218.4" r="1.7"/><circle cx="70.0" cy="217.3" r="1.7"/><circle cx="69.4" cy="216.6" r="1.7"/><circle cx="70.6" cy="215.9" r="1.7"/><circle cx="70.6" cy="216.3" r="1.7"/><circle cx="71.5" cy="216.0" r="1.7"/><circle cx="72.0" cy="214.4" r="1.7"/><circle cx="72.0" cy="214.2" r="1.7"/></g>
<g fill="#F564E3" fill-opacity="0.75"><circle cx="64.0" cy="219.5" r="1.7"/></g>
<g fill="#F564E3" fill-opacity="0.75"><circle cx="67.0" cy="217.0" r="1.7"/></g>
<g fill="#F564E3" fill-opacity="0.75"><circle cx="70.0" cy="212.0" r="1.7"/></g>
<g fill="#F564E3" fill-opacity="0.75"><circle cx="72.0" cy="211.5" r="1.7"/></g>
<g fill="#F564E3" fill-opacity="0.75"><circle cx="74.0" cy="212.5" r="1.7"/></g>
<g fill="#F564E3" fill-opacity="0.75"><circle cx="68.5" cy="214.5" r="1.7"/></g>
<g fill="#F564E3" fill-opacity="0.75"><circle cx="75.5" cy="211.0" r="1.7"/></g>
<g fill="#00BFC4" fill-opacity="0.75"><circle cx="73.6" cy="213.9" r="1.7"/><circle cx="73.8" cy="213.4" r="1.7"/><circle cx="74.3" cy="213.0" r="1.7"/><circle cx="74.6" cy="212.8" r="1.7"/><circle cx="75.1" cy="212.4" r="1.7"/><circle cx="76.3" cy="211.6" r="1.7"/></g>
<g fill="#00BA38" fill-opacity="0.75"><circle cx="75.5" cy="208.0" r="1.7"/></g>
<g fill="#00BA38" fill-opacity="0.75"><circle cx="80.5" cy="202.5" r="1.7"/></g>
<g fill="#619CFF" fill-opacity="0.75"><circle cx="81.0" cy="204.0" r="1.7"/></g>
<g fill="#F8766D" fill-opacity="0.75"><circle cx="84.7" cy="199.9" r="1.7"/><circle cx="85.0" cy="200.2" r="1.7"/><circle cx="86.4" cy="199.9" r="1.7"/><circle cx="85.9" cy="198.9" r="1.7"/><circle cx="85.6" cy="198.2" r="1.7"/><circle cx="86.2" cy="198.0" r="1.7"/><circle cx="87.0" cy="197.9" r="1.7"/><circle cx="87.9" cy="197.8" r="1.7"/><circle cx="87.5" cy="196.5" r="1.7"/><circle cx="88.2" cy="196.3" r="1.7"/><circle cx="88.8" cy="197.6" r="1.7"/><circle cx="88.7" cy="197.2" r="1.7"/><circle cx="89.5" cy="196.4" r="1.7"/></g>
<g fill="#00BA38" fill-opacity="0.75"><circle cx="84.0" cy="193.4" r="1.7"/></g>
<g fill="#00BFC4" fill-opacity="0.75"><circle cx="88.6" cy="193.0" r="1.7"/></g>
<g fill="#619CFF" fill-opacity="0.75"><circle cx="94.6" cy="191.0" r="1.7"/></g>
<g fill="#00BA38" fill-opacity="0.75"><circle cx="87.5" cy="187.7" r="1.7"/><circle cx="87.5" cy="186.6" r="1.7"/><circle cx="88.0" cy="186.8" r="1.7"/><circle cx="88.8" cy="186.7" r="1.7"/><circle cx="88.0" cy="186.5" r="1.7"/><circle cx="89.0" cy="187.2" r="1.7"/><circle cx="88.3" cy="185.9" r="1.7"/><circle cx="88.3" cy="186.9" r="1.7"/><circle cx="89.5" cy="186.1" r="1.7"/><circle cx="89.8" cy="186.0" r="1.7"/><circle cx="88.3" cy="186.3" r="1.7"/><circle cx="89.2" cy="185.8" r="1.7"/><circle cx="89.7" cy="185.9" r="1.7"/><circle cx="89.8" cy="185.0" r="1.7"/><circle cx="90.3" cy="185.3" r="1.7"/><circle cx="90.8" cy="183.9" r="1.7"/><circle cx="89.5" cy="183.8" r="1.7"/><circle cx="90.3" cy="183.8" r="1.7"/><circle cx="90.5" cy="183.4" r="1.7"/><circle cx="91.5" cy="183.7" r="1.7"/><circle cx="90.9" cy="183.5" r="1.7"/><circle cx="92.7" cy="184.2" r="1.7"/><circle cx="91.3" cy="184.1" r="1.7"/><circle cx="92.1" cy="183.0" r="1.7"/><circle cx="92.3" cy="183.3" r="1.7"/><circle cx="92.5" cy="183.1" r="1.7"/><circle cx="92.9" cy="181.0" r="1.7"/><circle cx="92.2" cy="182.2" r="1.7"/><circle cx="93.7" cy="182.7" r="1.7"/><circle cx="94.0" cy="181.0" r="1.7"/><circle cx="94.3" cy="181.2" r="1.7"/><circle cx="94.5" cy="181.4" r="1.7"/></g>
<g fill="#00BA38" fill-opacity="0.75"><circle cx="95.4" cy="175.4" r="1.7"/></g>
<g fill="#00BFC4" fill-opacity="0.75"><circle cx="93.4" cy="184.8" r="1.7"/><circle cx="93.9" cy="184.2" r="1.7"/><circle cx="95.0" cy="184.2" r="1.7"/><circle cx="95.1" cy="184.6" r="1.7"/><circle cx="94.8" cy="183.9" r="1.7"/><circle cx="95.8" cy="184.0" r="1.7"/><circle cx="96.8" cy="183.5" r="1.7"/><circle cx="97.1" cy="182.8" r="1.7"/></g>
<g fill="#F8766D" fill-opacity="0.75"><circle cx="96.0" cy="185.0" r="1.7"/></g>
<g fill="#619CFF" fill-opacity="0.75"><circle cx="99.0" cy="184.0" r="1.7"/><circle cx="99.5" cy="183.6" r="1.7"/><circle cx="99.9" cy="182.9" r="1.7"/><circle cx="99.4" cy="183.1" r="1.7"/><circle cx="100.4" cy="182.3" r="1.7"/><circle cx="101.1" cy="181.7" r="1.7"/><circle cx="101.7" cy="181.6" r="1.7"/><circle cx="101.4" cy="181.9" r="1.7"/><circle cx="102.3" cy="181.9" r="1.7"/><circle cx="101.7" cy="181.7" r="1.7"/><circle cx="102.4" cy="181.0" r="1.7"/><circle cx="101.9" cy="180.4" r="1.7"/><circle cx="102.2" cy="180.5" r="1.7"/></g>
<g fill="#F564E3" fill-opacity="0.75"><circle cx="112.0" cy="179.0" r="1.7"/></g>
<g fill="#F8766D" fill-opacity="0.75"><circle cx="109.0" cy="176.0" r="1.7"/></g>
<g fill="#B79F00" fill-opacity="0.75"><circle cx="107.4" cy="175.4" r="1.7"/></g>
<g fill="#00BFC4" fill-opacity="0.75"><circle cx="108.0" cy="173.0" r="1.7"/></g>
<g fill="#F8766D" fill-opacity="0.75"><circle cx="114.3" cy="172.5" r="1.7"/><circle cx="114.1" cy="173.3" r="1.7"/><circle cx="114.9" cy="173.2" r="1.7"/><circle cx="115.7" cy="171.4" r="1.7"/><circle cx="115.2" cy="170.6" r="1.7"/><circle cx="115.8" cy="171.4" r="1.7"/><circle cx="115.6" cy="170.7" r="1.7"/><circle cx="116.1" cy="169.9" r="1.7"/><circle cx="116.1" cy="171.4" r="1.7"/><circle cx="115.6" cy="170.7" r="1.7"/><circle cx="116.9" cy="169.9" r="1.7"/><circle cx="116.9" cy="170.0" r="1.7"/><circle cx="117.8" cy="169.4" r="1.7"/><circle cx="118.5" cy="168.9" r="1.7"/><circle cx="117.4" cy="168.6" r="1.7"/><circle cx="117.3" cy="167.9" r="1.7"/><circle cx="118.4" cy="167.4" r="1.7"/><circle cx="117.9" cy="168.4" r="1.7"/><circle cx="119.3" cy="167.5" r="1.7"/></g>
<g fill="#00BFC4" fill-opacity="0.75"><circle cx="116.2" cy="166.5" r="1.7"/><circle cx="116.4" cy="166.6" r="1.7"/><circle cx="117.0" cy="166.2" r="1.7"/><circle cx="117.9" cy="166.1" r="1.7"/><circle cx="118.7" cy="165.4" r="1.7"/><circle cx="119.0" cy="165.3" r="1.7"/><circle cx="118.7" cy="165.8" r="1.7"/><circle cx="119.8" cy="165.3" r="1.7"/></g>
<g fill="#00BA38" fill-opacity="0.75"><circle cx="120.8" cy="166.7" r="1.7"/><circle cx="121.1" cy="165.7" r="1.7"/><circle cx="121.8" cy="165.8" r="1.7"/><circle cx="121.1" cy="165.7" r="1.7"/><circle cx="121.8" cy="165.7" r="1.7"/><circle cx="122.9" cy="165.2" r="1.7"/><circle cx="122.8" cy="164.6" r="1.7"/><circle cx="124.0" cy="164.6" r="1.7"/></g>
<g fill="#619CFF" fill-opacity="0.75"><circle cx="125.2" cy="169.2" r="1.7"/><circle cx="125.6" cy="169.5" r="1.7"/><circle cx="126.1" cy="169.2" r="1.7"/><circle cx="126.2" cy="169.5" r="1.7"/><circle cx="127.7" cy="168.8" r="1.7"/><circle cx="128.4" cy="168.4" r="1.7"/><circle cx="129.1" cy="168.1" r="1.7"/><circle cx="128.6" cy="168.2" r="1.7"/><circle cx="129.0" cy="167.1" r="1.7"/><circle cx="129.5" cy="167.9" r="1.7"/><circle cx="130.6" cy="167.8" r="1.7"/></g>
<g fill="#619CFF" fill-opacity="0.75"><circle cx="132.0" cy="168.0" r="1.7"/></g>
<g fill="#F564E3" fill-opacity="0.75"><circle cx="121.9" cy="171.5" r="1.7"/><circle cx="122.1" cy="172.1" r="1.7"/><circle cx="122.7" cy="170.3" r="1.7"/><circle cx="122.8" cy="172.2" r="1.7"/><circle cx="124.7" cy="169.8" r="1.7"/><circle cx="122.7" cy="170.9" r="1.7"/><circle cx="124.3" cy="170.4" r="1.7"/><circle cx="123.6" cy="170.8" r="1.7"/><circle cx="123.8" cy="170.6" r="1.7"/><circle cx="123.9" cy="169.9" r="1.7"/><circle cx="123.9" cy="170.4" r="1.7"/><circle cx="124.6" cy="168.7" r="1.7"/><circle cx="124.9" cy="168.4" r="1.7"/><circle cx="126.2" cy="167.8" r="1.7"/><circle cx="127.1" cy="168.0" r="1.7"/><circle cx="125.0" cy="169.7" r="1.7"/><circle cx="126.8" cy="167.8" r="1.7"/><circle cx="127.5" cy="168.2" r="1.7"/><circle cx="126.8" cy="166.8" r="1.7"/><circle cx="126.9" cy="166.8" r="1.7"/><circle cx="128.8" cy="166.6" r="1.7"/><circle cx="127.8" cy="166.5" r="1.7"/><circle cx="129.0" cy="167.0" r="1.7"/><circle cx="128.4" cy="166.3" r="1.7"/><circle cx="127.9" cy="165.7" r="1.7"/><circle cx="129.4" cy="165.8" r="1.7"/><circle cx="129.6" cy="165.6" r="1.7"/><circle cx="129.7" cy="166.7" r="1.7"/><circle cx="130.6" cy="164.1" r="1.7"/></g>
<line x1="55.1" y1="233.9" x2="132.3" y2="155.6" stroke="#000" stroke-width="1.5"/>
<line x1="54.9" y1="234.5" x2="140.9" y2="141.5" stroke="#000" stroke-width="1.5" stroke-dasharray="6 6"/>
<text x="138.8" y="228.9" font-size="10.4" fill="#1c1c1c" text-anchor="end" textLength="57.4" lengthAdjust="spacingAndGlyphs">RMSE: 0.017</text>
</g>
<rect x="51.2" y="136.7" width="94.4" height="101.9" fill="none" stroke="#333" stroke-width="0.9"/>
</g>
<g>
<clipPath id="cp11"><rect x="153.8" y="136.7" width="94.4" height="101.9"/></clipPath>
<rect x="153.8" y="136.7" width="94.4" height="101.9" fill="#fff"/>
<g clip-path="url(#cp11)">
<line x1="166.1" x2="166.1" y1="136.7" y2="238.6" stroke="#F7F7F7" stroke-width="0.5"/>
<line y1="225.2" y2="225.2" x1="153.8" x2="248.20000000000002" stroke="#F7F7F7" stroke-width="0.5"/>
<line x1="183.3" x2="183.3" y1="136.7" y2="238.6" stroke="#F7F7F7" stroke-width="0.5"/>
<line y1="206.6" y2="206.6" x1="153.8" x2="248.20000000000002" stroke="#F7F7F7" stroke-width="0.5"/>
<line x1="200.5" x2="200.5" y1="136.7" y2="238.6" stroke="#F7F7F7" stroke-width="0.5"/>
<line y1="188.0" y2="188.0" x1="153.8" x2="248.20000000000002" stroke="#F7F7F7" stroke-width="0.5"/>
<line x1="217.7" x2="217.7" y1="136.7" y2="238.6" stroke="#F7F7F7" stroke-width="0.5"/>
<line y1="169.4" y2="169.4" x1="153.8" x2="248.20000000000002" stroke="#F7F7F7" stroke-width="0.5"/>
<line x1="234.9" x2="234.9" y1="136.7" y2="238.6" stroke="#F7F7F7" stroke-width="0.5"/>
<line y1="150.8" y2="150.8" x1="153.8" x2="248.20000000000002" stroke="#F7F7F7" stroke-width="0.5"/>
<line x1="157.5" x2="157.5" y1="136.7" y2="238.6" stroke="#E2E2E2" stroke-width="1.1"/>
<line y1="234.5" y2="234.5" x1="153.8" x2="248.20000000000002" stroke="#E2E2E2" stroke-width="1.1"/>
<line x1="174.7" x2="174.7" y1="136.7" y2="238.6" stroke="#E2E2E2" stroke-width="1.1"/>
<line y1="215.9" y2="215.9" x1="153.8" x2="248.20000000000002" stroke="#E2E2E2" stroke-width="1.1"/>
<line x1="191.9" x2="191.9" y1="136.7" y2="238.6" stroke="#E2E2E2" stroke-width="1.1"/>
<line y1="197.3" y2="197.3" x1="153.8" x2="248.20000000000002" stroke="#E2E2E2" stroke-width="1.1"/>
<line x1="209.1" x2="209.1" y1="136.7" y2="238.6" stroke="#E2E2E2" stroke-width="1.1"/>
<line y1="178.7" y2="178.7" x1="153.8" x2="248.20000000000002" stroke="#E2E2E2" stroke-width="1.1"/>
<line x1="226.3" x2="226.3" y1="136.7" y2="238.6" stroke="#E2E2E2" stroke-width="1.1"/>
<line y1="160.1" y2="160.1" x1="153.8" x2="248.20000000000002" stroke="#E2E2E2" stroke-width="1.1"/>
<line x1="243.5" x2="243.5" y1="136.7" y2="238.6" stroke="#E2E2E2" stroke-width="1.1"/>
<line y1="141.5" y2="141.5" x1="153.8" x2="248.20000000000002" stroke="#E2E2E2" stroke-width="1.1"/>
<g fill="#F8766D" fill-opacity="0.75"><circle cx="163.2" cy="233.5" r="1.7"/><circle cx="163.3" cy="232.7" r="1.7"/><circle cx="164.5" cy="234.1" r="1.7"/><circle cx="164.1" cy="233.5" r="1.7"/><circle cx="163.1" cy="234.1" r="1.7"/><circle cx="163.7" cy="234.5" r="1.7"/><circle cx="164.9" cy="232.8" r="1.7"/><circle cx="163.6" cy="232.7" r="1.7"/><circle cx="165.3" cy="231.9" r="1.7"/><circle cx="165.6" cy="231.6" r="1.7"/><circle cx="164.7" cy="233.2" r="1.7"/><circle cx="165.0" cy="231.4" r="1.7"/><circle cx="164.5" cy="231.0" r="1.7"/><circle cx="166.9" cy="231.1" r="1.7"/><circle cx="166.6" cy="230.8" r="1.7"/><circle cx="164.9" cy="230.8" r="1.7"/><circle cx="166.8" cy="231.6" r="1.7"/><circle cx="166.5" cy="230.8" r="1.7"/><circle cx="168.1" cy="230.5" r="1.7"/><circle cx="165.8" cy="230.6" r="1.7"/><circle cx="167.7" cy="231.8" r="1.7"/><circle cx="167.3" cy="231.7" r="1.7"/><circle cx="167.0" cy="229.8" r="1.7"/><circle cx="167.2" cy="231.1" r="1.7"/><circle cx="166.5" cy="230.0" r="1.7"/><circle cx="167.5" cy="231.1" r="1.7"/><circle cx="167.0" cy="228.3" r="1.7"/><circle cx="168.7" cy="230.3" r="1.7"/><circle cx="167.3" cy="228.4" r="1.7"/><circle cx="169.7" cy="229.6" r="1.7"/><circle cx="167.7" cy="228.6" r="1.7"/><circle cx="169.2" cy="230.1" r="1.7"/><circle cx="169.2" cy="228.8" r="1.7"/><circle cx="169.3" cy="228.0" r="1.7"/><circle cx="170.0" cy="228.7" r="1.7"/></g>
<g fill="#B79F00" fill-opacity="0.75"><circle cx="167.9" cy="228.3" r="1.7"/><circle cx="169.2" cy="227.8" r="1.7"/><circle cx="169.8" cy="228.0" r="1.7"/><circle cx="169.5" cy="227.7" r="1.7"/><circle cx="168.7" cy="227.4" r="1.7"/><circle cx="169.2" cy="226.5" r="1.7"/><circle cx="169.6" cy="227.3" r="1.7"/><circle cx="170.3" cy="226.2" r="1.7"/><circle cx="170.8" cy="226.0" r="1.7"/><circle cx="172.1" cy="225.2" r="1.7"/><circle cx="172.0" cy="226.3" r="1.7"/><circle cx="172.2" cy="225.5" r="1.7"/><circle cx="172.0" cy="225.2" r="1.7"/><circle cx="173.1" cy="224.3" r="1.7"/><circle cx="173.4" cy="224.8" r="1.7"/><circle cx="173.3" cy="223.0" r="1.7"/><circle cx="175.1" cy="222.5" r="1.7"/><circle cx="174.6" cy="223.6" r="1.7"/><circle cx="175.9" cy="223.1" r="1.7"/><circle cx="174.7" cy="222.1" r="1.7"/><circle cx="174.7" cy="221.9" r="1.7"/><circle cx="175.5" cy="222.2" r="1.7"/></g>
<g fill="#619CFF" fill-opacity="0.75"><circle cx="165.4" cy="223.4" r="1.7"/><circle cx="165.4" cy="223.0" r="1.7"/><circle cx="165.8" cy="222.8" r="1.7"/><circle cx="165.8" cy="221.5" r="1.7"/><circle cx="167.1" cy="221.6" r="1.7"/><circle cx="167.2" cy="221.1" r="1.7"/><circle cx="167.3" cy="221.2" r="1.7"/><circle cx="167.4" cy="220.7" r="1.7"/></g>
<g fill="#F564E3" fill-opacity="0.75"><circle cx="166.8" cy="220.1" r="1.7"/><circle cx="166.7" cy="220.3" r="1.7"/><circle cx="167.2" cy="219.9" r="1.7"/><circle cx="167.3" cy="218.8" r="1.7"/><circle cx="168.0" cy="218.6" r="1.7"/><circle cx="169.0" cy="217.8" r="1.7"/><circle cx="168.0" cy="217.8" r="1.7"/><circle cx="169.0" cy="217.3" r="1.7"/><circle cx="168.9" cy="217.0" r="1.7"/><circle cx="169.5" cy="216.6" r="1.7"/><circle cx="169.8" cy="216.7" r="1.7"/><circle cx="170.5" cy="215.4" r="1.7"/><circle cx="170.8" cy="214.7" r="1.7"/></g>
<g fill="#00BFC4" fill-opacity="0.75"><circle cx="171.5" cy="215.7" r="1.7"/><circle cx="171.1" cy="216.2" r="1.7"/><circle cx="171.8" cy="214.8" r="1.7"/><circle cx="172.5" cy="214.7" r="1.7"/><circle cx="173.6" cy="213.8" r="1.7"/><circle cx="173.2" cy="214.9" r="1.7"/><circle cx="173.1" cy="212.5" r="1.7"/><circle cx="174.3" cy="212.7" r="1.7"/><circle cx="174.2" cy="213.5" r="1.7"/><circle cx="174.1" cy="211.7" r="1.7"/><circle cx="174.6" cy="212.1" r="1.7"/><circle cx="176.3" cy="212.2" r="1.7"/><circle cx="176.1" cy="211.4" r="1.7"/><circle cx="176.0" cy="210.1" r="1.7"/><circle cx="175.3" cy="211.1" r="1.7"/><circle cx="177.2" cy="210.1" r="1.7"/><circle cx="176.7" cy="209.3" r="1.7"/><circle cx="176.4" cy="209.1" r="1.7"/><circle cx="178.1" cy="209.0" r="1.7"/></g>
<g fill="#00BA38" fill-opacity="0.75"><circle cx="174.6" cy="211.5" r="1.7"/><circle cx="174.4" cy="212.1" r="1.7"/><circle cx="175.6" cy="211.3" r="1.7"/><circle cx="175.8" cy="210.3" r="1.7"/><circle cx="176.4" cy="209.7" r="1.7"/><circle cx="176.6" cy="209.5" r="1.7"/><circle cx="177.4" cy="208.8" r="1.7"/><circle cx="178.0" cy="209.5" r="1.7"/><circle cx="178.2" cy="208.8" r="1.7"/><circle cx="178.5" cy="208.1" r="1.7"/></g>
<g fill="#619CFF" fill-opacity="0.75"><circle cx="173.1" cy="208.2" r="1.7"/><circle cx="172.9" cy="207.7" r="1.7"/><circle cx="173.9" cy="207.4" r="1.7"/><circle cx="173.8" cy="206.7" r="1.7"/><circle cx="174.7" cy="206.5" r="1.7"/></g>
<g fill="#B79F00" fill-opacity="0.75"><circle cx="183.0" cy="211.0" r="1.7"/></g>
<g fill="#F8766D" fill-opacity="0.75"><circle cx="185.5" cy="217.5" r="1.7"/><circle cx="186.5" cy="218.2" r="1.7"/><circle cx="185.6" cy="218.5" r="1.7"/><circle cx="186.1" cy="217.6" r="1.7"/><circle cx="187.3" cy="217.1" r="1.7"/><circle cx="187.5" cy="217.0" r="1.7"/><circle cx="187.3" cy="216.6" r="1.7"/><circle cx="187.9" cy="216.6" r="1.7"/><circle cx="188.6" cy="216.1" r="1.7"/><circle cx="190.0" cy="215.2" r="1.7"/><circle cx="190.1" cy="215.9" r="1.7"/><circle cx="190.1" cy="214.6" r="1.7"/><circle cx="189.7" cy="215.0" r="1.7"/><circle cx="190.8" cy="215.0" r="1.7"/></g>
<g fill="#F564E3" fill-opacity="0.75"><circle cx="183.0" cy="202.0" r="1.7"/></g>
<g fill="#00BA38" fill-opacity="0.75"><circle cx="186.0" cy="197.0" r="1.7"/></g>
<g fill="#F8766D" fill-opacity="0.75"><circle cx="197.6" cy="203.6" r="1.7"/></g>
<g fill="#B79F00" fill-opacity="0.75"><circle cx="189.0" cy="203.6" r="1.7"/></g>
<g fill="#F8766D" fill-opacity="0.75"><circle cx="205.6" cy="191.6" r="1.7"/></g>
<g fill="#00BA38" fill-opacity="0.75"><circle cx="190.0" cy="193.8" r="1.7"/><circle cx="190.3" cy="194.0" r="1.7"/><circle cx="188.8" cy="194.2" r="1.7"/><circle cx="190.4" cy="193.1" r="1.7"/><circle cx="189.4" cy="193.5" r="1.7"/><circle cx="190.1" cy="193.3" r="1.7"/><circle cx="190.5" cy="192.2" r="1.7"/><circle cx="190.6" cy="191.6" r="1.7"/><circle cx="190.0" cy="192.9" r="1.7"/><circle cx="191.2" cy="193.1" r="1.7"/><circle cx="190.4" cy="192.1" r="1.7"/><circle cx="191.5" cy="191.4" r="1.7"/><circle cx="191.4" cy="190.6" r="1.7"/><circle cx="192.8" cy="190.7" r="1.7"/><circle cx="192.9" cy="190.6" r="1.7"/><circle cx="191.7" cy="190.0" r="1.7"/><circle cx="193.5" cy="191.2" r="1.7"/><circle cx="193.7" cy="190.6" r="1.7"/><circle cx="193.4" cy="189.1" r="1.7"/><circle cx="194.5" cy="189.7" r="1.7"/><circle cx="193.7" cy="190.4" r="1.7"/><circle cx="195.0" cy="189.3" r="1.7"/><circle cx="194.0" cy="189.0" r="1.7"/><circle cx="194.4" cy="189.5" r="1.7"/><circle cx="195.2" cy="189.1" r="1.7"/><circle cx="195.5" cy="188.3" r="1.7"/><circle cx="195.3" cy="188.6" r="1.7"/><circle cx="195.5" cy="188.4" r="1.7"/><circle cx="196.0" cy="188.0" r="1.7"/></g>
<g fill="#F564E3" fill-opacity="0.75"><circle cx="198.0" cy="183.0" r="1.7"/></g>
<g fill="#00BFC4" fill-opacity="0.75"><circle cx="199.0" cy="182.0" r="1.7"/></g>
<g fill="#00BFC4" fill-opacity="0.75"><circle cx="204.5" cy="184.0" r="1.7"/><circle cx="205.0" cy="184.0" r="1.7"/><circle cx="205.0" cy="183.0" r="1.7"/><circle cx="206.0" cy="182.7" r="1.7"/><circle cx="206.7" cy="182.0" r="1.7"/><circle cx="207.6" cy="181.9" r="1.7"/><circle cx="207.2" cy="180.9" r="1.7"/><circle cx="208.2" cy="181.5" r="1.7"/></g>
<g fill="#619CFF" fill-opacity="0.75"><circle cx="205.8" cy="185.2" r="1.7"/><circle cx="205.8" cy="184.1" r="1.7"/><circle cx="206.3" cy="184.7" r="1.7"/><circle cx="206.7" cy="184.7" r="1.7"/><circle cx="207.5" cy="183.5" r="1.7"/><circle cx="209.4" cy="183.0" r="1.7"/><circle cx="208.3" cy="183.4" r="1.7"/><circle cx="208.6" cy="183.2" r="1.7"/><circle cx="209.0" cy="182.1" r="1.7"/><circle cx="209.3" cy="182.1" r="1.7"/><circle cx="210.9" cy="183.0" r="1.7"/><circle cx="210.3" cy="182.5" r="1.7"/><circle cx="212.3" cy="182.0" r="1.7"/><circle cx="212.1" cy="182.4" r="1.7"/><circle cx="212.4" cy="182.0" r="1.7"/><circle cx="212.8" cy="181.2" r="1.7"/></g>
<g fill="#B79F00" fill-opacity="0.75"><circle cx="213.5" cy="179.7" r="1.7"/><circle cx="215.6" cy="179.2" r="1.7"/><circle cx="214.3" cy="179.8" r="1.7"/><circle cx="215.8" cy="179.7" r="1.7"/><circle cx="215.6" cy="179.9" r="1.7"/><circle cx="214.7" cy="179.6" r="1.7"/><circle cx="215.0" cy="179.7" r="1.7"/><circle cx="216.1" cy="178.6" r="1.7"/><circle cx="216.1" cy="178.0" r="1.7"/><circle cx="217.1" cy="179.5" r="1.7"/><circle cx="217.5" cy="178.0" r="1.7"/><circle cx="216.7" cy="178.2" r="1.7"/><circle cx="217.0" cy="177.7" r="1.7"/><circle cx="216.9" cy="178.6" r="1.7"/><circle cx="216.8" cy="177.4" r="1.7"/><circle cx="217.8" cy="176.5" r="1.7"/><circle cx="217.5" cy="176.7" r="1.7"/><circle cx="218.4" cy="177.2" r="1.7"/><circle cx="217.2" cy="176.7" r="1.7"/></g>
<g fill="#00BFC4" fill-opacity="0.75"><circle cx="213.9" cy="173.0" r="1.7"/><circle cx="213.7" cy="173.1" r="1.7"/><circle cx="216.1" cy="172.8" r="1.7"/><circle cx="216.4" cy="173.3" r="1.7"/><circle cx="216.6" cy="172.0" r="1.7"/><circle cx="217.3" cy="171.5" r="1.7"/><circle cx="216.5" cy="170.7" r="1.7"/><circle cx="218.8" cy="170.8" r="1.7"/><circle cx="217.4" cy="170.3" r="1.7"/><circle cx="218.8" cy="169.5" r="1.7"/><circle cx="219.5" cy="169.9" r="1.7"/><circle cx="219.8" cy="169.4" r="1.7"/><circle cx="220.3" cy="167.7" r="1.7"/><circle cx="221.5" cy="168.5" r="1.7"/><circle cx="221.3" cy="168.2" r="1.7"/><circle cx="222.3" cy="166.8" r="1.7"/></g>
<g fill="#619CFF" fill-opacity="0.75"><circle cx="216.3" cy="172.3" r="1.7"/><circle cx="216.9" cy="172.3" r="1.7"/><circle cx="217.1" cy="171.7" r="1.7"/><circle cx="217.1" cy="172.2" r="1.7"/><circle cx="217.3" cy="171.1" r="1.7"/><circle cx="219.6" cy="169.7" r="1.7"/><circle cx="219.1" cy="170.3" r="1.7"/><circle cx="220.3" cy="168.6" r="1.7"/><circle cx="220.1" cy="169.6" r="1.7"/><circle cx="221.3" cy="168.5" r="1.7"/></g>
<g fill="#00BFC4" fill-opacity="0.75"><circle cx="226.6" cy="153.6" r="1.7"/><circle cx="226.5" cy="152.4" r="1.7"/><circle cx="226.1" cy="152.4" r="1.7"/><circle cx="225.4" cy="152.0" r="1.7"/><circle cx="226.4" cy="151.9" r="1.7"/><circle cx="226.0" cy="151.4" r="1.7"/><circle cx="226.3" cy="151.4" r="1.7"/><circle cx="226.9" cy="151.1" r="1.7"/><circle cx="226.3" cy="151.0" r="1.7"/><circle cx="227.0" cy="150.4" r="1.7"/><circle cx="226.2" cy="148.7" r="1.7"/><circle cx="227.0" cy="149.2" r="1.7"/><circle cx="227.7" cy="149.2" r="1.7"/></g>
<g fill="#619CFF" fill-opacity="0.75"><circle cx="224.8" cy="153.6" r="1.7"/><circle cx="225.1" cy="153.0" r="1.7"/><circle cx="226.4" cy="151.9" r="1.7"/><circle cx="226.4" cy="151.4" r="1.7"/><circle cx="226.8" cy="151.5" r="1.7"/><circle cx="227.2" cy="150.5" r="1.7"/></g>
<g fill="#F8766D" fill-opacity="0.75"><circle cx="215.6" cy="162.5" r="1.7"/><circle cx="217.6" cy="161.6" r="1.7"/><circle cx="215.7" cy="160.9" r="1.7"/><circle cx="216.7" cy="161.2" r="1.7"/><circle cx="217.0" cy="163.0" r="1.7"/><circle cx="216.2" cy="162.9" r="1.7"/><circle cx="217.2" cy="163.1" r="1.7"/><circle cx="218.6" cy="160.7" r="1.7"/><circle cx="218.4" cy="161.7" r="1.7"/><circle cx="217.3" cy="161.6" r="1.7"/><circle cx="217.7" cy="161.5" r="1.7"/><circle cx="218.5" cy="160.5" r="1.7"/><circle cx="218.9" cy="161.8" r="1.7"/><circle cx="217.8" cy="162.1" r="1.7"/><circle cx="218.5" cy="160.9" r="1.7"/><circle cx="219.4" cy="159.5" r="1.7"/><circle cx="218.8" cy="159.4" r="1.7"/><circle cx="220.0" cy="161.4" r="1.7"/><circle cx="218.6" cy="159.8" r="1.7"/><circle cx="219.3" cy="161.1" r="1.7"/><circle cx="221.3" cy="159.6" r="1.7"/><circle cx="220.7" cy="159.9" r="1.7"/><circle cx="220.8" cy="159.7" r="1.7"/><circle cx="219.2" cy="159.1" r="1.7"/><circle cx="222.0" cy="160.0" r="1.7"/><circle cx="222.5" cy="159.5" r="1.7"/><circle cx="220.2" cy="157.6" r="1.7"/><circle cx="220.7" cy="160.1" r="1.7"/><circle cx="221.6" cy="158.7" r="1.7"/><circle cx="220.0" cy="157.9" r="1.7"/><circle cx="221.9" cy="159.3" r="1.7"/><circle cx="221.7" cy="157.4" r="1.7"/><circle cx="220.9" cy="157.3" r="1.7"/><circle cx="221.6" cy="157.8" r="1.7"/><circle cx="221.9" cy="156.8" r="1.7"/><circle cx="223.4" cy="158.4" r="1.7"/><circle cx="222.8" cy="157.6" r="1.7"/><circle cx="224.1" cy="156.2" r="1.7"/></g>
<g fill="#B79F00" fill-opacity="0.75"><circle cx="223.2" cy="161.1" r="1.7"/><circle cx="223.4" cy="161.2" r="1.7"/><circle cx="224.0" cy="159.3" r="1.7"/><circle cx="225.1" cy="159.4" r="1.7"/><circle cx="225.1" cy="159.7" r="1.7"/><circle cx="225.3" cy="158.9" r="1.7"/><circle cx="225.0" cy="158.7" r="1.7"/><circle cx="225.4" cy="157.7" r="1.7"/><circle cx="226.5" cy="157.6" r="1.7"/><circle cx="227.2" cy="157.4" r="1.7"/></g>
<g fill="#F8766D" fill-opacity="0.75"><circle cx="227.1" cy="169.3" r="1.7"/><circle cx="225.9" cy="169.3" r="1.7"/><circle cx="226.2" cy="168.4" r="1.7"/><circle cx="226.2" cy="168.8" r="1.7"/><circle cx="227.5" cy="168.1" r="1.7"/><circle cx="228.1" cy="168.8" r="1.7"/><circle cx="228.3" cy="168.1" r="1.7"/><circle cx="227.3" cy="167.8" r="1.7"/><circle cx="228.7" cy="166.5" r="1.7"/><circle cx="228.1" cy="166.2" r="1.7"/><circle cx="228.4" cy="166.8" r="1.7"/><circle cx="228.6" cy="166.3" r="1.7"/><circle cx="229.2" cy="166.3" r="1.7"/></g>
<g fill="#619CFF" fill-opacity="0.75"><circle cx="226.3" cy="168.6" r="1.7"/><circle cx="226.8" cy="168.2" r="1.7"/><circle cx="227.2" cy="168.0" r="1.7"/><circle cx="227.5" cy="167.7" r="1.7"/><circle cx="228.5" cy="167.0" r="1.7"/><circle cx="229.0" cy="166.6" r="1.7"/><circle cx="228.3" cy="166.4" r="1.7"/><circle cx="228.3" cy="165.9" r="1.7"/><circle cx="229.8" cy="165.2" r="1.7"/><circle cx="229.8" cy="165.1" r="1.7"/></g>
<g fill="#619CFF" fill-opacity="0.75"><circle cx="235.0" cy="166.2" r="1.7"/></g>
<g fill="#F564E3" fill-opacity="0.75"><circle cx="226.9" cy="167.9" r="1.7"/><circle cx="228.6" cy="166.7" r="1.7"/><circle cx="228.4" cy="167.9" r="1.7"/><circle cx="228.8" cy="167.9" r="1.7"/><circle cx="227.3" cy="167.7" r="1.7"/><circle cx="227.7" cy="167.6" r="1.7"/><circle cx="228.7" cy="166.6" r="1.7"/><circle cx="227.1" cy="166.5" r="1.7"/><circle cx="227.2" cy="166.1" r="1.7"/><circle cx="226.5" cy="164.9" r="1.7"/><circle cx="228.9" cy="163.5" r="1.7"/><circle cx="228.5" cy="166.4" r="1.7"/><circle cx="229.8" cy="166.3" r="1.7"/><circle cx="228.1" cy="162.9" r="1.7"/><circle cx="228.7" cy="164.3" r="1.7"/><circle cx="228.1" cy="163.0" r="1.7"/><circle cx="226.7" cy="164.9" r="1.7"/><circle cx="229.5" cy="163.3" r="1.7"/><circle cx="229.0" cy="162.8" r="1.7"/><circle cx="230.0" cy="162.8" r="1.7"/><circle cx="228.8" cy="162.2" r="1.7"/><circle cx="227.7" cy="161.5" r="1.7"/><circle cx="228.3" cy="160.6" r="1.7"/><circle cx="229.2" cy="160.6" r="1.7"/><circle cx="229.7" cy="161.8" r="1.7"/><circle cx="229.4" cy="161.5" r="1.7"/><circle cx="229.5" cy="161.4" r="1.7"/><circle cx="230.8" cy="160.4" r="1.7"/><circle cx="228.0" cy="162.5" r="1.7"/><circle cx="229.1" cy="160.9" r="1.7"/><circle cx="231.4" cy="161.3" r="1.7"/><circle cx="228.0" cy="159.8" r="1.7"/><circle cx="228.4" cy="160.7" r="1.7"/><circle cx="230.9" cy="161.2" r="1.7"/><circle cx="231.7" cy="159.3" r="1.7"/><circle cx="230.8" cy="158.2" r="1.7"/><circle cx="228.8" cy="157.4" r="1.7"/><circle cx="230.1" cy="158.5" r="1.7"/><circle cx="230.4" cy="158.2" r="1.7"/><circle cx="230.8" cy="158.7" r="1.7"/><circle cx="231.7" cy="156.6" r="1.7"/><circle cx="230.5" cy="156.6" r="1.7"/><circle cx="231.0" cy="158.8" r="1.7"/><circle cx="230.7" cy="156.4" r="1.7"/><circle cx="231.7" cy="157.5" r="1.7"/><circle cx="230.7" cy="158.2" r="1.7"/><circle cx="232.1" cy="155.1" r="1.7"/><circle cx="229.3" cy="155.1" r="1.7"/></g>
<g fill="#F564E3" fill-opacity="0.75"><circle cx="221.3" cy="152.7" r="1.7"/><circle cx="222.2" cy="152.3" r="1.7"/><circle cx="221.2" cy="154.0" r="1.7"/><circle cx="221.3" cy="152.8" r="1.7"/><circle cx="221.4" cy="153.4" r="1.7"/><circle cx="222.6" cy="152.7" r="1.7"/><circle cx="221.6" cy="153.1" r="1.7"/><circle cx="222.0" cy="152.7" r="1.7"/><circle cx="222.3" cy="153.2" r="1.7"/><circle cx="223.4" cy="152.2" r="1.7"/><circle cx="222.0" cy="150.9" r="1.7"/><circle cx="222.2" cy="151.7" r="1.7"/><circle cx="224.2" cy="149.3" r="1.7"/><circle cx="222.7" cy="149.7" r="1.7"/><circle cx="224.6" cy="151.2" r="1.7"/><circle cx="223.6" cy="148.9" r="1.7"/><circle cx="221.6" cy="149.7" r="1.7"/><circle cx="222.9" cy="149.1" r="1.7"/><circle cx="223.7" cy="149.4" r="1.7"/><circle cx="222.8" cy="148.6" r="1.7"/><circle cx="224.5" cy="149.8" r="1.7"/><circle cx="223.3" cy="148.0" r="1.7"/><circle cx="224.5" cy="148.2" r="1.7"/><circle cx="224.5" cy="149.0" r="1.7"/><circle cx="223.1" cy="147.3" r="1.7"/><circle cx="224.7" cy="148.9" r="1.7"/><circle cx="223.3" cy="149.1" r="1.7"/><circle cx="223.1" cy="147.2" r="1.7"/><circle cx="223.7" cy="147.6" r="1.7"/></g>
<g fill="#F564E3" fill-opacity="0.75"><circle cx="228.7" cy="149.9" r="1.7"/><circle cx="228.0" cy="149.7" r="1.7"/><circle cx="229.0" cy="148.0" r="1.7"/><circle cx="229.7" cy="148.1" r="1.7"/><circle cx="229.3" cy="149.5" r="1.7"/><circle cx="229.0" cy="148.6" r="1.7"/><circle cx="229.3" cy="147.7" r="1.7"/><circle cx="231.0" cy="149.7" r="1.7"/><circle cx="229.8" cy="147.3" r="1.7"/><circle cx="230.5" cy="148.5" r="1.7"/><circle cx="230.1" cy="146.9" r="1.7"/><circle cx="230.5" cy="146.9" r="1.7"/><circle cx="231.0" cy="148.2" r="1.7"/><circle cx="230.7" cy="147.1" r="1.7"/><circle cx="231.4" cy="147.9" r="1.7"/><circle cx="232.2" cy="146.5" r="1.7"/></g>
<g fill="#00BFC4" fill-opacity="0.75"><circle cx="218.5" cy="150.0" r="1.7"/></g>
<g fill="#F564E3" fill-opacity="0.75"><circle cx="210.5" cy="164.5" r="1.7"/></g>
<g fill="#00BA38" fill-opacity="0.75"><circle cx="213.5" cy="166.0" r="1.7"/></g>
<g fill="#619CFF" fill-opacity="0.75"><circle cx="215.0" cy="165.0" r="1.7"/></g>
<line x1="162.8" y1="232.1" x2="234.9" y2="147.6" stroke="#000" stroke-width="1.5"/>
<line x1="157.5" y1="234.5" x2="243.5" y2="141.5" stroke="#000" stroke-width="1.5" stroke-dasharray="6 6"/>
<text x="241.4" y="228.9" font-size="10.4" fill="#1c1c1c" text-anchor="end" textLength="57.4" lengthAdjust="spacingAndGlyphs">RMSE: 0.022</text>
</g>
<rect x="153.8" y="136.7" width="94.4" height="101.9" fill="none" stroke="#333" stroke-width="0.9"/>
</g>
<g>
<clipPath id="cp12"><rect x="256.9" y="136.7" width="94.4" height="101.9"/></clipPath>
<rect x="256.9" y="136.7" width="94.4" height="101.9" fill="#fff"/>
<g clip-path="url(#cp12)">
<line x1="269.2" x2="269.2" y1="136.7" y2="238.6" stroke="#F7F7F7" stroke-width="0.5"/>
<line y1="225.2" y2="225.2" x1="256.9" x2="351.29999999999995" stroke="#F7F7F7" stroke-width="0.5"/>
<line x1="286.4" x2="286.4" y1="136.7" y2="238.6" stroke="#F7F7F7" stroke-width="0.5"/>
<line y1="206.6" y2="206.6" x1="256.9" x2="351.29999999999995" stroke="#F7F7F7" stroke-width="0.5"/>
<line x1="303.6" x2="303.6" y1="136.7" y2="238.6" stroke="#F7F7F7" stroke-width="0.5"/>
<line y1="188.0" y2="188.0" x1="256.9" x2="351.29999999999995" stroke="#F7F7F7" stroke-width="0.5"/>
<line x1="320.8" x2="320.8" y1="136.7" y2="238.6" stroke="#F7F7F7" stroke-width="0.5"/>
<line y1="169.4" y2="169.4" x1="256.9" x2="351.29999999999995" stroke="#F7F7F7" stroke-width="0.5"/>
<line x1="338.0" x2="338.0" y1="136.7" y2="238.6" stroke="#F7F7F7" stroke-width="0.5"/>
<line y1="150.8" y2="150.8" x1="256.9" x2="351.29999999999995" stroke="#F7F7F7" stroke-width="0.5"/>
<line x1="260.6" x2="260.6" y1="136.7" y2="238.6" stroke="#E2E2E2" stroke-width="1.1"/>
<line y1="234.5" y2="234.5" x1="256.9" x2="351.29999999999995" stroke="#E2E2E2" stroke-width="1.1"/>
<line x1="277.8" x2="277.8" y1="136.7" y2="238.6" stroke="#E2E2E2" stroke-width="1.1"/>
<line y1="215.9" y2="215.9" x1="256.9" x2="351.29999999999995" stroke="#E2E2E2" stroke-width="1.1"/>
<line x1="295.0" x2="295.0" y1="136.7" y2="238.6" stroke="#E2E2E2" stroke-width="1.1"/>
<line y1="197.3" y2="197.3" x1="256.9" x2="351.29999999999995" stroke="#E2E2E2" stroke-width="1.1"/>
<line x1="312.2" x2="312.2" y1="136.7" y2="238.6" stroke="#E2E2E2" stroke-width="1.1"/>
<line y1="178.7" y2="178.7" x1="256.9" x2="351.29999999999995" stroke="#E2E2E2" stroke-width="1.1"/>
<line x1="329.4" x2="329.4" y1="136.7" y2="238.6" stroke="#E2E2E2" stroke-width="1.1"/>
<line y1="160.1" y2="160.1" x1="256.9" x2="351.29999999999995" stroke="#E2E2E2" stroke-width="1.1"/>
<line x1="346.6" x2="346.6" y1="136.7" y2="238.6" stroke="#E2E2E2" stroke-width="1.1"/>
<line y1="141.5" y2="141.5" x1="256.9" x2="351.29999999999995" stroke="#E2E2E2" stroke-width="1.1"/>
<g fill="#F8766D" fill-opacity="0.75"><circle cx="267.3" cy="233.0" r="1.7"/><circle cx="267.2" cy="233.8" r="1.7"/><circle cx="266.7" cy="231.7" r="1.7"/><circle cx="267.4" cy="231.9" r="1.7"/><circle cx="268.2" cy="231.5" r="1.7"/><circle cx="267.5" cy="230.9" r="1.7"/><circle cx="268.2" cy="231.5" r="1.7"/><circle cx="269.2" cy="230.1" r="1.7"/><circle cx="267.5" cy="230.6" r="1.7"/><circle cx="269.3" cy="231.4" r="1.7"/><circle cx="269.3" cy="230.5" r="1.7"/><circle cx="270.1" cy="229.7" r="1.7"/><circle cx="269.9" cy="228.8" r="1.7"/><circle cx="268.6" cy="229.6" r="1.7"/><circle cx="269.3" cy="229.1" r="1.7"/><circle cx="271.0" cy="227.3" r="1.7"/><circle cx="269.7" cy="228.0" r="1.7"/><circle cx="270.4" cy="228.8" r="1.7"/><circle cx="270.5" cy="226.6" r="1.7"/><circle cx="269.6" cy="227.1" r="1.7"/><circle cx="272.0" cy="228.1" r="1.7"/><circle cx="270.6" cy="227.2" r="1.7"/><circle cx="271.0" cy="227.1" r="1.7"/><circle cx="271.0" cy="226.8" r="1.7"/><circle cx="270.5" cy="225.8" r="1.7"/><circle cx="271.9" cy="225.5" r="1.7"/><circle cx="271.2" cy="227.0" r="1.7"/><circle cx="271.4" cy="225.5" r="1.7"/><circle cx="271.1" cy="225.1" r="1.7"/><circle cx="273.0" cy="224.2" r="1.7"/><circle cx="273.6" cy="225.6" r="1.7"/><circle cx="273.8" cy="224.6" r="1.7"/></g>
<g fill="#00BA38" fill-opacity="0.75"><circle cx="271.6" cy="226.5" r="1.7"/><circle cx="271.4" cy="225.5" r="1.7"/><circle cx="272.1" cy="224.4" r="1.7"/><circle cx="272.3" cy="224.5" r="1.7"/><circle cx="272.8" cy="223.3" r="1.7"/><circle cx="273.8" cy="223.8" r="1.7"/><circle cx="273.0" cy="222.5" r="1.7"/><circle cx="274.5" cy="222.2" r="1.7"/><circle cx="273.8" cy="222.4" r="1.7"/><circle cx="274.8" cy="220.9" r="1.7"/></g>
<g fill="#00BFC4" fill-opacity="0.75"><circle cx="269.5" cy="220.6" r="1.7"/><circle cx="271.4" cy="220.7" r="1.7"/><circle cx="271.2" cy="219.2" r="1.7"/><circle cx="270.4" cy="219.8" r="1.7"/><circle cx="271.4" cy="219.6" r="1.7"/><circle cx="271.7" cy="219.6" r="1.7"/><circle cx="273.3" cy="218.4" r="1.7"/><circle cx="272.1" cy="217.9" r="1.7"/><circle cx="273.0" cy="217.2" r="1.7"/><circle cx="273.7" cy="216.5" r="1.7"/><circle cx="275.0" cy="216.2" r="1.7"/><circle cx="274.6" cy="216.3" r="1.7"/><circle cx="275.3" cy="215.9" r="1.7"/><circle cx="275.2" cy="215.7" r="1.7"/><circle cx="275.0" cy="215.6" r="1.7"/><circle cx="275.4" cy="216.2" r="1.7"/><circle cx="276.4" cy="214.9" r="1.7"/><circle cx="277.1" cy="214.0" r="1.7"/><circle cx="276.3" cy="214.4" r="1.7"/></g>
<g fill="#B79F00" fill-opacity="0.75"><circle cx="274.1" cy="222.9" r="1.7"/><circle cx="275.4" cy="221.6" r="1.7"/><circle cx="276.0" cy="221.7" r="1.7"/><circle cx="277.0" cy="221.4" r="1.7"/><circle cx="276.6" cy="220.6" r="1.7"/><circle cx="277.7" cy="220.4" r="1.7"/><circle cx="276.9" cy="218.9" r="1.7"/><circle cx="277.4" cy="220.3" r="1.7"/><circle cx="278.0" cy="218.0" r="1.7"/><circle cx="278.4" cy="218.7" r="1.7"/><circle cx="278.5" cy="217.8" r="1.7"/><circle cx="280.4" cy="216.7" r="1.7"/><circle cx="279.3" cy="217.3" r="1.7"/><circle cx="279.7" cy="217.2" r="1.7"/><circle cx="280.3" cy="216.2" r="1.7"/><circle cx="281.3" cy="216.8" r="1.7"/><circle cx="280.7" cy="215.5" r="1.7"/><circle cx="281.9" cy="216.6" r="1.7"/><circle cx="281.7" cy="215.9" r="1.7"/></g>
<g fill="#619CFF" fill-opacity="0.75"><circle cx="274.4" cy="218.6" r="1.7"/><circle cx="274.3" cy="218.6" r="1.7"/><circle cx="275.2" cy="217.8" r="1.7"/><circle cx="275.7" cy="217.4" r="1.7"/><circle cx="276.1" cy="216.9" r="1.7"/></g>
<g fill="#F564E3" fill-opacity="0.75"><circle cx="283.0" cy="218.0" r="1.7"/></g>
<g fill="#F564E3" fill-opacity="0.75"><circle cx="280.0" cy="212.0" r="1.7"/></g>
<g fill="#00BA38" fill-opacity="0.75"><circle cx="271.0" cy="210.4" r="1.7"/></g>
<g fill="#00BA38" fill-opacity="0.75"><circle cx="271.4" cy="213.0" r="1.7"/></g>
<g fill="#00BA38" fill-opacity="0.75"><circle cx="278.0" cy="211.0" r="1.7"/></g>
<g fill="#00BFC4" fill-opacity="0.75"><circle cx="279.0" cy="210.0" r="1.7"/></g>
<g fill="#00BFC4" fill-opacity="0.75"><circle cx="280.0" cy="205.0" r="1.7"/></g>
<g fill="#00BA38" fill-opacity="0.75"><circle cx="281.0" cy="207.0" r="1.7"/></g>
<g fill="#619CFF" fill-opacity="0.75"><circle cx="285.0" cy="205.0" r="1.7"/></g>
<g fill="#B79F00" fill-opacity="0.75"><circle cx="292.0" cy="205.0" r="1.7"/></g>
<g fill="#F8766D" fill-opacity="0.75"><circle cx="290.8" cy="212.8" r="1.7"/><circle cx="290.6" cy="212.9" r="1.7"/><circle cx="290.9" cy="213.1" r="1.7"/><circle cx="291.8" cy="212.7" r="1.7"/><circle cx="291.7" cy="211.8" r="1.7"/><circle cx="292.0" cy="211.3" r="1.7"/><circle cx="291.5" cy="210.7" r="1.7"/><circle cx="292.2" cy="211.4" r="1.7"/><circle cx="292.7" cy="209.4" r="1.7"/><circle cx="292.4" cy="210.4" r="1.7"/><circle cx="293.7" cy="210.3" r="1.7"/><circle cx="293.7" cy="210.2" r="1.7"/><circle cx="294.1" cy="209.7" r="1.7"/></g>
<g fill="#F8766D" fill-opacity="0.75"><circle cx="300.6" cy="203.6" r="1.7"/></g>
<g fill="#00BFC4" fill-opacity="0.75"><circle cx="287.0" cy="197.0" r="1.7"/></g>
<g fill="#00BA38" fill-opacity="0.75"><circle cx="289.0" cy="196.0" r="1.7"/></g>
<g fill="#619CFF" fill-opacity="0.75"><circle cx="290.0" cy="188.6" r="1.7"/></g>
<g fill="#00BA38" fill-opacity="0.75"><circle cx="292.1" cy="193.9" r="1.7"/><circle cx="292.3" cy="193.4" r="1.7"/><circle cx="293.2" cy="193.8" r="1.7"/><circle cx="292.7" cy="193.3" r="1.7"/><circle cx="292.5" cy="193.7" r="1.7"/><circle cx="293.7" cy="191.9" r="1.7"/><circle cx="294.8" cy="193.0" r="1.7"/><circle cx="294.4" cy="193.1" r="1.7"/><circle cx="294.6" cy="192.4" r="1.7"/><circle cx="295.3" cy="192.4" r="1.7"/><circle cx="294.9" cy="192.6" r="1.7"/><circle cx="296.3" cy="192.0" r="1.7"/><circle cx="296.2" cy="191.0" r="1.7"/><circle cx="296.1" cy="190.3" r="1.7"/><circle cx="295.7" cy="190.1" r="1.7"/><circle cx="296.0" cy="190.6" r="1.7"/><circle cx="296.9" cy="190.4" r="1.7"/><circle cx="297.1" cy="190.8" r="1.7"/><circle cx="297.8" cy="190.0" r="1.7"/><circle cx="299.2" cy="189.5" r="1.7"/><circle cx="299.6" cy="190.2" r="1.7"/><circle cx="298.1" cy="189.3" r="1.7"/></g>
<g fill="#00BA38" fill-opacity="0.75"><circle cx="307.0" cy="189.0" r="1.7"/></g>
<g fill="#F8766D" fill-opacity="0.75"><circle cx="269.0" cy="185.6" r="1.7"/></g>
<g fill="#F564E3" fill-opacity="0.75"><circle cx="308.6" cy="185.0" r="1.7"/></g>
<g fill="#619CFF" fill-opacity="0.75"><circle cx="300.4" cy="183.0" r="1.7"/></g>
<g fill="#619CFF" fill-opacity="0.75"><circle cx="306.5" cy="184.8" r="1.7"/><circle cx="306.3" cy="184.2" r="1.7"/><circle cx="305.8" cy="184.0" r="1.7"/><circle cx="306.8" cy="184.7" r="1.7"/><circle cx="307.3" cy="183.0" r="1.7"/><circle cx="307.5" cy="184.1" r="1.7"/><circle cx="307.9" cy="182.9" r="1.7"/><circle cx="309.4" cy="183.2" r="1.7"/><circle cx="308.9" cy="183.8" r="1.7"/><circle cx="309.5" cy="182.9" r="1.7"/><circle cx="309.0" cy="182.1" r="1.7"/><circle cx="310.3" cy="182.1" r="1.7"/><circle cx="310.2" cy="182.8" r="1.7"/><circle cx="310.7" cy="182.2" r="1.7"/><circle cx="310.5" cy="182.5" r="1.7"/><circle cx="311.7" cy="181.6" r="1.7"/><circle cx="313.0" cy="181.6" r="1.7"/><circle cx="312.4" cy="182.3" r="1.7"/><circle cx="312.9" cy="181.7" r="1.7"/></g>
<g fill="#00BFC4" fill-opacity="0.75"><circle cx="310.0" cy="177.0" r="1.7"/></g>
<g fill="#00BA38" fill-opacity="0.75"><circle cx="301.5" cy="185.0" r="1.7"/></g>
<g fill="#619CFF" fill-opacity="0.75"><circle cx="313.0" cy="176.0" r="1.7"/></g>
<g fill="#00BFC4" fill-opacity="0.75"><circle cx="294.0" cy="172.0" r="1.7"/></g>
<g fill="#00BFC4" fill-opacity="0.75"><circle cx="293.4" cy="175.0" r="1.7"/></g>
<g fill="#00BFC4" fill-opacity="0.75"><circle cx="300.1" cy="173.3" r="1.7"/><circle cx="301.0" cy="172.7" r="1.7"/><circle cx="300.9" cy="172.5" r="1.7"/><circle cx="301.6" cy="171.7" r="1.7"/><circle cx="301.7" cy="171.8" r="1.7"/><circle cx="302.0" cy="171.2" r="1.7"/><circle cx="302.9" cy="170.8" r="1.7"/><circle cx="302.5" cy="171.6" r="1.7"/></g>
<g fill="#00BFC4" fill-opacity="0.75"><circle cx="313.4" cy="172.7" r="1.7"/><circle cx="313.9" cy="172.0" r="1.7"/><circle cx="313.8" cy="172.0" r="1.7"/><circle cx="314.2" cy="170.5" r="1.7"/><circle cx="314.0" cy="170.4" r="1.7"/><circle cx="315.1" cy="169.0" r="1.7"/></g>
<g fill="#B79F00" fill-opacity="0.75"><circle cx="320.0" cy="180.0" r="1.7"/></g>
<g fill="#619CFF" fill-opacity="0.75"><circle cx="320.2" cy="178.0" r="1.7"/><circle cx="320.3" cy="178.8" r="1.7"/><circle cx="320.7" cy="179.2" r="1.7"/><circle cx="320.9" cy="177.7" r="1.7"/><circle cx="322.0" cy="179.8" r="1.7"/><circle cx="321.8" cy="178.3" r="1.7"/><circle cx="322.0" cy="178.9" r="1.7"/><circle cx="323.3" cy="177.8" r="1.7"/><circle cx="323.6" cy="178.9" r="1.7"/><circle cx="324.1" cy="178.6" r="1.7"/><circle cx="324.1" cy="177.5" r="1.7"/><circle cx="323.9" cy="178.4" r="1.7"/><circle cx="323.8" cy="178.1" r="1.7"/><circle cx="325.3" cy="178.5" r="1.7"/><circle cx="325.6" cy="178.2" r="1.7"/><circle cx="326.4" cy="178.1" r="1.7"/><circle cx="326.2" cy="178.0" r="1.7"/><circle cx="326.5" cy="178.5" r="1.7"/><circle cx="326.5" cy="178.3" r="1.7"/><circle cx="327.7" cy="176.8" r="1.7"/><circle cx="328.2" cy="177.7" r="1.7"/><circle cx="327.8" cy="177.8" r="1.7"/><circle cx="328.8" cy="177.3" r="1.7"/><circle cx="328.5" cy="177.4" r="1.7"/><circle cx="328.3" cy="176.8" r="1.7"/><circle cx="329.1" cy="176.9" r="1.7"/><circle cx="329.9" cy="178.4" r="1.7"/><circle cx="330.2" cy="176.9" r="1.7"/><circle cx="331.1" cy="177.8" r="1.7"/><circle cx="331.5" cy="177.0" r="1.7"/><circle cx="331.2" cy="176.6" r="1.7"/><circle cx="332.8" cy="177.8" r="1.7"/></g>
<g fill="#619CFF" fill-opacity="0.75"><circle cx="331.3" cy="173.2" r="1.7"/><circle cx="331.5" cy="172.1" r="1.7"/><circle cx="332.4" cy="171.8" r="1.7"/><circle cx="332.9" cy="172.0" r="1.7"/><circle cx="333.4" cy="171.8" r="1.7"/><circle cx="333.9" cy="170.9" r="1.7"/></g>
<g fill="#619CFF" fill-opacity="0.75"><circle cx="337.6" cy="171.6" r="1.7"/></g>
<g fill="#00BA38" fill-opacity="0.75"><circle cx="323.4" cy="174.5" r="1.7"/><circle cx="325.1" cy="175.1" r="1.7"/><circle cx="326.1" cy="174.6" r="1.7"/><circle cx="324.7" cy="173.4" r="1.7"/><circle cx="326.5" cy="173.2" r="1.7"/><circle cx="326.0" cy="173.0" r="1.7"/><circle cx="326.6" cy="171.8" r="1.7"/><circle cx="327.2" cy="172.3" r="1.7"/><circle cx="328.4" cy="172.1" r="1.7"/><circle cx="327.8" cy="171.0" r="1.7"/><circle cx="328.2" cy="170.3" r="1.7"/><circle cx="329.1" cy="170.6" r="1.7"/><circle cx="330.3" cy="171.2" r="1.7"/><circle cx="329.5" cy="170.9" r="1.7"/></g>
<g fill="#00BFC4" fill-opacity="0.75"><circle cx="329.4" cy="170.8" r="1.7"/><circle cx="330.0" cy="170.9" r="1.7"/><circle cx="330.4" cy="170.1" r="1.7"/><circle cx="331.4" cy="170.0" r="1.7"/><circle cx="331.3" cy="169.6" r="1.7"/><circle cx="331.6" cy="170.1" r="1.7"/><circle cx="332.7" cy="169.7" r="1.7"/><circle cx="332.9" cy="169.0" r="1.7"/><circle cx="333.9" cy="169.6" r="1.7"/><circle cx="334.0" cy="169.5" r="1.7"/><circle cx="334.5" cy="168.8" r="1.7"/><circle cx="334.6" cy="169.0" r="1.7"/><circle cx="335.6" cy="168.8" r="1.7"/></g>
<g fill="#F8766D" fill-opacity="0.75"><circle cx="320.2" cy="174.9" r="1.7"/><circle cx="319.0" cy="174.5" r="1.7"/><circle cx="320.4" cy="174.9" r="1.7"/><circle cx="320.7" cy="175.2" r="1.7"/><circle cx="319.9" cy="174.6" r="1.7"/><circle cx="319.6" cy="174.5" r="1.7"/><circle cx="318.6" cy="175.5" r="1.7"/><circle cx="321.7" cy="174.2" r="1.7"/><circle cx="319.3" cy="172.5" r="1.7"/><circle cx="320.5" cy="172.9" r="1.7"/><circle cx="320.5" cy="174.0" r="1.7"/><circle cx="319.7" cy="173.3" r="1.7"/><circle cx="321.7" cy="173.1" r="1.7"/><circle cx="321.4" cy="171.9" r="1.7"/><circle cx="319.7" cy="173.6" r="1.7"/><circle cx="321.7" cy="172.1" r="1.7"/><circle cx="321.8" cy="170.2" r="1.7"/><circle cx="321.1" cy="170.7" r="1.7"/><circle cx="321.5" cy="170.0" r="1.7"/><circle cx="321.3" cy="169.8" r="1.7"/><circle cx="322.5" cy="170.8" r="1.7"/><circle cx="321.6" cy="170.7" r="1.7"/><circle cx="321.4" cy="169.6" r="1.7"/><circle cx="322.8" cy="170.5" r="1.7"/><circle cx="322.1" cy="168.8" r="1.7"/><circle cx="322.2" cy="169.3" r="1.7"/><circle cx="323.6" cy="170.0" r="1.7"/><circle cx="322.9" cy="168.5" r="1.7"/><circle cx="322.4" cy="168.8" r="1.7"/><circle cx="323.3" cy="168.9" r="1.7"/><circle cx="321.6" cy="169.2" r="1.7"/><circle cx="321.3" cy="167.8" r="1.7"/><circle cx="321.7" cy="167.1" r="1.7"/><circle cx="323.6" cy="165.9" r="1.7"/><circle cx="323.2" cy="167.4" r="1.7"/><circle cx="322.6" cy="168.2" r="1.7"/><circle cx="324.5" cy="167.1" r="1.7"/><circle cx="323.8" cy="166.8" r="1.7"/><circle cx="322.2" cy="165.2" r="1.7"/><circle cx="323.6" cy="165.8" r="1.7"/><circle cx="323.5" cy="166.3" r="1.7"/><circle cx="325.1" cy="166.5" r="1.7"/><circle cx="322.5" cy="164.5" r="1.7"/><circle cx="322.7" cy="164.1" r="1.7"/><circle cx="323.5" cy="164.5" r="1.7"/></g>
<g fill="#B79F00" fill-opacity="0.75"><circle cx="318.0" cy="166.0" r="1.7"/></g>
<g fill="#B79F00" fill-opacity="0.75"><circle cx="325.9" cy="168.7" r="1.7"/><circle cx="326.3" cy="168.0" r="1.7"/><circle cx="326.7" cy="167.4" r="1.7"/><circle cx="326.9" cy="168.1" r="1.7"/><circle cx="326.9" cy="166.4" r="1.7"/><circle cx="328.1" cy="167.7" r="1.7"/><circle cx="326.9" cy="166.8" r="1.7"/><circle cx="327.6" cy="166.3" r="1.7"/><circle cx="329.0" cy="165.1" r="1.7"/><circle cx="328.9" cy="165.9" r="1.7"/><circle cx="328.8" cy="165.0" r="1.7"/><circle cx="329.0" cy="164.6" r="1.7"/><circle cx="330.6" cy="164.9" r="1.7"/><circle cx="329.9" cy="164.0" r="1.7"/><circle cx="330.5" cy="163.2" r="1.7"/><circle cx="330.3" cy="163.0" r="1.7"/></g>
<line x1="266.4" y1="233.9" x2="337.9" y2="159.5" stroke="#000" stroke-width="1.5"/>
<line x1="260.6" y1="234.5" x2="346.6" y2="141.5" stroke="#000" stroke-width="1.5" stroke-dasharray="6 6"/>
<text x="344.5" y="228.9" font-size="10.4" fill="#1c1c1c" text-anchor="end" textLength="57.4" lengthAdjust="spacingAndGlyphs">RMSE: 0.019</text>
</g>
<rect x="256.9" y="136.7" width="94.4" height="101.9" fill="none" stroke="#333" stroke-width="0.9"/>
</g>
<g>
<clipPath id="cp13"><rect x="359.7" y="136.7" width="94.4" height="101.9"/></clipPath>
<rect x="359.7" y="136.7" width="94.4" height="101.9" fill="#fff"/>
<g clip-path="url(#cp13)">
<line x1="372.0" x2="372.0" y1="136.7" y2="238.6" stroke="#F7F7F7" stroke-width="0.5"/>
<line y1="225.2" y2="225.2" x1="359.7" x2="454.1" stroke="#F7F7F7" stroke-width="0.5"/>
<line x1="389.2" x2="389.2" y1="136.7" y2="238.6" stroke="#F7F7F7" stroke-width="0.5"/>
<line y1="206.6" y2="206.6" x1="359.7" x2="454.1" stroke="#F7F7F7" stroke-width="0.5"/>
<line x1="406.4" x2="406.4" y1="136.7" y2="238.6" stroke="#F7F7F7" stroke-width="0.5"/>
<line y1="188.0" y2="188.0" x1="359.7" x2="454.1" stroke="#F7F7F7" stroke-width="0.5"/>
<line x1="423.6" x2="423.6" y1="136.7" y2="238.6" stroke="#F7F7F7" stroke-width="0.5"/>
<line y1="169.4" y2="169.4" x1="359.7" x2="454.1" stroke="#F7F7F7" stroke-width="0.5"/>
<line x1="440.8" x2="440.8" y1="136.7" y2="238.6" stroke="#F7F7F7" stroke-width="0.5"/>
<line y1="150.8" y2="150.8" x1="359.7" x2="454.1" stroke="#F7F7F7" stroke-width="0.5"/>
<line x1="363.4" x2="363.4" y1="136.7" y2="238.6" stroke="#E2E2E2" stroke-width="1.1"/>
<line y1="234.5" y2="234.5" x1="359.7" x2="454.1" stroke="#E2E2E2" stroke-width="1.1"/>
<line x1="380.6" x2="380.6" y1="136.7" y2="238.6" stroke="#E2E2E2" stroke-width="1.1"/>
<line y1="215.9" y2="215.9" x1="359.7" x2="454.1" stroke="#E2E2E2" stroke-width="1.1"/>
<line x1="397.8" x2="397.8" y1="136.7" y2="238.6" stroke="#E2E2E2" stroke-width="1.1"/>
<line y1="197.3" y2="197.3" x1="359.7" x2="454.1" stroke="#E2E2E2" stroke-width="1.1"/>
<line x1="415.0" x2="415.0" y1="136.7" y2="238.6" stroke="#E2E2E2" stroke-width="1.1"/>
<line y1="178.7" y2="178.7" x1="359.7" x2="454.1" stroke="#E2E2E2" stroke-width="1.1"/>
<line x1="432.2" x2="432.2" y1="136.7" y2="238.6" stroke="#E2E2E2" stroke-width="1.1"/>
<line y1="160.1" y2="160.1" x1="359.7" x2="454.1" stroke="#E2E2E2" stroke-width="1.1"/>
<line x1="449.4" x2="449.4" y1="136.7" y2="238.6" stroke="#E2E2E2" stroke-width="1.1"/>
<line y1="141.5" y2="141.5" x1="359.7" x2="454.1" stroke="#E2E2E2" stroke-width="1.1"/>
<g fill="#F8766D" fill-opacity="0.75"><circle cx="367.6" cy="232.2" r="1.7"/><circle cx="367.0" cy="232.1" r="1.7"/><circle cx="368.8" cy="232.7" r="1.7"/><circle cx="368.9" cy="232.1" r="1.7"/><circle cx="368.4" cy="229.7" r="1.7"/><circle cx="369.2" cy="231.2" r="1.7"/><circle cx="370.1" cy="230.4" r="1.7"/><circle cx="368.6" cy="229.4" r="1.7"/><circle cx="371.0" cy="229.2" r="1.7"/><circle cx="371.1" cy="230.0" r="1.7"/><circle cx="369.4" cy="228.5" r="1.7"/><circle cx="370.6" cy="229.0" r="1.7"/><circle cx="370.1" cy="229.9" r="1.7"/><circle cx="369.8" cy="228.2" r="1.7"/><circle cx="369.8" cy="227.0" r="1.7"/><circle cx="371.2" cy="228.0" r="1.7"/><circle cx="371.6" cy="227.8" r="1.7"/><circle cx="371.1" cy="226.9" r="1.7"/><circle cx="371.8" cy="227.0" r="1.7"/><circle cx="372.0" cy="227.8" r="1.7"/><circle cx="371.5" cy="227.0" r="1.7"/><circle cx="370.9" cy="226.6" r="1.7"/><circle cx="371.9" cy="225.7" r="1.7"/><circle cx="373.6" cy="226.8" r="1.7"/><circle cx="373.7" cy="225.8" r="1.7"/><circle cx="372.0" cy="225.6" r="1.7"/><circle cx="372.7" cy="224.4" r="1.7"/><circle cx="371.8" cy="225.9" r="1.7"/><circle cx="373.9" cy="225.8" r="1.7"/><circle cx="374.2" cy="224.9" r="1.7"/><circle cx="373.6" cy="224.1" r="1.7"/><circle cx="374.3" cy="225.2" r="1.7"/></g>
<g fill="#00BA38" fill-opacity="0.75"><circle cx="368.6" cy="223.8" r="1.7"/><circle cx="369.3" cy="223.3" r="1.7"/><circle cx="369.7" cy="223.2" r="1.7"/><circle cx="370.5" cy="223.2" r="1.7"/><circle cx="370.9" cy="222.4" r="1.7"/><circle cx="371.3" cy="222.1" r="1.7"/></g>
<g fill="#00BFC4" fill-opacity="0.75"><circle cx="372.2" cy="221.2" r="1.7"/><circle cx="373.1" cy="220.1" r="1.7"/><circle cx="373.6" cy="219.6" r="1.7"/><circle cx="373.9" cy="219.5" r="1.7"/><circle cx="374.9" cy="219.3" r="1.7"/><circle cx="375.8" cy="219.4" r="1.7"/><circle cx="375.7" cy="218.5" r="1.7"/><circle cx="377.3" cy="218.2" r="1.7"/></g>
<g fill="#619CFF" fill-opacity="0.75"><circle cx="370.8" cy="220.6" r="1.7"/><circle cx="371.6" cy="221.0" r="1.7"/><circle cx="371.5" cy="220.2" r="1.7"/><circle cx="372.3" cy="219.6" r="1.7"/><circle cx="372.8" cy="219.0" r="1.7"/><circle cx="372.9" cy="218.4" r="1.7"/><circle cx="373.9" cy="217.6" r="1.7"/><circle cx="373.9" cy="216.8" r="1.7"/></g>
<g fill="#B79F00" fill-opacity="0.75"><circle cx="377.8" cy="219.3" r="1.7"/><circle cx="378.3" cy="219.5" r="1.7"/><circle cx="378.5" cy="219.2" r="1.7"/><circle cx="378.6" cy="218.5" r="1.7"/><circle cx="379.9" cy="217.4" r="1.7"/><circle cx="380.6" cy="217.5" r="1.7"/><circle cx="380.9" cy="216.5" r="1.7"/><circle cx="380.3" cy="216.8" r="1.7"/><circle cx="381.5" cy="215.9" r="1.7"/><circle cx="381.0" cy="215.8" r="1.7"/><circle cx="381.2" cy="215.3" r="1.7"/></g>
<g fill="#F564E3" fill-opacity="0.75"><circle cx="373.8" cy="219.7" r="1.7"/><circle cx="372.5" cy="218.9" r="1.7"/><circle cx="373.8" cy="218.2" r="1.7"/><circle cx="374.8" cy="217.3" r="1.7"/><circle cx="375.5" cy="216.4" r="1.7"/><circle cx="374.9" cy="217.8" r="1.7"/><circle cx="374.5" cy="216.9" r="1.7"/><circle cx="376.3" cy="217.5" r="1.7"/><circle cx="376.1" cy="216.4" r="1.7"/><circle cx="377.9" cy="217.2" r="1.7"/><circle cx="376.6" cy="215.6" r="1.7"/><circle cx="376.2" cy="216.1" r="1.7"/><circle cx="377.1" cy="215.6" r="1.7"/><circle cx="377.8" cy="215.0" r="1.7"/><circle cx="379.0" cy="213.8" r="1.7"/><circle cx="379.8" cy="214.0" r="1.7"/><circle cx="378.9" cy="213.5" r="1.7"/><circle cx="380.4" cy="213.1" r="1.7"/><circle cx="380.1" cy="212.2" r="1.7"/><circle cx="381.1" cy="212.1" r="1.7"/><circle cx="381.2" cy="212.2" r="1.7"/><circle cx="380.4" cy="212.8" r="1.7"/><circle cx="381.8" cy="212.6" r="1.7"/><circle cx="383.0" cy="212.3" r="1.7"/><circle cx="382.0" cy="211.7" r="1.7"/><circle cx="383.3" cy="210.6" r="1.7"/></g>
<g fill="#00BA38" fill-opacity="0.75"><circle cx="384.0" cy="207.6" r="1.7"/></g>
<g fill="#619CFF" fill-opacity="0.75"><circle cx="389.0" cy="205.0" r="1.7"/></g>
<g fill="#F8766D" fill-opacity="0.75"><circle cx="393.1" cy="200.6" r="1.7"/><circle cx="393.1" cy="200.3" r="1.7"/><circle cx="393.3" cy="199.7" r="1.7"/><circle cx="393.9" cy="199.8" r="1.7"/><circle cx="394.7" cy="199.3" r="1.7"/><circle cx="394.3" cy="199.4" r="1.7"/><circle cx="395.3" cy="199.6" r="1.7"/><circle cx="395.0" cy="198.8" r="1.7"/><circle cx="395.4" cy="198.4" r="1.7"/><circle cx="395.6" cy="197.8" r="1.7"/></g>
<g fill="#00BA38" fill-opacity="0.75"><circle cx="395.6" cy="202.4" r="1.7"/><circle cx="396.3" cy="202.4" r="1.7"/><circle cx="396.3" cy="201.0" r="1.7"/><circle cx="396.1" cy="201.3" r="1.7"/><circle cx="397.5" cy="200.7" r="1.7"/><circle cx="397.2" cy="200.4" r="1.7"/><circle cx="397.5" cy="200.8" r="1.7"/><circle cx="398.0" cy="200.7" r="1.7"/><circle cx="398.7" cy="200.3" r="1.7"/><circle cx="399.0" cy="199.9" r="1.7"/><circle cx="398.5" cy="199.6" r="1.7"/><circle cx="399.0" cy="199.0" r="1.7"/><circle cx="399.3" cy="198.4" r="1.7"/><circle cx="400.4" cy="198.8" r="1.7"/><circle cx="399.9" cy="197.8" r="1.7"/><circle cx="400.4" cy="198.0" r="1.7"/><circle cx="400.8" cy="197.8" r="1.7"/><circle cx="401.3" cy="197.0" r="1.7"/><circle cx="401.4" cy="196.6" r="1.7"/></g>
<g fill="#00BFC4" fill-opacity="0.75"><circle cx="397.0" cy="195.0" r="1.7"/></g>
<g fill="#00BFC4" fill-opacity="0.75"><circle cx="402.6" cy="196.5" r="1.7"/><circle cx="403.4" cy="195.7" r="1.7"/><circle cx="403.8" cy="195.7" r="1.7"/><circle cx="403.7" cy="194.9" r="1.7"/><circle cx="404.7" cy="195.2" r="1.7"/><circle cx="404.4" cy="194.1" r="1.7"/><circle cx="405.5" cy="194.7" r="1.7"/><circle cx="404.8" cy="193.4" r="1.7"/><circle cx="405.5" cy="193.1" r="1.7"/><circle cx="406.1" cy="192.6" r="1.7"/></g>
<g fill="#F564E3" fill-opacity="0.75"><circle cx="403.6" cy="193.0" r="1.7"/></g>
<g fill="#F8766D" fill-opacity="0.75"><circle cx="403.6" cy="187.6" r="1.7"/></g>
<g fill="#F564E3" fill-opacity="0.75"><circle cx="411.6" cy="185.0" r="1.7"/></g>
<g fill="#00BFC4" fill-opacity="0.75"><circle cx="410.8" cy="187.5" r="1.7"/><circle cx="411.3" cy="187.3" r="1.7"/><circle cx="412.3" cy="187.3" r="1.7"/><circle cx="412.5" cy="187.3" r="1.7"/><circle cx="414.5" cy="186.8" r="1.7"/><circle cx="415.2" cy="186.4" r="1.7"/><circle cx="415.5" cy="186.1" r="1.7"/><circle cx="416.3" cy="186.0" r="1.7"/></g>
<g fill="#00BA38" fill-opacity="0.75"><circle cx="410.0" cy="187.6" r="1.7"/></g>
<g fill="#619CFF" fill-opacity="0.75"><circle cx="403.0" cy="184.0" r="1.7"/></g>
<g fill="#619CFF" fill-opacity="0.75"><circle cx="410.1" cy="183.6" r="1.7"/><circle cx="411.6" cy="183.2" r="1.7"/><circle cx="411.0" cy="183.6" r="1.7"/><circle cx="411.1" cy="183.5" r="1.7"/><circle cx="411.8" cy="183.0" r="1.7"/><circle cx="412.0" cy="182.7" r="1.7"/><circle cx="413.3" cy="182.3" r="1.7"/><circle cx="412.6" cy="182.5" r="1.7"/><circle cx="413.3" cy="182.0" r="1.7"/><circle cx="414.9" cy="181.0" r="1.7"/><circle cx="415.2" cy="181.5" r="1.7"/><circle cx="414.5" cy="181.2" r="1.7"/><circle cx="415.5" cy="181.6" r="1.7"/><circle cx="416.3" cy="180.7" r="1.7"/><circle cx="416.6" cy="180.8" r="1.7"/><circle cx="416.6" cy="180.2" r="1.7"/></g>
<g fill="#B79F00" fill-opacity="0.75"><circle cx="422.6" cy="172.1" r="1.7"/><circle cx="423.1" cy="171.7" r="1.7"/><circle cx="422.8" cy="170.6" r="1.7"/><circle cx="423.3" cy="170.4" r="1.7"/><circle cx="423.4" cy="170.8" r="1.7"/><circle cx="424.1" cy="170.2" r="1.7"/><circle cx="424.4" cy="169.4" r="1.7"/><circle cx="425.3" cy="168.7" r="1.7"/></g>
<g fill="#00BFC4" fill-opacity="0.75"><circle cx="427.4" cy="170.3" r="1.7"/><circle cx="427.1" cy="170.1" r="1.7"/><circle cx="428.1" cy="169.4" r="1.7"/><circle cx="428.5" cy="169.5" r="1.7"/><circle cx="429.3" cy="169.1" r="1.7"/><circle cx="429.4" cy="168.0" r="1.7"/><circle cx="429.8" cy="168.0" r="1.7"/><circle cx="430.7" cy="168.1" r="1.7"/><circle cx="430.0" cy="167.6" r="1.7"/><circle cx="431.1" cy="167.5" r="1.7"/></g>
<g fill="#00BA38" fill-opacity="0.75"><circle cx="428.8" cy="167.0" r="1.7"/><circle cx="427.9" cy="166.9" r="1.7"/><circle cx="428.6" cy="165.8" r="1.7"/><circle cx="428.6" cy="166.2" r="1.7"/><circle cx="430.0" cy="165.7" r="1.7"/><circle cx="430.9" cy="165.0" r="1.7"/><circle cx="430.3" cy="164.1" r="1.7"/><circle cx="430.9" cy="164.9" r="1.7"/><circle cx="431.3" cy="163.6" r="1.7"/><circle cx="431.1" cy="163.8" r="1.7"/><circle cx="432.4" cy="162.6" r="1.7"/></g>
<g fill="#F8766D" fill-opacity="0.75"><circle cx="421.0" cy="166.9" r="1.7"/><circle cx="421.3" cy="166.2" r="1.7"/><circle cx="420.5" cy="166.3" r="1.7"/><circle cx="422.8" cy="165.5" r="1.7"/><circle cx="422.8" cy="165.5" r="1.7"/><circle cx="423.7" cy="165.6" r="1.7"/><circle cx="422.7" cy="165.2" r="1.7"/><circle cx="423.5" cy="165.7" r="1.7"/><circle cx="422.3" cy="164.0" r="1.7"/><circle cx="422.9" cy="164.9" r="1.7"/><circle cx="424.0" cy="164.7" r="1.7"/><circle cx="424.9" cy="162.8" r="1.7"/><circle cx="423.5" cy="163.5" r="1.7"/><circle cx="425.6" cy="163.3" r="1.7"/><circle cx="425.3" cy="163.7" r="1.7"/><circle cx="425.1" cy="163.2" r="1.7"/><circle cx="426.0" cy="162.0" r="1.7"/><circle cx="425.3" cy="162.7" r="1.7"/><circle cx="425.0" cy="161.5" r="1.7"/><circle cx="426.8" cy="161.8" r="1.7"/><circle cx="426.7" cy="161.0" r="1.7"/><circle cx="426.8" cy="160.6" r="1.7"/></g>
<g fill="#B79F00" fill-opacity="0.75"><circle cx="428.1" cy="161.2" r="1.7"/><circle cx="428.8" cy="160.0" r="1.7"/><circle cx="428.8" cy="159.7" r="1.7"/><circle cx="428.9" cy="160.4" r="1.7"/><circle cx="429.9" cy="159.5" r="1.7"/><circle cx="430.2" cy="159.0" r="1.7"/><circle cx="431.0" cy="159.2" r="1.7"/><circle cx="430.7" cy="158.1" r="1.7"/></g>
<g fill="#00BFC4" fill-opacity="0.75"><circle cx="422.0" cy="158.5" r="1.7"/><circle cx="422.0" cy="158.5" r="1.7"/><circle cx="422.2" cy="158.6" r="1.7"/><circle cx="423.7" cy="157.7" r="1.7"/><circle cx="424.2" cy="157.9" r="1.7"/><circle cx="424.5" cy="157.5" r="1.7"/><circle cx="425.3" cy="157.3" r="1.7"/><circle cx="425.6" cy="157.1" r="1.7"/></g>
<g fill="#F564E3" fill-opacity="0.75"><circle cx="420.0" cy="159.1" r="1.7"/><circle cx="419.9" cy="159.8" r="1.7"/><circle cx="419.7" cy="159.3" r="1.7"/><circle cx="421.0" cy="158.9" r="1.7"/><circle cx="420.8" cy="157.7" r="1.7"/><circle cx="422.3" cy="157.8" r="1.7"/><circle cx="421.8" cy="158.5" r="1.7"/><circle cx="422.2" cy="158.2" r="1.7"/><circle cx="423.1" cy="157.1" r="1.7"/><circle cx="423.5" cy="156.8" r="1.7"/><circle cx="424.0" cy="156.6" r="1.7"/></g>
<g fill="#619CFF" fill-opacity="0.75"><circle cx="420.2" cy="157.5" r="1.7"/><circle cx="420.8" cy="157.3" r="1.7"/><circle cx="421.3" cy="156.8" r="1.7"/><circle cx="421.2" cy="156.7" r="1.7"/><circle cx="421.7" cy="156.0" r="1.7"/></g>
<g fill="#F564E3" fill-opacity="0.75"><circle cx="416.0" cy="165.0" r="1.7"/></g>
<g fill="#619CFF" fill-opacity="0.75"><circle cx="416.0" cy="164.0" r="1.7"/></g>
<g fill="#F564E3" fill-opacity="0.75"><circle cx="431.7" cy="161.2" r="1.7"/><circle cx="432.2" cy="159.5" r="1.7"/><circle cx="433.8" cy="159.5" r="1.7"/><circle cx="432.5" cy="159.4" r="1.7"/><circle cx="433.1" cy="159.4" r="1.7"/><circle cx="434.0" cy="159.3" r="1.7"/><circle cx="435.2" cy="158.0" r="1.7"/><circle cx="433.6" cy="158.7" r="1.7"/><circle cx="434.3" cy="158.5" r="1.7"/><circle cx="436.2" cy="157.3" r="1.7"/><circle cx="435.8" cy="157.2" r="1.7"/><circle cx="435.9" cy="158.1" r="1.7"/><circle cx="435.9" cy="157.0" r="1.7"/><circle cx="436.3" cy="157.1" r="1.7"/><circle cx="437.2" cy="157.1" r="1.7"/><circle cx="437.7" cy="156.2" r="1.7"/><circle cx="437.3" cy="156.2" r="1.7"/><circle cx="437.6" cy="154.3" r="1.7"/><circle cx="439.2" cy="156.2" r="1.7"/></g>
<g fill="#619CFF" fill-opacity="0.75"><circle cx="430.9" cy="155.9" r="1.7"/><circle cx="431.7" cy="155.7" r="1.7"/><circle cx="432.6" cy="155.8" r="1.7"/><circle cx="433.3" cy="155.3" r="1.7"/><circle cx="434.0" cy="155.2" r="1.7"/></g>
<g fill="#619CFF" fill-opacity="0.75"><circle cx="440.6" cy="160.4" r="1.7"/></g>
<g fill="#00BFC4" fill-opacity="0.75"><circle cx="436.0" cy="159.0" r="1.7"/></g>
<line x1="364.8" y1="233.9" x2="441.0" y2="151.0" stroke="#000" stroke-width="1.5"/>
<line x1="363.4" y1="234.5" x2="449.4" y2="141.5" stroke="#000" stroke-width="1.5" stroke-dasharray="6 6"/>
<text x="447.3" y="228.9" font-size="10.4" fill="#1c1c1c" text-anchor="end" textLength="57.4" lengthAdjust="spacingAndGlyphs">RMSE: 0.009</text>
</g>
<rect x="359.7" y="136.7" width="94.4" height="101.9" fill="none" stroke="#333" stroke-width="0.9"/>
</g>
<g>
<clipPath id="cp20"><rect x="51.2" y="247.2" width="94.4" height="101.9"/></clipPath>
<rect x="51.2" y="247.2" width="94.4" height="101.9" fill="#fff"/>
<g clip-path="url(#cp20)">
<line x1="63.5" x2="63.5" y1="247.2" y2="349.1" stroke="#F7F7F7" stroke-width="0.5"/>
<line y1="335.7" y2="335.7" x1="51.2" x2="145.60000000000002" stroke="#F7F7F7" stroke-width="0.5"/>
<line x1="80.7" x2="80.7" y1="247.2" y2="349.1" stroke="#F7F7F7" stroke-width="0.5"/>
<line y1="317.1" y2="317.1" x1="51.2" x2="145.60000000000002" stroke="#F7F7F7" stroke-width="0.5"/>
<line x1="97.9" x2="97.9" y1="247.2" y2="349.1" stroke="#F7F7F7" stroke-width="0.5"/>
<line y1="298.5" y2="298.5" x1="51.2" x2="145.60000000000002" stroke="#F7F7F7" stroke-width="0.5"/>
<line x1="115.1" x2="115.1" y1="247.2" y2="349.1" stroke="#F7F7F7" stroke-width="0.5"/>
<line y1="279.9" y2="279.9" x1="51.2" x2="145.60000000000002" stroke="#F7F7F7" stroke-width="0.5"/>
<line x1="132.3" x2="132.3" y1="247.2" y2="349.1" stroke="#F7F7F7" stroke-width="0.5"/>
<line y1="261.3" y2="261.3" x1="51.2" x2="145.60000000000002" stroke="#F7F7F7" stroke-width="0.5"/>
<line x1="54.9" x2="54.9" y1="247.2" y2="349.1" stroke="#E2E2E2" stroke-width="1.1"/>
<line y1="345.0" y2="345.0" x1="51.2" x2="145.60000000000002" stroke="#E2E2E2" stroke-width="1.1"/>
<line x1="72.1" x2="72.1" y1="247.2" y2="349.1" stroke="#E2E2E2" stroke-width="1.1"/>
<line y1="326.4" y2="326.4" x1="51.2" x2="145.60000000000002" stroke="#E2E2E2" stroke-width="1.1"/>
<line x1="89.3" x2="89.3" y1="247.2" y2="349.1" stroke="#E2E2E2" stroke-width="1.1"/>
<line y1="307.8" y2="307.8" x1="51.2" x2="145.60000000000002" stroke="#E2E2E2" stroke-width="1.1"/>
<line x1="106.5" x2="106.5" y1="247.2" y2="349.1" stroke="#E2E2E2" stroke-width="1.1"/>
<line y1="289.2" y2="289.2" x1="51.2" x2="145.60000000000002" stroke="#E2E2E2" stroke-width="1.1"/>
<line x1="123.7" x2="123.7" y1="247.2" y2="349.1" stroke="#E2E2E2" stroke-width="1.1"/>
<line y1="270.6" y2="270.6" x1="51.2" x2="145.60000000000002" stroke="#E2E2E2" stroke-width="1.1"/>
<line x1="140.9" x2="140.9" y1="247.2" y2="349.1" stroke="#E2E2E2" stroke-width="1.1"/>
<line y1="252.0" y2="252.0" x1="51.2" x2="145.60000000000002" stroke="#E2E2E2" stroke-width="1.1"/>
<g fill="#F8766D" fill-opacity="0.75"><circle cx="60.2" cy="339.9" r="1.7"/><circle cx="59.8" cy="339.8" r="1.7"/><circle cx="59.9" cy="339.0" r="1.7"/><circle cx="60.3" cy="340.5" r="1.7"/><circle cx="61.7" cy="340.0" r="1.7"/><circle cx="60.9" cy="339.7" r="1.7"/><circle cx="60.4" cy="339.0" r="1.7"/><circle cx="62.1" cy="339.0" r="1.7"/><circle cx="62.3" cy="339.5" r="1.7"/><circle cx="61.9" cy="338.6" r="1.7"/><circle cx="62.7" cy="337.0" r="1.7"/><circle cx="63.9" cy="337.9" r="1.7"/><circle cx="62.7" cy="337.2" r="1.7"/><circle cx="63.8" cy="337.1" r="1.7"/><circle cx="63.4" cy="337.0" r="1.7"/><circle cx="64.9" cy="337.3" r="1.7"/><circle cx="63.8" cy="336.4" r="1.7"/><circle cx="64.9" cy="336.1" r="1.7"/><circle cx="65.3" cy="335.4" r="1.7"/><circle cx="64.9" cy="334.9" r="1.7"/><circle cx="66.7" cy="335.0" r="1.7"/><circle cx="67.0" cy="336.0" r="1.7"/></g>
<g fill="#B79F00" fill-opacity="0.75"><circle cx="64.1" cy="338.7" r="1.7"/><circle cx="63.9" cy="337.7" r="1.7"/><circle cx="64.9" cy="337.6" r="1.7"/><circle cx="65.7" cy="337.8" r="1.7"/><circle cx="65.9" cy="337.2" r="1.7"/><circle cx="65.9" cy="336.9" r="1.7"/><circle cx="66.6" cy="335.9" r="1.7"/><circle cx="65.7" cy="337.5" r="1.7"/><circle cx="67.3" cy="337.3" r="1.7"/><circle cx="66.3" cy="334.9" r="1.7"/><circle cx="66.6" cy="337.0" r="1.7"/><circle cx="67.5" cy="335.7" r="1.7"/><circle cx="68.1" cy="335.1" r="1.7"/><circle cx="66.8" cy="335.2" r="1.7"/><circle cx="68.6" cy="334.6" r="1.7"/><circle cx="69.7" cy="334.5" r="1.7"/><circle cx="69.5" cy="334.6" r="1.7"/><circle cx="69.3" cy="333.7" r="1.7"/><circle cx="69.4" cy="333.3" r="1.7"/><circle cx="70.3" cy="333.0" r="1.7"/><circle cx="70.1" cy="333.7" r="1.7"/><circle cx="69.6" cy="332.2" r="1.7"/><circle cx="70.3" cy="332.6" r="1.7"/><circle cx="71.0" cy="332.4" r="1.7"/><circle cx="71.4" cy="332.4" r="1.7"/><circle cx="71.0" cy="331.8" r="1.7"/><circle cx="71.0" cy="330.9" r="1.7"/><circle cx="70.8" cy="331.5" r="1.7"/><circle cx="72.5" cy="331.0" r="1.7"/><circle cx="71.5" cy="330.9" r="1.7"/><circle cx="72.1" cy="330.1" r="1.7"/><circle cx="71.6" cy="329.4" r="1.7"/><circle cx="73.3" cy="329.6" r="1.7"/><circle cx="73.1" cy="330.4" r="1.7"/><circle cx="73.4" cy="329.4" r="1.7"/><circle cx="72.9" cy="329.8" r="1.7"/><circle cx="73.8" cy="328.8" r="1.7"/><circle cx="74.5" cy="329.3" r="1.7"/><circle cx="74.8" cy="329.2" r="1.7"/><circle cx="73.8" cy="326.9" r="1.7"/><circle cx="75.6" cy="327.9" r="1.7"/><circle cx="75.4" cy="327.0" r="1.7"/><circle cx="74.4" cy="327.2" r="1.7"/><circle cx="76.3" cy="327.8" r="1.7"/><circle cx="76.2" cy="327.6" r="1.7"/><circle cx="76.1" cy="325.6" r="1.7"/><circle cx="76.9" cy="326.8" r="1.7"/><circle cx="77.1" cy="326.5" r="1.7"/></g>
<g fill="#00BFC4" fill-opacity="0.75"><circle cx="62.2" cy="334.1" r="1.7"/><circle cx="62.9" cy="333.5" r="1.7"/><circle cx="62.8" cy="333.8" r="1.7"/><circle cx="64.8" cy="333.4" r="1.7"/><circle cx="63.7" cy="333.3" r="1.7"/><circle cx="65.7" cy="332.2" r="1.7"/><circle cx="66.4" cy="331.6" r="1.7"/><circle cx="66.4" cy="331.6" r="1.7"/><circle cx="66.2" cy="330.3" r="1.7"/><circle cx="67.6" cy="331.0" r="1.7"/><circle cx="68.1" cy="330.1" r="1.7"/><circle cx="68.4" cy="330.4" r="1.7"/><circle cx="68.9" cy="329.5" r="1.7"/></g>
<g fill="#619CFF" fill-opacity="0.75"><circle cx="62.5" cy="334.8" r="1.7"/><circle cx="62.2" cy="333.4" r="1.7"/><circle cx="62.4" cy="333.3" r="1.7"/><circle cx="63.4" cy="333.4" r="1.7"/><circle cx="63.6" cy="332.7" r="1.7"/><circle cx="63.9" cy="332.3" r="1.7"/><circle cx="64.3" cy="331.4" r="1.7"/><circle cx="65.0" cy="331.4" r="1.7"/></g>
<g fill="#00BA38" fill-opacity="0.75"><circle cx="66.0" cy="331.3" r="1.7"/><circle cx="67.0" cy="330.8" r="1.7"/><circle cx="66.9" cy="330.6" r="1.7"/><circle cx="67.7" cy="329.5" r="1.7"/><circle cx="67.3" cy="329.2" r="1.7"/><circle cx="68.0" cy="328.8" r="1.7"/><circle cx="68.3" cy="328.1" r="1.7"/><circle cx="68.7" cy="327.8" r="1.7"/></g>
<g fill="#00BFC4" fill-opacity="0.75"><circle cx="69.5" cy="325.8" r="1.7"/><circle cx="68.2" cy="325.6" r="1.7"/><circle cx="70.1" cy="325.2" r="1.7"/><circle cx="69.1" cy="325.4" r="1.7"/><circle cx="70.0" cy="325.2" r="1.7"/><circle cx="71.5" cy="324.2" r="1.7"/><circle cx="70.2" cy="325.2" r="1.7"/><circle cx="72.0" cy="324.0" r="1.7"/><circle cx="71.1" cy="322.7" r="1.7"/><circle cx="70.5" cy="322.1" r="1.7"/><circle cx="71.3" cy="323.0" r="1.7"/><circle cx="71.2" cy="323.0" r="1.7"/><circle cx="72.2" cy="323.3" r="1.7"/><circle cx="72.1" cy="320.8" r="1.7"/><circle cx="71.9" cy="321.8" r="1.7"/><circle cx="73.4" cy="321.0" r="1.7"/><circle cx="73.4" cy="321.1" r="1.7"/><circle cx="74.3" cy="319.7" r="1.7"/><circle cx="72.9" cy="319.6" r="1.7"/><circle cx="74.4" cy="319.4" r="1.7"/><circle cx="75.5" cy="319.5" r="1.7"/><circle cx="75.8" cy="321.1" r="1.7"/><circle cx="75.0" cy="318.0" r="1.7"/><circle cx="74.5" cy="320.3" r="1.7"/><circle cx="76.6" cy="318.1" r="1.7"/><circle cx="75.8" cy="317.6" r="1.7"/><circle cx="75.6" cy="319.4" r="1.7"/><circle cx="76.6" cy="317.6" r="1.7"/><circle cx="75.7" cy="318.0" r="1.7"/></g>
<g fill="#F564E3" fill-opacity="0.75"><circle cx="64.0" cy="329.0" r="1.7"/></g>
<g fill="#F564E3" fill-opacity="0.75"><circle cx="67.0" cy="322.0" r="1.7"/></g>
<g fill="#F564E3" fill-opacity="0.75"><circle cx="70.0" cy="314.7" r="1.7"/><circle cx="70.2" cy="315.2" r="1.7"/><circle cx="70.8" cy="314.7" r="1.7"/><circle cx="70.7" cy="314.2" r="1.7"/><circle cx="72.3" cy="313.7" r="1.7"/><circle cx="71.7" cy="315.2" r="1.7"/><circle cx="73.4" cy="315.2" r="1.7"/><circle cx="72.5" cy="313.8" r="1.7"/><circle cx="72.7" cy="313.7" r="1.7"/><circle cx="73.5" cy="312.4" r="1.7"/><circle cx="73.6" cy="312.4" r="1.7"/><circle cx="73.8" cy="312.4" r="1.7"/><circle cx="74.1" cy="312.7" r="1.7"/><circle cx="75.4" cy="313.1" r="1.7"/></g>
<g fill="#F564E3" fill-opacity="0.75"><circle cx="69.0" cy="319.0" r="1.7"/></g>
<g fill="#F564E3" fill-opacity="0.75"><circle cx="72.0" cy="317.0" r="1.7"/></g>
<g fill="#00BA38" fill-opacity="0.75"><circle cx="72.0" cy="320.5" r="1.7"/></g>
<g fill="#00BA38" fill-opacity="0.75"><circle cx="80.5" cy="310.5" r="1.7"/></g>
<g fill="#F8766D" fill-opacity="0.75"><circle cx="79.0" cy="312.0" r="1.7"/></g>
<g fill="#B79F00" fill-opacity="0.75"><circle cx="77.0" cy="318.0" r="1.7"/></g>
<g fill="#619CFF" fill-opacity="0.75"><circle cx="78.0" cy="315.0" r="1.7"/></g>
<g fill="#F8766D" fill-opacity="0.75"><circle cx="81.5" cy="320.5" r="1.7"/></g>
<g fill="#B79F00" fill-opacity="0.75"><circle cx="86.6" cy="308.0" r="1.7"/></g>
<g fill="#F8766D" fill-opacity="0.75"><circle cx="83.9" cy="303.6" r="1.7"/><circle cx="84.5" cy="303.4" r="1.7"/><circle cx="84.7" cy="303.2" r="1.7"/><circle cx="84.9" cy="302.4" r="1.7"/><circle cx="84.6" cy="303.0" r="1.7"/><circle cx="86.0" cy="302.9" r="1.7"/><circle cx="86.2" cy="301.5" r="1.7"/><circle cx="85.5" cy="302.1" r="1.7"/><circle cx="85.1" cy="301.6" r="1.7"/><circle cx="85.8" cy="302.1" r="1.7"/><circle cx="86.5" cy="301.4" r="1.7"/><circle cx="87.7" cy="301.6" r="1.7"/><circle cx="86.5" cy="300.3" r="1.7"/><circle cx="87.3" cy="300.4" r="1.7"/><circle cx="86.7" cy="300.3" r="1.7"/><circle cx="87.6" cy="301.0" r="1.7"/></g>
<g fill="#00BFC4" fill-opacity="0.75"><circle cx="86.0" cy="299.0" r="1.7"/></g>
<g fill="#F564E3" fill-opacity="0.75"><circle cx="88.0" cy="298.6" r="1.7"/></g>
<g fill="#F8766D" fill-opacity="0.75"><circle cx="96.0" cy="299.0" r="1.7"/></g>
<g fill="#F8766D" fill-opacity="0.75"><circle cx="103.0" cy="290.6" r="1.7"/></g>
<g fill="#00BA38" fill-opacity="0.75"><circle cx="86.4" cy="293.3" r="1.7"/><circle cx="87.7" cy="292.2" r="1.7"/><circle cx="87.9" cy="292.8" r="1.7"/><circle cx="87.6" cy="293.0" r="1.7"/><circle cx="88.5" cy="291.6" r="1.7"/><circle cx="88.8" cy="291.6" r="1.7"/><circle cx="88.4" cy="291.6" r="1.7"/><circle cx="90.1" cy="290.6" r="1.7"/><circle cx="89.9" cy="291.2" r="1.7"/><circle cx="89.2" cy="291.3" r="1.7"/><circle cx="89.9" cy="290.5" r="1.7"/><circle cx="89.5" cy="290.6" r="1.7"/><circle cx="89.7" cy="291.7" r="1.7"/><circle cx="90.9" cy="290.0" r="1.7"/><circle cx="91.0" cy="290.2" r="1.7"/><circle cx="91.5" cy="289.7" r="1.7"/><circle cx="91.9" cy="290.2" r="1.7"/><circle cx="90.4" cy="289.0" r="1.7"/><circle cx="91.7" cy="289.9" r="1.7"/><circle cx="92.0" cy="289.7" r="1.7"/><circle cx="91.8" cy="290.1" r="1.7"/><circle cx="92.7" cy="288.7" r="1.7"/><circle cx="91.8" cy="290.4" r="1.7"/><circle cx="93.9" cy="287.9" r="1.7"/><circle cx="93.5" cy="287.9" r="1.7"/><circle cx="93.6" cy="288.5" r="1.7"/><circle cx="93.9" cy="287.7" r="1.7"/><circle cx="92.9" cy="289.4" r="1.7"/><circle cx="94.6" cy="287.3" r="1.7"/><circle cx="93.6" cy="288.4" r="1.7"/><circle cx="94.2" cy="288.5" r="1.7"/><circle cx="95.1" cy="287.3" r="1.7"/><circle cx="96.5" cy="288.5" r="1.7"/><circle cx="95.6" cy="286.7" r="1.7"/><circle cx="95.1" cy="287.0" r="1.7"/></g>
<g fill="#00BFC4" fill-opacity="0.75"><circle cx="94.5" cy="294.1" r="1.7"/><circle cx="94.5" cy="292.9" r="1.7"/><circle cx="95.4" cy="293.0" r="1.7"/><circle cx="94.9" cy="292.1" r="1.7"/><circle cx="96.3" cy="292.4" r="1.7"/><circle cx="96.2" cy="291.2" r="1.7"/><circle cx="96.4" cy="291.9" r="1.7"/><circle cx="96.6" cy="290.5" r="1.7"/><circle cx="97.7" cy="290.5" r="1.7"/><circle cx="97.8" cy="290.3" r="1.7"/><circle cx="98.4" cy="290.6" r="1.7"/></g>
<g fill="#F564E3" fill-opacity="0.75"><circle cx="96.0" cy="286.0" r="1.7"/></g>
<g fill="#00BA38" fill-opacity="0.75"><circle cx="102.0" cy="287.4" r="1.7"/></g>
<g fill="#619CFF" fill-opacity="0.75"><circle cx="98.6" cy="284.6" r="1.7"/><circle cx="99.6" cy="284.3" r="1.7"/><circle cx="100.4" cy="284.7" r="1.7"/><circle cx="99.7" cy="284.8" r="1.7"/><circle cx="101.2" cy="284.4" r="1.7"/><circle cx="101.6" cy="284.9" r="1.7"/><circle cx="101.5" cy="283.5" r="1.7"/><circle cx="102.9" cy="283.8" r="1.7"/><circle cx="102.7" cy="283.1" r="1.7"/><circle cx="102.7" cy="283.3" r="1.7"/><circle cx="103.9" cy="283.5" r="1.7"/><circle cx="103.0" cy="283.4" r="1.7"/><circle cx="104.1" cy="282.7" r="1.7"/><circle cx="105.0" cy="283.8" r="1.7"/><circle cx="105.7" cy="283.0" r="1.7"/><circle cx="105.3" cy="282.9" r="1.7"/><circle cx="106.6" cy="282.9" r="1.7"/><circle cx="106.5" cy="282.3" r="1.7"/><circle cx="106.2" cy="282.6" r="1.7"/><circle cx="107.1" cy="282.3" r="1.7"/><circle cx="106.9" cy="282.2" r="1.7"/><circle cx="107.8" cy="281.9" r="1.7"/></g>
<g fill="#00BFC4" fill-opacity="0.75"><circle cx="108.0" cy="286.0" r="1.7"/></g>
<g fill="#F564E3" fill-opacity="0.75"><circle cx="112.0" cy="290.0" r="1.7"/></g>
<g fill="#B79F00" fill-opacity="0.75"><circle cx="112.0" cy="291.6" r="1.7"/></g>
<g fill="#F8766D" fill-opacity="0.75"><circle cx="112.7" cy="278.2" r="1.7"/><circle cx="113.5" cy="278.9" r="1.7"/><circle cx="112.7" cy="276.7" r="1.7"/><circle cx="113.3" cy="276.7" r="1.7"/><circle cx="113.7" cy="277.3" r="1.7"/><circle cx="114.2" cy="275.9" r="1.7"/><circle cx="114.3" cy="276.9" r="1.7"/><circle cx="114.5" cy="277.4" r="1.7"/><circle cx="115.0" cy="276.2" r="1.7"/><circle cx="116.1" cy="275.4" r="1.7"/><circle cx="116.8" cy="276.6" r="1.7"/><circle cx="116.8" cy="275.9" r="1.7"/><circle cx="116.1" cy="276.2" r="1.7"/><circle cx="116.3" cy="274.5" r="1.7"/><circle cx="117.7" cy="275.0" r="1.7"/><circle cx="117.8" cy="275.0" r="1.7"/><circle cx="117.9" cy="274.3" r="1.7"/><circle cx="118.5" cy="273.8" r="1.7"/><circle cx="118.8" cy="274.9" r="1.7"/><circle cx="120.2" cy="273.2" r="1.7"/><circle cx="119.3" cy="273.6" r="1.7"/><circle cx="119.9" cy="272.7" r="1.7"/></g>
<g fill="#00BFC4" fill-opacity="0.75"><circle cx="114.8" cy="277.5" r="1.7"/><circle cx="116.8" cy="277.8" r="1.7"/><circle cx="116.2" cy="276.8" r="1.7"/><circle cx="117.0" cy="276.6" r="1.7"/><circle cx="116.9" cy="276.7" r="1.7"/><circle cx="118.4" cy="276.1" r="1.7"/><circle cx="119.2" cy="275.2" r="1.7"/><circle cx="119.4" cy="274.9" r="1.7"/><circle cx="119.1" cy="275.4" r="1.7"/><circle cx="121.0" cy="275.1" r="1.7"/></g>
<g fill="#B79F00" fill-opacity="0.75"><circle cx="114.2" cy="284.3" r="1.7"/><circle cx="115.3" cy="283.6" r="1.7"/><circle cx="115.2" cy="283.4" r="1.7"/><circle cx="115.7" cy="283.6" r="1.7"/><circle cx="116.4" cy="282.7" r="1.7"/><circle cx="116.7" cy="283.0" r="1.7"/><circle cx="116.5" cy="282.8" r="1.7"/><circle cx="117.5" cy="282.3" r="1.7"/><circle cx="117.5" cy="282.5" r="1.7"/><circle cx="119.3" cy="282.6" r="1.7"/><circle cx="118.2" cy="281.5" r="1.7"/><circle cx="119.2" cy="281.5" r="1.7"/><circle cx="120.5" cy="281.0" r="1.7"/></g>
<g fill="#00BA38" fill-opacity="0.75"><circle cx="122.0" cy="280.0" r="1.7"/></g>
<g fill="#619CFF" fill-opacity="0.75"><circle cx="119.9" cy="279.5" r="1.7"/><circle cx="119.1" cy="279.4" r="1.7"/><circle cx="120.7" cy="279.4" r="1.7"/><circle cx="120.9" cy="279.4" r="1.7"/><circle cx="121.6" cy="278.1" r="1.7"/><circle cx="122.2" cy="277.9" r="1.7"/><circle cx="122.8" cy="277.2" r="1.7"/><circle cx="122.8" cy="276.5" r="1.7"/></g>
<g fill="#F564E3" fill-opacity="0.75"><circle cx="122.5" cy="277.8" r="1.7"/><circle cx="123.6" cy="278.9" r="1.7"/><circle cx="125.0" cy="279.5" r="1.7"/><circle cx="124.1" cy="277.9" r="1.7"/><circle cx="124.6" cy="277.0" r="1.7"/><circle cx="123.9" cy="277.9" r="1.7"/><circle cx="125.3" cy="277.4" r="1.7"/><circle cx="124.5" cy="278.0" r="1.7"/><circle cx="124.8" cy="277.2" r="1.7"/><circle cx="125.6" cy="276.9" r="1.7"/><circle cx="126.0" cy="276.9" r="1.7"/><circle cx="127.5" cy="277.5" r="1.7"/><circle cx="126.9" cy="276.5" r="1.7"/><circle cx="126.5" cy="277.4" r="1.7"/><circle cx="126.8" cy="276.9" r="1.7"/><circle cx="128.1" cy="277.0" r="1.7"/><circle cx="128.9" cy="274.9" r="1.7"/><circle cx="129.6" cy="275.7" r="1.7"/><circle cx="128.1" cy="275.5" r="1.7"/><circle cx="130.0" cy="275.8" r="1.7"/><circle cx="129.7" cy="275.7" r="1.7"/><circle cx="131.1" cy="275.9" r="1.7"/></g>
<g fill="#619CFF" fill-opacity="0.75"><circle cx="131.0" cy="278.0" r="1.7"/></g>
<line x1="55.1" y1="345.0" x2="132.3" y2="265.7" stroke="#000" stroke-width="1.5"/>
<line x1="54.9" y1="345.0" x2="140.9" y2="252.0" stroke="#000" stroke-width="1.5" stroke-dasharray="6 6"/>
<text x="138.8" y="339.4" font-size="10.4" fill="#1c1c1c" text-anchor="end" textLength="57.4" lengthAdjust="spacingAndGlyphs">RMSE: 0.026</text>
</g>
<rect x="51.2" y="247.2" width="94.4" height="101.9" fill="none" stroke="#333" stroke-width="0.9"/>
</g>
<g>
<clipPath id="cp21"><rect x="153.8" y="247.2" width="94.4" height="101.9"/></clipPath>
<rect x="153.8" y="247.2" width="94.4" height="101.9" fill="#fff"/>
<g clip-path="url(#cp21)">
<line x1="166.1" x2="166.1" y1="247.2" y2="349.1" stroke="#F7F7F7" stroke-width="0.5"/>
<line y1="335.7" y2="335.7" x1="153.8" x2="248.20000000000002" stroke="#F7F7F7" stroke-width="0.5"/>
<line x1="183.3" x2="183.3" y1="247.2" y2="349.1" stroke="#F7F7F7" stroke-width="0.5"/>
<line y1="317.1" y2="317.1" x1="153.8" x2="248.20000000000002" stroke="#F7F7F7" stroke-width="0.5"/>
<line x1="200.5" x2="200.5" y1="247.2" y2="349.1" stroke="#F7F7F7" stroke-width="0.5"/>
<line y1="298.5" y2="298.5" x1="153.8" x2="248.20000000000002" stroke="#F7F7F7" stroke-width="0.5"/>
<line x1="217.7" x2="217.7" y1="247.2" y2="349.1" stroke="#F7F7F7" stroke-width="0.5"/>
<line y1="279.9" y2="279.9" x1="153.8" x2="248.20000000000002" stroke="#F7F7F7" stroke-width="0.5"/>
<line x1="234.9" x2="234.9" y1="247.2" y2="349.1" stroke="#F7F7F7" stroke-width="0.5"/>
<line y1="261.3" y2="261.3" x1="153.8" x2="248.20000000000002" stroke="#F7F7F7" stroke-width="0.5"/>
<line x1="157.5" x2="157.5" y1="247.2" y2="349.1" stroke="#E2E2E2" stroke-width="1.1"/>
<line y1="345.0" y2="345.0" x1="153.8" x2="248.20000000000002" stroke="#E2E2E2" stroke-width="1.1"/>
<line x1="174.7" x2="174.7" y1="247.2" y2="349.1" stroke="#E2E2E2" stroke-width="1.1"/>
<line y1="326.4" y2="326.4" x1="153.8" x2="248.20000000000002" stroke="#E2E2E2" stroke-width="1.1"/>
<line x1="191.9" x2="191.9" y1="247.2" y2="349.1" stroke="#E2E2E2" stroke-width="1.1"/>
<line y1="307.8" y2="307.8" x1="153.8" x2="248.20000000000002" stroke="#E2E2E2" stroke-width="1.1"/>
<line x1="209.1" x2="209.1" y1="247.2" y2="349.1" stroke="#E2E2E2" stroke-width="1.1"/>
<line y1="289.2" y2="289.2" x1="153.8" x2="248.20000000000002" stroke="#E2E2E2" stroke-width="1.1"/>
<line x1="226.3" x2="226.3" y1="247.2" y2="349.1" stroke="#E2E2E2" stroke-width="1.1"/>
<line y1="270.6" y2="270.6" x1="153.8" x2="248.20000000000002" stroke="#E2E2E2" stroke-width="1.1"/>
<line x1="243.5" x2="243.5" y1="247.2" y2="349.1" stroke="#E2E2E2" stroke-width="1.1"/>
<line y1="252.0" y2="252.0" x1="153.8" x2="248.20000000000002" stroke="#E2E2E2" stroke-width="1.1"/>
<g fill="#F8766D" fill-opacity="0.75"><circle cx="161.7" cy="343.1" r="1.7"/><circle cx="162.3" cy="344.0" r="1.7"/><circle cx="162.8" cy="341.5" r="1.7"/><circle cx="164.8" cy="342.8" r="1.7"/><circle cx="164.8" cy="341.6" r="1.7"/><circle cx="164.2" cy="342.2" r="1.7"/><circle cx="163.3" cy="340.6" r="1.7"/><circle cx="163.6" cy="340.5" r="1.7"/><circle cx="165.2" cy="342.1" r="1.7"/><circle cx="164.4" cy="340.3" r="1.7"/><circle cx="165.3" cy="340.4" r="1.7"/><circle cx="164.3" cy="340.3" r="1.7"/><circle cx="166.9" cy="341.4" r="1.7"/><circle cx="165.4" cy="341.0" r="1.7"/><circle cx="166.7" cy="339.8" r="1.7"/><circle cx="165.4" cy="340.3" r="1.7"/><circle cx="166.7" cy="339.2" r="1.7"/><circle cx="165.4" cy="340.2" r="1.7"/><circle cx="166.6" cy="339.8" r="1.7"/><circle cx="167.9" cy="338.9" r="1.7"/><circle cx="166.8" cy="339.4" r="1.7"/><circle cx="167.3" cy="337.7" r="1.7"/><circle cx="167.2" cy="336.8" r="1.7"/><circle cx="168.9" cy="337.4" r="1.7"/><circle cx="167.3" cy="337.9" r="1.7"/><circle cx="167.8" cy="338.7" r="1.7"/><circle cx="168.5" cy="336.6" r="1.7"/><circle cx="167.7" cy="336.3" r="1.7"/><circle cx="168.5" cy="335.4" r="1.7"/><circle cx="169.0" cy="334.8" r="1.7"/><circle cx="169.0" cy="336.1" r="1.7"/><circle cx="170.9" cy="335.5" r="1.7"/><circle cx="170.7" cy="335.3" r="1.7"/><circle cx="171.1" cy="334.1" r="1.7"/><circle cx="168.6" cy="335.5" r="1.7"/></g>
<g fill="#00BA38" fill-opacity="0.75"><circle cx="164.9" cy="334.8" r="1.7"/><circle cx="165.1" cy="334.7" r="1.7"/><circle cx="165.3" cy="333.7" r="1.7"/><circle cx="165.4" cy="333.9" r="1.7"/><circle cx="165.8" cy="333.6" r="1.7"/><circle cx="166.7" cy="333.6" r="1.7"/><circle cx="166.7" cy="332.5" r="1.7"/><circle cx="168.4" cy="331.6" r="1.7"/></g>
<g fill="#619CFF" fill-opacity="0.75"><circle cx="167.9" cy="334.4" r="1.7"/><circle cx="168.0" cy="333.7" r="1.7"/><circle cx="168.0" cy="334.4" r="1.7"/><circle cx="168.5" cy="332.9" r="1.7"/><circle cx="168.6" cy="333.2" r="1.7"/><circle cx="169.5" cy="332.3" r="1.7"/><circle cx="170.5" cy="331.8" r="1.7"/><circle cx="170.7" cy="331.4" r="1.7"/></g>
<g fill="#B79F00" fill-opacity="0.75"><circle cx="172.0" cy="332.7" r="1.7"/><circle cx="172.2" cy="332.6" r="1.7"/><circle cx="172.7" cy="331.4" r="1.7"/><circle cx="173.9" cy="331.4" r="1.7"/><circle cx="174.4" cy="330.6" r="1.7"/><circle cx="174.9" cy="331.5" r="1.7"/><circle cx="175.2" cy="330.7" r="1.7"/><circle cx="176.0" cy="330.0" r="1.7"/><circle cx="176.3" cy="330.3" r="1.7"/><circle cx="175.5" cy="329.5" r="1.7"/><circle cx="175.9" cy="328.4" r="1.7"/></g>
<g fill="#00BFC4" fill-opacity="0.75"><circle cx="171.5" cy="329.0" r="1.7"/><circle cx="171.2" cy="327.9" r="1.7"/><circle cx="171.9" cy="329.0" r="1.7"/><circle cx="173.2" cy="327.7" r="1.7"/><circle cx="172.9" cy="327.9" r="1.7"/><circle cx="173.4" cy="327.0" r="1.7"/><circle cx="174.5" cy="327.3" r="1.7"/><circle cx="174.8" cy="325.9" r="1.7"/><circle cx="175.6" cy="326.4" r="1.7"/><circle cx="176.2" cy="326.9" r="1.7"/><circle cx="176.5" cy="325.8" r="1.7"/><circle cx="177.0" cy="324.9" r="1.7"/><circle cx="178.2" cy="324.4" r="1.7"/></g>
<g fill="#F564E3" fill-opacity="0.75"><circle cx="167.7" cy="329.4" r="1.7"/><circle cx="167.8" cy="329.7" r="1.7"/><circle cx="168.7" cy="327.8" r="1.7"/><circle cx="169.2" cy="328.6" r="1.7"/><circle cx="170.7" cy="328.3" r="1.7"/><circle cx="170.0" cy="327.5" r="1.7"/><circle cx="170.9" cy="327.0" r="1.7"/><circle cx="172.4" cy="325.2" r="1.7"/><circle cx="173.2" cy="325.9" r="1.7"/><circle cx="172.1" cy="324.9" r="1.7"/><circle cx="174.5" cy="322.4" r="1.7"/><circle cx="175.1" cy="324.0" r="1.7"/><circle cx="175.8" cy="322.8" r="1.7"/><circle cx="177.0" cy="321.3" r="1.7"/><circle cx="177.9" cy="320.2" r="1.7"/><circle cx="177.2" cy="321.7" r="1.7"/></g>
<g fill="#F8766D" fill-opacity="0.75"><circle cx="181.6" cy="329.0" r="1.7"/></g>
<g fill="#619CFF" fill-opacity="0.75"><circle cx="182.2" cy="316.4" r="1.7"/><circle cx="183.1" cy="316.8" r="1.7"/><circle cx="183.0" cy="316.2" r="1.7"/><circle cx="184.1" cy="316.1" r="1.7"/><circle cx="184.3" cy="314.8" r="1.7"/><circle cx="184.6" cy="315.5" r="1.7"/><circle cx="185.1" cy="313.9" r="1.7"/><circle cx="185.3" cy="314.6" r="1.7"/></g>
<g fill="#F564E3" fill-opacity="0.75"><circle cx="183.0" cy="313.0" r="1.7"/></g>
<g fill="#F8766D" fill-opacity="0.75"><circle cx="187.5" cy="322.5" r="1.7"/><circle cx="187.6" cy="322.6" r="1.7"/><circle cx="187.8" cy="321.9" r="1.7"/><circle cx="188.4" cy="322.5" r="1.7"/><circle cx="188.6" cy="321.5" r="1.7"/><circle cx="189.4" cy="321.6" r="1.7"/><circle cx="188.8" cy="321.0" r="1.7"/><circle cx="189.6" cy="320.7" r="1.7"/><circle cx="190.7" cy="319.7" r="1.7"/><circle cx="190.2" cy="320.2" r="1.7"/><circle cx="189.9" cy="319.8" r="1.7"/><circle cx="190.6" cy="319.6" r="1.7"/><circle cx="191.4" cy="319.2" r="1.7"/></g>
<g fill="#619CFF" fill-opacity="0.75"><circle cx="187.0" cy="308.6" r="1.7"/></g>
<g fill="#00BA38" fill-opacity="0.75"><circle cx="189.7" cy="313.7" r="1.7"/><circle cx="191.0" cy="313.8" r="1.7"/><circle cx="190.5" cy="313.8" r="1.7"/><circle cx="191.1" cy="312.6" r="1.7"/><circle cx="191.9" cy="313.3" r="1.7"/><circle cx="192.0" cy="311.6" r="1.7"/><circle cx="191.4" cy="312.3" r="1.7"/><circle cx="191.6" cy="311.0" r="1.7"/><circle cx="192.6" cy="310.9" r="1.7"/><circle cx="193.7" cy="311.0" r="1.7"/><circle cx="193.9" cy="311.2" r="1.7"/><circle cx="193.1" cy="310.2" r="1.7"/><circle cx="193.6" cy="309.9" r="1.7"/><circle cx="193.3" cy="309.6" r="1.7"/><circle cx="194.2" cy="309.9" r="1.7"/><circle cx="194.6" cy="308.4" r="1.7"/></g>
<g fill="#F564E3" fill-opacity="0.75"><circle cx="197.6" cy="308.6" r="1.7"/></g>
<g fill="#F564E3" fill-opacity="0.75"><circle cx="190.0" cy="302.0" r="1.7"/></g>
<g fill="#00BFC4" fill-opacity="0.75"><circle cx="197.7" cy="299.3" r="1.7"/><circle cx="197.2" cy="298.8" r="1.7"/><circle cx="198.3" cy="298.3" r="1.7"/><circle cx="199.1" cy="298.2" r="1.7"/><circle cx="199.3" cy="298.2" r="1.7"/><circle cx="199.5" cy="297.6" r="1.7"/><circle cx="199.9" cy="297.4" r="1.7"/><circle cx="200.8" cy="296.8" r="1.7"/></g>
<g fill="#F8766D" fill-opacity="0.75"><circle cx="205.6" cy="299.4" r="1.7"/></g>
<g fill="#619CFF" fill-opacity="0.75"><circle cx="201.8" cy="303.9" r="1.7"/><circle cx="202.7" cy="304.9" r="1.7"/><circle cx="203.0" cy="303.7" r="1.7"/><circle cx="204.2" cy="304.0" r="1.7"/><circle cx="204.8" cy="304.1" r="1.7"/><circle cx="204.8" cy="303.9" r="1.7"/><circle cx="204.8" cy="303.7" r="1.7"/><circle cx="206.1" cy="303.5" r="1.7"/><circle cx="207.1" cy="303.2" r="1.7"/><circle cx="207.9" cy="302.5" r="1.7"/><circle cx="207.8" cy="303.5" r="1.7"/><circle cx="208.4" cy="302.6" r="1.7"/><circle cx="208.5" cy="301.6" r="1.7"/><circle cx="210.3" cy="302.0" r="1.7"/><circle cx="209.3" cy="302.1" r="1.7"/><circle cx="210.1" cy="301.2" r="1.7"/><circle cx="210.2" cy="301.4" r="1.7"/><circle cx="210.9" cy="301.5" r="1.7"/><circle cx="212.1" cy="300.9" r="1.7"/></g>
<g fill="#00BFC4" fill-opacity="0.75"><circle cx="203.9" cy="303.5" r="1.7"/><circle cx="204.2" cy="303.2" r="1.7"/><circle cx="204.6" cy="303.4" r="1.7"/><circle cx="204.5" cy="302.3" r="1.7"/><circle cx="205.0" cy="302.7" r="1.7"/><circle cx="205.9" cy="302.3" r="1.7"/></g>
<g fill="#B79F00" fill-opacity="0.75"><circle cx="214.9" cy="303.6" r="1.7"/><circle cx="217.8" cy="304.5" r="1.7"/><circle cx="217.6" cy="302.3" r="1.7"/><circle cx="217.6" cy="302.0" r="1.7"/><circle cx="215.3" cy="303.5" r="1.7"/><circle cx="216.5" cy="302.6" r="1.7"/><circle cx="215.9" cy="301.1" r="1.7"/><circle cx="217.3" cy="301.1" r="1.7"/><circle cx="216.9" cy="302.0" r="1.7"/><circle cx="218.2" cy="301.7" r="1.7"/><circle cx="217.6" cy="303.5" r="1.7"/><circle cx="216.2" cy="300.7" r="1.7"/><circle cx="218.5" cy="300.5" r="1.7"/><circle cx="217.4" cy="302.7" r="1.7"/><circle cx="218.2" cy="301.5" r="1.7"/><circle cx="217.4" cy="300.3" r="1.7"/><circle cx="218.1" cy="299.9" r="1.7"/><circle cx="219.2" cy="301.9" r="1.7"/><circle cx="218.6" cy="302.1" r="1.7"/></g>
<g fill="#619CFF" fill-opacity="0.75"><circle cx="214.0" cy="290.6" r="1.7"/></g>
<g fill="#F564E3" fill-opacity="0.75"><circle cx="211.0" cy="284.6" r="1.7"/></g>
<g fill="#B79F00" fill-opacity="0.75"><circle cx="221.3" cy="289.8" r="1.7"/><circle cx="220.9" cy="288.3" r="1.7"/><circle cx="220.8" cy="287.7" r="1.7"/><circle cx="221.0" cy="286.7" r="1.7"/><circle cx="220.9" cy="286.8" r="1.7"/></g>
<g fill="#00BFC4" fill-opacity="0.75"><circle cx="217.3" cy="294.2" r="1.7"/><circle cx="217.3" cy="293.9" r="1.7"/><circle cx="218.1" cy="293.6" r="1.7"/><circle cx="218.1" cy="294.0" r="1.7"/><circle cx="218.7" cy="293.5" r="1.7"/><circle cx="219.9" cy="293.0" r="1.7"/><circle cx="220.6" cy="293.0" r="1.7"/><circle cx="221.1" cy="293.5" r="1.7"/><circle cx="221.9" cy="293.2" r="1.7"/><circle cx="221.3" cy="293.4" r="1.7"/><circle cx="222.9" cy="292.1" r="1.7"/><circle cx="223.3" cy="292.1" r="1.7"/><circle cx="222.7" cy="292.5" r="1.7"/><circle cx="223.5" cy="292.3" r="1.7"/><circle cx="223.6" cy="292.3" r="1.7"/><circle cx="225.1" cy="291.5" r="1.7"/></g>
<g fill="#619CFF" fill-opacity="0.75"><circle cx="219.4" cy="284.9" r="1.7"/><circle cx="219.6" cy="284.3" r="1.7"/><circle cx="219.7" cy="284.8" r="1.7"/><circle cx="220.1" cy="283.9" r="1.7"/><circle cx="221.1" cy="283.7" r="1.7"/><circle cx="219.8" cy="284.4" r="1.7"/><circle cx="220.6" cy="283.6" r="1.7"/><circle cx="221.7" cy="283.4" r="1.7"/><circle cx="221.9" cy="282.9" r="1.7"/><circle cx="222.9" cy="283.5" r="1.7"/><circle cx="222.4" cy="283.8" r="1.7"/><circle cx="223.4" cy="284.3" r="1.7"/><circle cx="222.7" cy="283.0" r="1.7"/><circle cx="223.3" cy="283.0" r="1.7"/><circle cx="223.2" cy="282.2" r="1.7"/><circle cx="223.7" cy="281.7" r="1.7"/><circle cx="225.2" cy="281.1" r="1.7"/><circle cx="225.0" cy="281.2" r="1.7"/><circle cx="224.3" cy="282.5" r="1.7"/><circle cx="226.0" cy="280.6" r="1.7"/><circle cx="225.6" cy="282.3" r="1.7"/><circle cx="225.6" cy="282.5" r="1.7"/><circle cx="227.9" cy="279.7" r="1.7"/><circle cx="226.1" cy="280.5" r="1.7"/><circle cx="227.5" cy="280.5" r="1.7"/><circle cx="227.6" cy="280.4" r="1.7"/><circle cx="228.1" cy="280.1" r="1.7"/><circle cx="229.6" cy="280.5" r="1.7"/><circle cx="229.3" cy="279.3" r="1.7"/><circle cx="228.8" cy="280.3" r="1.7"/><circle cx="230.0" cy="280.7" r="1.7"/><circle cx="228.7" cy="279.6" r="1.7"/></g>
<g fill="#619CFF" fill-opacity="0.75"><circle cx="235.0" cy="279.5" r="1.7"/></g>
<g fill="#F564E3" fill-opacity="0.75"><circle cx="222.4" cy="280.2" r="1.7"/><circle cx="223.2" cy="281.4" r="1.7"/><circle cx="221.9" cy="279.6" r="1.7"/><circle cx="222.3" cy="280.2" r="1.7"/><circle cx="223.7" cy="279.6" r="1.7"/><circle cx="221.4" cy="281.0" r="1.7"/><circle cx="224.2" cy="278.2" r="1.7"/><circle cx="222.8" cy="280.2" r="1.7"/><circle cx="224.3" cy="279.6" r="1.7"/><circle cx="224.2" cy="278.2" r="1.7"/><circle cx="225.3" cy="280.2" r="1.7"/><circle cx="224.7" cy="278.1" r="1.7"/><circle cx="223.6" cy="278.2" r="1.7"/><circle cx="224.8" cy="279.3" r="1.7"/><circle cx="223.6" cy="276.9" r="1.7"/><circle cx="225.3" cy="277.6" r="1.7"/><circle cx="226.6" cy="276.5" r="1.7"/><circle cx="225.2" cy="277.5" r="1.7"/><circle cx="226.7" cy="278.2" r="1.7"/><circle cx="225.5" cy="275.9" r="1.7"/><circle cx="226.3" cy="277.5" r="1.7"/><circle cx="224.4" cy="277.2" r="1.7"/><circle cx="226.6" cy="277.0" r="1.7"/><circle cx="227.7" cy="276.7" r="1.7"/><circle cx="226.7" cy="276.0" r="1.7"/><circle cx="228.1" cy="276.1" r="1.7"/><circle cx="225.3" cy="276.0" r="1.7"/><circle cx="227.6" cy="275.0" r="1.7"/><circle cx="228.4" cy="274.9" r="1.7"/><circle cx="225.8" cy="276.0" r="1.7"/><circle cx="227.8" cy="276.1" r="1.7"/><circle cx="228.9" cy="274.5" r="1.7"/><circle cx="226.2" cy="276.0" r="1.7"/><circle cx="226.6" cy="274.1" r="1.7"/><circle cx="227.7" cy="275.3" r="1.7"/><circle cx="230.1" cy="273.4" r="1.7"/><circle cx="227.7" cy="272.1" r="1.7"/><circle cx="228.5" cy="272.3" r="1.7"/><circle cx="228.7" cy="273.8" r="1.7"/><circle cx="228.6" cy="272.8" r="1.7"/><circle cx="229.1" cy="273.8" r="1.7"/><circle cx="231.0" cy="272.3" r="1.7"/><circle cx="228.7" cy="273.2" r="1.7"/><circle cx="228.8" cy="271.9" r="1.7"/><circle cx="230.5" cy="272.7" r="1.7"/><circle cx="230.3" cy="272.1" r="1.7"/><circle cx="230.1" cy="271.3" r="1.7"/><circle cx="229.3" cy="271.7" r="1.7"/><circle cx="231.4" cy="269.5" r="1.7"/><circle cx="230.3" cy="270.7" r="1.7"/><circle cx="230.8" cy="271.2" r="1.7"/><circle cx="232.0" cy="270.6" r="1.7"/><circle cx="232.0" cy="270.2" r="1.7"/><circle cx="230.3" cy="270.8" r="1.7"/></g>
<g fill="#F8766D" fill-opacity="0.75"><circle cx="217.5" cy="278.2" r="1.7"/><circle cx="216.7" cy="278.4" r="1.7"/><circle cx="215.6" cy="276.7" r="1.7"/><circle cx="216.9" cy="277.1" r="1.7"/><circle cx="216.9" cy="278.2" r="1.7"/><circle cx="217.9" cy="278.3" r="1.7"/><circle cx="218.3" cy="277.8" r="1.7"/><circle cx="218.1" cy="275.8" r="1.7"/><circle cx="217.4" cy="275.9" r="1.7"/><circle cx="218.9" cy="277.0" r="1.7"/><circle cx="217.6" cy="275.6" r="1.7"/><circle cx="217.6" cy="276.1" r="1.7"/><circle cx="219.9" cy="275.8" r="1.7"/><circle cx="219.1" cy="274.9" r="1.7"/><circle cx="219.2" cy="274.7" r="1.7"/><circle cx="220.2" cy="275.2" r="1.7"/><circle cx="221.0" cy="276.1" r="1.7"/><circle cx="221.0" cy="275.0" r="1.7"/><circle cx="221.0" cy="273.3" r="1.7"/><circle cx="220.8" cy="273.3" r="1.7"/><circle cx="220.1" cy="275.3" r="1.7"/><circle cx="221.5" cy="273.6" r="1.7"/><circle cx="220.3" cy="274.7" r="1.7"/><circle cx="222.5" cy="273.2" r="1.7"/><circle cx="221.9" cy="272.9" r="1.7"/><circle cx="222.6" cy="272.5" r="1.7"/></g>
<g fill="#00BA38" fill-opacity="0.75"><circle cx="221.8" cy="273.9" r="1.7"/><circle cx="221.7" cy="273.0" r="1.7"/><circle cx="222.5" cy="273.9" r="1.7"/><circle cx="222.2" cy="273.5" r="1.7"/><circle cx="223.2" cy="272.0" r="1.7"/><circle cx="223.3" cy="271.7" r="1.7"/><circle cx="223.0" cy="271.4" r="1.7"/><circle cx="224.3" cy="271.1" r="1.7"/><circle cx="223.8" cy="271.1" r="1.7"/><circle cx="224.3" cy="270.6" r="1.7"/><circle cx="225.5" cy="269.9" r="1.7"/></g>
<g fill="#00BFC4" fill-opacity="0.75"><circle cx="220.2" cy="272.1" r="1.7"/><circle cx="221.0" cy="271.4" r="1.7"/><circle cx="221.5" cy="271.0" r="1.7"/><circle cx="222.4" cy="270.1" r="1.7"/><circle cx="222.6" cy="269.7" r="1.7"/><circle cx="223.3" cy="269.4" r="1.7"/></g>
<g fill="#00BA38" fill-opacity="0.75"><circle cx="213.0" cy="278.5" r="1.7"/></g>
<g fill="#00BA38" fill-opacity="0.75"><circle cx="220.5" cy="281.0" r="1.7"/></g>
<g fill="#F564E3" fill-opacity="0.75"><circle cx="214.0" cy="277.5" r="1.7"/></g>
<g fill="#619CFF" fill-opacity="0.75"><circle cx="226.5" cy="267.7" r="1.7"/><circle cx="226.5" cy="267.0" r="1.7"/><circle cx="226.6" cy="267.2" r="1.7"/><circle cx="226.9" cy="267.2" r="1.7"/><circle cx="227.6" cy="266.7" r="1.7"/><circle cx="228.1" cy="266.1" r="1.7"/></g>
<g fill="#00BFC4" fill-opacity="0.75"><circle cx="217.4" cy="265.4" r="1.7"/><circle cx="217.2" cy="264.1" r="1.7"/><circle cx="218.5" cy="264.8" r="1.7"/><circle cx="218.5" cy="264.8" r="1.7"/><circle cx="219.5" cy="264.6" r="1.7"/><circle cx="220.3" cy="263.7" r="1.7"/><circle cx="221.1" cy="263.4" r="1.7"/><circle cx="221.3" cy="264.0" r="1.7"/><circle cx="222.0" cy="263.9" r="1.7"/><circle cx="221.7" cy="264.6" r="1.7"/><circle cx="222.8" cy="263.4" r="1.7"/><circle cx="223.3" cy="263.2" r="1.7"/><circle cx="223.1" cy="263.8" r="1.7"/><circle cx="224.0" cy="262.5" r="1.7"/><circle cx="224.3" cy="262.5" r="1.7"/><circle cx="224.4" cy="262.9" r="1.7"/></g>
<g fill="#00BA38" fill-opacity="0.75"><circle cx="222.9" cy="265.9" r="1.7"/><circle cx="222.8" cy="263.8" r="1.7"/><circle cx="224.0" cy="265.3" r="1.7"/><circle cx="223.2" cy="264.1" r="1.7"/><circle cx="224.2" cy="263.2" r="1.7"/><circle cx="224.4" cy="263.8" r="1.7"/><circle cx="224.5" cy="263.0" r="1.7"/><circle cx="224.1" cy="262.8" r="1.7"/><circle cx="224.6" cy="262.2" r="1.7"/><circle cx="225.6" cy="262.1" r="1.7"/><circle cx="225.5" cy="262.6" r="1.7"/><circle cx="226.7" cy="262.3" r="1.7"/><circle cx="226.0" cy="262.0" r="1.7"/><circle cx="226.4" cy="261.2" r="1.7"/></g>
<g fill="#F564E3" fill-opacity="0.75"><circle cx="227.2" cy="265.8" r="1.7"/><circle cx="227.4" cy="265.4" r="1.7"/><circle cx="228.3" cy="264.5" r="1.7"/><circle cx="228.7" cy="264.5" r="1.7"/><circle cx="227.7" cy="264.6" r="1.7"/><circle cx="229.1" cy="264.1" r="1.7"/><circle cx="228.9" cy="264.5" r="1.7"/><circle cx="230.1" cy="263.4" r="1.7"/><circle cx="228.8" cy="263.5" r="1.7"/><circle cx="230.1" cy="262.7" r="1.7"/><circle cx="229.5" cy="263.1" r="1.7"/><circle cx="229.7" cy="262.8" r="1.7"/><circle cx="230.3" cy="263.6" r="1.7"/><circle cx="230.6" cy="262.9" r="1.7"/></g>
<line x1="162.0" y1="344.1" x2="234.9" y2="261.0" stroke="#000" stroke-width="1.5"/>
<line x1="157.5" y1="345.0" x2="243.5" y2="252.0" stroke="#000" stroke-width="1.5" stroke-dasharray="6 6"/>
<text x="241.4" y="339.4" font-size="10.4" fill="#1c1c1c" text-anchor="end" textLength="57.4" lengthAdjust="spacingAndGlyphs">RMSE: 0.023</text>
</g>
<rect x="153.8" y="247.2" width="94.4" height="101.9" fill="none" stroke="#333" stroke-width="0.9"/>
</g>
<g>
<clipPath id="cp22"><rect x="256.9" y="247.2" width="94.4" height="101.9"/></clipPath>
<rect x="256.9" y="247.2" width="94.4" height="101.9" fill="#fff"/>
<g clip-path="url(#cp22)">
<line x1="269.2" x2="269.2" y1="247.2" y2="349.1" stroke="#F7F7F7" stroke-width="0.5"/>
<line y1="335.7" y2="335.7" x1="256.9" x2="351.29999999999995" stroke="#F7F7F7" stroke-width="0.5"/>
<line x1="286.4" x2="286.4" y1="247.2" y2="349.1" stroke="#F7F7F7" stroke-width="0.5"/>
<line y1="317.1" y2="317.1" x1="256.9" x2="351.29999999999995" stroke="#F7F7F7" stroke-width="0.5"/>
<line x1="303.6" x2="303.6" y1="247.2" y2="349.1" stroke="#F7F7F7" stroke-width="0.5"/>
<line y1="298.5" y2="298.5" x1="256.9" x2="351.29999999999995" stroke="#F7F7F7" stroke-width="0.5"/>
<line x1="320.8" x2="320.8" y1="247.2" y2="349.1" stroke="#F7F7F7" stroke-width="0.5"/>
<line y1="279.9" y2="279.9" x1="256.9" x2="351.29999999999995" stroke="#F7F7F7" stroke-width="0.5"/>
<line x1="338.0" x2="338.0" y1="247.2" y2="349.1" stroke="#F7F7F7" stroke-width="0.5"/>
<line y1="261.3" y2="261.3" x1="256.9" x2="351.29999999999995" stroke="#F7F7F7" stroke-width="0.5"/>
<line x1="260.6" x2="260.6" y1="247.2" y2="349.1" stroke="#E2E2E2" stroke-width="1.1"/>
<line y1="345.0" y2="345.0" x1="256.9" x2="351.29999999999995" stroke="#E2E2E2" stroke-width="1.1"/>
<line x1="277.8" x2="277.8" y1="247.2" y2="349.1" stroke="#E2E2E2" stroke-width="1.1"/>
<line y1="326.4" y2="326.4" x1="256.9" x2="351.29999999999995" stroke="#E2E2E2" stroke-width="1.1"/>
<line x1="295.0" x2="295.0" y1="247.2" y2="349.1" stroke="#E2E2E2" stroke-width="1.1"/>
<line y1="307.8" y2="307.8" x1="256.9" x2="351.29999999999995" stroke="#E2E2E2" stroke-width="1.1"/>
<line x1="312.2" x2="312.2" y1="247.2" y2="349.1" stroke="#E2E2E2" stroke-width="1.1"/>
<line y1="289.2" y2="289.2" x1="256.9" x2="351.29999999999995" stroke="#E2E2E2" stroke-width="1.1"/>
<line x1="329.4" x2="329.4" y1="247.2" y2="349.1" stroke="#E2E2E2" stroke-width="1.1"/>
<line y1="270.6" y2="270.6" x1="256.9" x2="351.29999999999995" stroke="#E2E2E2" stroke-width="1.1"/>
<line x1="346.6" x2="346.6" y1="247.2" y2="349.1" stroke="#E2E2E2" stroke-width="1.1"/>
<line y1="252.0" y2="252.0" x1="256.9" x2="351.29999999999995" stroke="#E2E2E2" stroke-width="1.1"/>
<g fill="#F8766D" fill-opacity="0.75"><circle cx="266.2" cy="343.1" r="1.7"/><circle cx="265.6" cy="342.5" r="1.7"/><circle cx="265.9" cy="342.4" r="1.7"/><circle cx="268.4" cy="342.1" r="1.7"/><circle cx="266.3" cy="341.4" r="1.7"/><circle cx="267.3" cy="342.3" r="1.7"/><circle cx="268.7" cy="341.3" r="1.7"/><circle cx="269.8" cy="342.4" r="1.7"/><circle cx="269.9" cy="340.8" r="1.7"/><circle cx="268.8" cy="341.1" r="1.7"/><circle cx="270.3" cy="341.4" r="1.7"/><circle cx="269.0" cy="340.0" r="1.7"/><circle cx="270.2" cy="339.2" r="1.7"/><circle cx="269.2" cy="340.0" r="1.7"/><circle cx="271.4" cy="338.7" r="1.7"/><circle cx="270.1" cy="339.1" r="1.7"/><circle cx="270.9" cy="339.9" r="1.7"/><circle cx="269.6" cy="339.4" r="1.7"/><circle cx="269.0" cy="338.0" r="1.7"/><circle cx="269.8" cy="338.1" r="1.7"/><circle cx="270.7" cy="337.7" r="1.7"/><circle cx="269.9" cy="338.3" r="1.7"/><circle cx="270.1" cy="337.6" r="1.7"/><circle cx="270.3" cy="337.5" r="1.7"/><circle cx="270.4" cy="335.9" r="1.7"/><circle cx="271.9" cy="336.8" r="1.7"/><circle cx="272.0" cy="337.5" r="1.7"/><circle cx="271.9" cy="337.2" r="1.7"/><circle cx="271.3" cy="337.2" r="1.7"/><circle cx="273.5" cy="336.5" r="1.7"/><circle cx="273.0" cy="335.9" r="1.7"/><circle cx="273.2" cy="335.7" r="1.7"/><circle cx="273.9" cy="335.8" r="1.7"/><circle cx="272.9" cy="334.3" r="1.7"/><circle cx="272.9" cy="336.0" r="1.7"/><circle cx="273.7" cy="334.6" r="1.7"/><circle cx="274.4" cy="335.5" r="1.7"/><circle cx="273.3" cy="334.4" r="1.7"/><circle cx="274.7" cy="334.9" r="1.7"/><circle cx="274.3" cy="333.1" r="1.7"/><circle cx="275.4" cy="333.7" r="1.7"/><circle cx="274.9" cy="332.4" r="1.7"/></g>
<g fill="#00BFC4" fill-opacity="0.75"><circle cx="272.9" cy="334.7" r="1.7"/><circle cx="271.5" cy="334.2" r="1.7"/><circle cx="272.6" cy="334.1" r="1.7"/><circle cx="272.7" cy="333.1" r="1.7"/><circle cx="273.1" cy="332.9" r="1.7"/><circle cx="272.6" cy="331.6" r="1.7"/><circle cx="273.6" cy="332.1" r="1.7"/><circle cx="272.9" cy="331.5" r="1.7"/><circle cx="274.8" cy="330.8" r="1.7"/><circle cx="273.9" cy="330.0" r="1.7"/><circle cx="275.6" cy="329.4" r="1.7"/><circle cx="274.4" cy="328.3" r="1.7"/><circle cx="276.0" cy="328.5" r="1.7"/><circle cx="274.9" cy="327.6" r="1.7"/><circle cx="276.0" cy="327.7" r="1.7"/><circle cx="276.1" cy="325.9" r="1.7"/><circle cx="276.3" cy="326.0" r="1.7"/><circle cx="276.8" cy="326.4" r="1.7"/><circle cx="277.4" cy="325.1" r="1.7"/></g>
<g fill="#619CFF" fill-opacity="0.75"><circle cx="274.6" cy="334.3" r="1.7"/><circle cx="274.7" cy="334.0" r="1.7"/><circle cx="275.2" cy="333.8" r="1.7"/><circle cx="275.9" cy="332.8" r="1.7"/><circle cx="276.1" cy="332.5" r="1.7"/><circle cx="276.5" cy="332.6" r="1.7"/></g>
<g fill="#B79F00" fill-opacity="0.75"><circle cx="276.5" cy="330.7" r="1.7"/><circle cx="276.2" cy="330.4" r="1.7"/><circle cx="277.5" cy="330.9" r="1.7"/><circle cx="278.3" cy="329.6" r="1.7"/><circle cx="278.1" cy="329.2" r="1.7"/><circle cx="278.3" cy="330.1" r="1.7"/><circle cx="279.8" cy="328.6" r="1.7"/><circle cx="279.2" cy="328.7" r="1.7"/><circle cx="279.1" cy="327.9" r="1.7"/><circle cx="279.9" cy="327.3" r="1.7"/><circle cx="280.4" cy="328.2" r="1.7"/><circle cx="281.1" cy="327.9" r="1.7"/><circle cx="281.2" cy="326.4" r="1.7"/><circle cx="281.8" cy="326.3" r="1.7"/><circle cx="282.0" cy="326.8" r="1.7"/><circle cx="283.4" cy="325.9" r="1.7"/></g>
<g fill="#00BA38" fill-opacity="0.75"><circle cx="274.9" cy="326.9" r="1.7"/><circle cx="275.5" cy="326.6" r="1.7"/><circle cx="276.2" cy="326.0" r="1.7"/><circle cx="276.4" cy="325.2" r="1.7"/><circle cx="276.8" cy="324.9" r="1.7"/><circle cx="277.1" cy="325.2" r="1.7"/><circle cx="277.9" cy="324.9" r="1.7"/><circle cx="278.4" cy="323.6" r="1.7"/><circle cx="278.3" cy="323.8" r="1.7"/><circle cx="278.7" cy="323.1" r="1.7"/></g>
<g fill="#619CFF" fill-opacity="0.75"><circle cx="273.1" cy="324.5" r="1.7"/><circle cx="274.0" cy="323.1" r="1.7"/><circle cx="273.6" cy="322.6" r="1.7"/><circle cx="274.4" cy="321.9" r="1.7"/><circle cx="275.1" cy="322.0" r="1.7"/><circle cx="274.3" cy="321.5" r="1.7"/><circle cx="275.5" cy="320.8" r="1.7"/><circle cx="276.3" cy="320.0" r="1.7"/></g>
<g fill="#00BFC4" fill-opacity="0.75"><circle cx="280.3" cy="321.1" r="1.7"/><circle cx="281.2" cy="320.3" r="1.7"/><circle cx="281.3" cy="319.9" r="1.7"/><circle cx="281.2" cy="319.1" r="1.7"/><circle cx="281.4" cy="318.6" r="1.7"/></g>
<g fill="#F8766D" fill-opacity="0.75"><circle cx="269.0" cy="317.0" r="1.7"/></g>
<g fill="#F8766D" fill-opacity="0.75"><circle cx="268.6" cy="321.4" r="1.7"/></g>
<g fill="#B79F00" fill-opacity="0.75"><circle cx="270.6" cy="314.6" r="1.7"/></g>
<g fill="#00BA38" fill-opacity="0.75"><circle cx="271.0" cy="310.0" r="1.7"/></g>
<g fill="#00BA38" fill-opacity="0.75"><circle cx="281.0" cy="317.7" r="1.7"/><circle cx="282.3" cy="316.9" r="1.7"/><circle cx="281.4" cy="317.9" r="1.7"/><circle cx="282.2" cy="316.0" r="1.7"/><circle cx="282.7" cy="316.2" r="1.7"/><circle cx="282.5" cy="317.0" r="1.7"/><circle cx="284.2" cy="315.2" r="1.7"/><circle cx="284.6" cy="315.8" r="1.7"/><circle cx="283.9" cy="315.2" r="1.7"/><circle cx="285.8" cy="314.5" r="1.7"/><circle cx="285.9" cy="314.8" r="1.7"/></g>
<g fill="#F8766D" fill-opacity="0.75"><circle cx="291.1" cy="317.9" r="1.7"/><circle cx="291.2" cy="317.7" r="1.7"/><circle cx="291.4" cy="317.9" r="1.7"/><circle cx="292.5" cy="316.1" r="1.7"/><circle cx="291.2" cy="316.5" r="1.7"/><circle cx="292.6" cy="316.2" r="1.7"/><circle cx="292.6" cy="315.3" r="1.7"/><circle cx="292.7" cy="316.1" r="1.7"/><circle cx="293.4" cy="315.3" r="1.7"/><circle cx="292.6" cy="314.7" r="1.7"/><circle cx="294.3" cy="315.3" r="1.7"/><circle cx="293.2" cy="313.9" r="1.7"/><circle cx="293.3" cy="314.1" r="1.7"/></g>
<g fill="#F8766D" fill-opacity="0.75"><circle cx="300.6" cy="313.6" r="1.7"/></g>
<g fill="#00BFC4" fill-opacity="0.75"><circle cx="287.0" cy="307.0" r="1.7"/></g>
<g fill="#00BA38" fill-opacity="0.75"><circle cx="289.0" cy="308.0" r="1.7"/></g>
<g fill="#619CFF" fill-opacity="0.75"><circle cx="290.0" cy="303.0" r="1.7"/></g>
<g fill="#00BA38" fill-opacity="0.75"><circle cx="293.8" cy="304.9" r="1.7"/><circle cx="293.6" cy="304.3" r="1.7"/><circle cx="294.1" cy="304.8" r="1.7"/><circle cx="294.8" cy="304.5" r="1.7"/><circle cx="294.4" cy="303.6" r="1.7"/><circle cx="294.7" cy="303.1" r="1.7"/><circle cx="295.7" cy="304.2" r="1.7"/><circle cx="295.2" cy="302.9" r="1.7"/><circle cx="295.5" cy="302.4" r="1.7"/><circle cx="296.4" cy="302.1" r="1.7"/><circle cx="295.7" cy="302.2" r="1.7"/><circle cx="296.4" cy="302.4" r="1.7"/><circle cx="297.1" cy="301.4" r="1.7"/><circle cx="297.5" cy="300.5" r="1.7"/><circle cx="297.4" cy="300.9" r="1.7"/><circle cx="298.7" cy="300.5" r="1.7"/><circle cx="298.5" cy="301.0" r="1.7"/><circle cx="298.5" cy="300.7" r="1.7"/><circle cx="299.1" cy="300.2" r="1.7"/></g>
<g fill="#00BA38" fill-opacity="0.75"><circle cx="307.0" cy="299.4" r="1.7"/></g>
<g fill="#00BA38" fill-opacity="0.75"><circle cx="301.4" cy="296.6" r="1.7"/></g>
<g fill="#619CFF" fill-opacity="0.75"><circle cx="300.4" cy="294.0" r="1.7"/></g>
<g fill="#619CFF" fill-opacity="0.75"><circle cx="304.5" cy="295.8" r="1.7"/><circle cx="305.1" cy="295.1" r="1.7"/><circle cx="306.4" cy="294.5" r="1.7"/><circle cx="306.3" cy="293.7" r="1.7"/><circle cx="306.2" cy="294.6" r="1.7"/><circle cx="307.2" cy="294.4" r="1.7"/><circle cx="308.4" cy="294.7" r="1.7"/><circle cx="308.4" cy="294.2" r="1.7"/><circle cx="308.5" cy="293.8" r="1.7"/><circle cx="308.7" cy="293.0" r="1.7"/><circle cx="310.0" cy="293.3" r="1.7"/><circle cx="309.4" cy="293.0" r="1.7"/><circle cx="310.3" cy="293.4" r="1.7"/><circle cx="310.4" cy="292.0" r="1.7"/><circle cx="311.3" cy="293.3" r="1.7"/><circle cx="310.9" cy="293.2" r="1.7"/><circle cx="312.0" cy="292.1" r="1.7"/><circle cx="312.2" cy="291.9" r="1.7"/><circle cx="312.7" cy="292.2" r="1.7"/></g>
<g fill="#F8766D" fill-opacity="0.75"><circle cx="308.6" cy="290.0" r="1.7"/></g>
<g fill="#00BFC4" fill-opacity="0.75"><circle cx="310.0" cy="287.0" r="1.7"/></g>
<g fill="#00BFC4" fill-opacity="0.75"><circle cx="294.0" cy="281.6" r="1.7"/></g>
<g fill="#00BFC4" fill-opacity="0.75"><circle cx="293.4" cy="284.4" r="1.7"/></g>
<g fill="#00BFC4" fill-opacity="0.75"><circle cx="299.7" cy="282.4" r="1.7"/><circle cx="301.0" cy="282.2" r="1.7"/><circle cx="301.3" cy="281.9" r="1.7"/><circle cx="301.5" cy="282.3" r="1.7"/><circle cx="301.8" cy="282.2" r="1.7"/><circle cx="301.7" cy="281.6" r="1.7"/><circle cx="302.7" cy="281.7" r="1.7"/><circle cx="302.9" cy="281.3" r="1.7"/></g>
<g fill="#619CFF" fill-opacity="0.75"><circle cx="313.5" cy="281.5" r="1.7"/></g>
<g fill="#00BFC4" fill-opacity="0.75"><circle cx="313.0" cy="278.5" r="1.7"/></g>
<g fill="#619CFF" fill-opacity="0.75"><circle cx="316.0" cy="280.0" r="1.7"/></g>
<g fill="#619CFF" fill-opacity="0.75"><circle cx="321.8" cy="286.5" r="1.7"/><circle cx="323.2" cy="284.9" r="1.7"/><circle cx="322.3" cy="285.7" r="1.7"/><circle cx="323.1" cy="285.3" r="1.7"/><circle cx="322.4" cy="287.3" r="1.7"/><circle cx="324.0" cy="286.6" r="1.7"/><circle cx="323.3" cy="285.8" r="1.7"/><circle cx="324.5" cy="285.8" r="1.7"/><circle cx="324.1" cy="285.9" r="1.7"/><circle cx="323.4" cy="286.1" r="1.7"/><circle cx="322.9" cy="287.1" r="1.7"/><circle cx="323.8" cy="285.0" r="1.7"/><circle cx="325.7" cy="286.1" r="1.7"/><circle cx="323.7" cy="285.1" r="1.7"/><circle cx="325.5" cy="285.6" r="1.7"/><circle cx="326.8" cy="284.5" r="1.7"/><circle cx="324.9" cy="284.9" r="1.7"/><circle cx="325.1" cy="285.3" r="1.7"/><circle cx="325.2" cy="284.9" r="1.7"/><circle cx="325.9" cy="285.0" r="1.7"/><circle cx="326.4" cy="285.3" r="1.7"/><circle cx="326.1" cy="285.6" r="1.7"/><circle cx="328.4" cy="285.6" r="1.7"/><circle cx="327.1" cy="283.0" r="1.7"/><circle cx="327.5" cy="284.6" r="1.7"/><circle cx="326.6" cy="284.3" r="1.7"/><circle cx="328.5" cy="284.8" r="1.7"/><circle cx="328.4" cy="283.5" r="1.7"/><circle cx="327.3" cy="284.5" r="1.7"/><circle cx="328.5" cy="284.4" r="1.7"/><circle cx="329.6" cy="285.0" r="1.7"/><circle cx="329.1" cy="284.4" r="1.7"/><circle cx="329.6" cy="282.9" r="1.7"/><circle cx="330.6" cy="284.4" r="1.7"/><circle cx="328.7" cy="282.7" r="1.7"/><circle cx="331.1" cy="284.1" r="1.7"/><circle cx="329.7" cy="283.5" r="1.7"/><circle cx="331.9" cy="284.2" r="1.7"/></g>
<g fill="#619CFF" fill-opacity="0.75"><circle cx="328.9" cy="280.2" r="1.7"/><circle cx="330.0" cy="280.2" r="1.7"/><circle cx="329.8" cy="279.8" r="1.7"/><circle cx="330.8" cy="280.2" r="1.7"/><circle cx="330.4" cy="280.2" r="1.7"/><circle cx="331.7" cy="280.8" r="1.7"/><circle cx="331.8" cy="279.6" r="1.7"/><circle cx="331.7" cy="280.2" r="1.7"/><circle cx="331.9" cy="279.1" r="1.7"/><circle cx="332.4" cy="279.6" r="1.7"/><circle cx="332.7" cy="280.1" r="1.7"/><circle cx="334.2" cy="279.5" r="1.7"/><circle cx="334.1" cy="279.1" r="1.7"/><circle cx="334.8" cy="278.9" r="1.7"/></g>
<g fill="#619CFF" fill-opacity="0.75"><circle cx="338.0" cy="280.5" r="1.7"/></g>
<g fill="#F8766D" fill-opacity="0.75"><circle cx="319.6" cy="275.5" r="1.7"/><circle cx="319.7" cy="277.3" r="1.7"/><circle cx="318.8" cy="276.6" r="1.7"/><circle cx="318.7" cy="277.2" r="1.7"/><circle cx="320.7" cy="275.1" r="1.7"/><circle cx="320.8" cy="273.9" r="1.7"/><circle cx="319.9" cy="273.7" r="1.7"/><circle cx="319.9" cy="275.5" r="1.7"/><circle cx="320.3" cy="274.4" r="1.7"/><circle cx="321.8" cy="275.4" r="1.7"/><circle cx="319.4" cy="274.1" r="1.7"/><circle cx="320.9" cy="275.9" r="1.7"/><circle cx="321.4" cy="275.2" r="1.7"/><circle cx="321.1" cy="273.4" r="1.7"/><circle cx="323.1" cy="273.7" r="1.7"/><circle cx="322.0" cy="274.4" r="1.7"/><circle cx="320.9" cy="273.1" r="1.7"/><circle cx="319.7" cy="274.0" r="1.7"/><circle cx="321.9" cy="274.6" r="1.7"/><circle cx="322.6" cy="273.3" r="1.7"/><circle cx="322.4" cy="274.3" r="1.7"/><circle cx="321.2" cy="274.0" r="1.7"/><circle cx="322.2" cy="274.3" r="1.7"/><circle cx="322.5" cy="273.6" r="1.7"/><circle cx="324.2" cy="273.2" r="1.7"/><circle cx="322.8" cy="272.2" r="1.7"/><circle cx="321.9" cy="271.9" r="1.7"/><circle cx="323.2" cy="273.2" r="1.7"/><circle cx="323.4" cy="272.4" r="1.7"/><circle cx="323.5" cy="273.0" r="1.7"/><circle cx="324.5" cy="272.4" r="1.7"/><circle cx="322.4" cy="272.5" r="1.7"/><circle cx="322.8" cy="271.1" r="1.7"/><circle cx="324.1" cy="272.5" r="1.7"/><circle cx="324.0" cy="272.4" r="1.7"/><circle cx="322.9" cy="272.6" r="1.7"/><circle cx="323.2" cy="273.0" r="1.7"/><circle cx="323.4" cy="270.9" r="1.7"/><circle cx="323.8" cy="270.6" r="1.7"/><circle cx="324.5" cy="270.7" r="1.7"/><circle cx="324.6" cy="271.1" r="1.7"/><circle cx="325.1" cy="271.1" r="1.7"/><circle cx="324.7" cy="271.9" r="1.7"/><circle cx="324.8" cy="272.4" r="1.7"/><circle cx="322.9" cy="269.0" r="1.7"/><circle cx="324.7" cy="269.7" r="1.7"/><circle cx="323.2" cy="271.2" r="1.7"/><circle cx="323.7" cy="271.0" r="1.7"/><circle cx="324.0" cy="271.7" r="1.7"/><circle cx="325.9" cy="269.4" r="1.7"/><circle cx="325.3" cy="270.0" r="1.7"/></g>
<g fill="#F8766D" fill-opacity="0.75"><circle cx="326.9" cy="271.6" r="1.7"/><circle cx="328.2" cy="270.5" r="1.7"/><circle cx="327.9" cy="269.9" r="1.7"/><circle cx="327.3" cy="270.1" r="1.7"/><circle cx="328.7" cy="269.2" r="1.7"/><circle cx="329.2" cy="270.0" r="1.7"/><circle cx="329.3" cy="270.9" r="1.7"/><circle cx="328.8" cy="270.0" r="1.7"/><circle cx="328.1" cy="270.3" r="1.7"/><circle cx="329.1" cy="268.9" r="1.7"/><circle cx="330.0" cy="269.5" r="1.7"/><circle cx="329.4" cy="268.8" r="1.7"/><circle cx="330.9" cy="268.0" r="1.7"/><circle cx="330.1" cy="269.0" r="1.7"/><circle cx="331.8" cy="268.3" r="1.7"/><circle cx="330.8" cy="267.8" r="1.7"/></g>
<g fill="#00BA38" fill-opacity="0.75"><circle cx="316.0" cy="276.7" r="1.7"/></g>
<g fill="#00BA38" fill-opacity="0.75"><circle cx="326.6" cy="279.1" r="1.7"/><circle cx="326.3" cy="278.5" r="1.7"/><circle cx="326.5" cy="278.5" r="1.7"/><circle cx="327.5" cy="279.4" r="1.7"/><circle cx="327.0" cy="278.8" r="1.7"/><circle cx="327.5" cy="278.2" r="1.7"/><circle cx="327.2" cy="278.2" r="1.7"/><circle cx="328.8" cy="277.9" r="1.7"/><circle cx="328.5" cy="277.7" r="1.7"/><circle cx="329.0" cy="278.0" r="1.7"/><circle cx="329.2" cy="277.1" r="1.7"/><circle cx="328.7" cy="277.3" r="1.7"/><circle cx="329.9" cy="277.3" r="1.7"/></g>
<g fill="#00BFC4" fill-opacity="0.75"><circle cx="330.1" cy="277.9" r="1.7"/><circle cx="331.1" cy="277.3" r="1.7"/><circle cx="331.0" cy="278.0" r="1.7"/><circle cx="331.9" cy="277.1" r="1.7"/><circle cx="331.7" cy="276.9" r="1.7"/><circle cx="331.5" cy="276.6" r="1.7"/><circle cx="332.6" cy="277.4" r="1.7"/><circle cx="332.4" cy="276.5" r="1.7"/><circle cx="332.3" cy="276.3" r="1.7"/><circle cx="334.3" cy="276.0" r="1.7"/><circle cx="333.4" cy="275.8" r="1.7"/><circle cx="335.1" cy="275.6" r="1.7"/><circle cx="334.4" cy="275.3" r="1.7"/><circle cx="335.4" cy="275.3" r="1.7"/><circle cx="335.3" cy="275.5" r="1.7"/><circle cx="336.1" cy="274.7" r="1.7"/></g>
<g fill="#B79F00" fill-opacity="0.75"><circle cx="317.5" cy="272.5" r="1.7"/></g>
<g fill="#B79F00" fill-opacity="0.75"><circle cx="318.2" cy="281.9" r="1.7"/><circle cx="319.0" cy="281.6" r="1.7"/><circle cx="319.2" cy="281.7" r="1.7"/><circle cx="319.9" cy="280.9" r="1.7"/><circle cx="319.3" cy="281.3" r="1.7"/><circle cx="319.7" cy="281.3" r="1.7"/><circle cx="319.9" cy="280.8" r="1.7"/><circle cx="321.0" cy="280.4" r="1.7"/></g>
<g fill="#B79F00" fill-opacity="0.75"><circle cx="326.4" cy="272.8" r="1.7"/><circle cx="327.3" cy="272.3" r="1.7"/><circle cx="327.5" cy="272.4" r="1.7"/><circle cx="327.8" cy="272.5" r="1.7"/><circle cx="328.2" cy="271.5" r="1.7"/><circle cx="328.8" cy="272.1" r="1.7"/><circle cx="329.1" cy="271.0" r="1.7"/><circle cx="329.4" cy="271.1" r="1.7"/><circle cx="330.7" cy="271.1" r="1.7"/><circle cx="330.5" cy="270.7" r="1.7"/><circle cx="331.0" cy="270.3" r="1.7"/></g>
<line x1="266.4" y1="344.1" x2="337.4" y2="265.0" stroke="#000" stroke-width="1.5"/>
<line x1="260.6" y1="345.0" x2="346.6" y2="252.0" stroke="#000" stroke-width="1.5" stroke-dasharray="6 6"/>
<text x="344.5" y="339.4" font-size="10.4" fill="#1c1c1c" text-anchor="end" textLength="57.4" lengthAdjust="spacingAndGlyphs">RMSE: 0.018</text>
</g>
<rect x="256.9" y="247.2" width="94.4" height="101.9" fill="none" stroke="#333" stroke-width="0.9"/>
</g>
<g>
<clipPath id="cp23"><rect x="359.7" y="247.2" width="94.4" height="101.9"/></clipPath>
<rect x="359.7" y="247.2" width="94.4" height="101.9" fill="#fff"/>
<g clip-path="url(#cp23)">
<line x1="372.0" x2="372.0" y1="247.2" y2="349.1" stroke="#F7F7F7" stroke-width="0.5"/>
<line y1="335.7" y2="335.7" x1="359.7" x2="454.1" stroke="#F7F7F7" stroke-width="0.5"/>
<line x1="389.2" x2="389.2" y1="247.2" y2="349.1" stroke="#F7F7F7" stroke-width="0.5"/>
<line y1="317.1" y2="317.1" x1="359.7" x2="454.1" stroke="#F7F7F7" stroke-width="0.5"/>
<line x1="406.4" x2="406.4" y1="247.2" y2="349.1" stroke="#F7F7F7" stroke-width="0.5"/>
<line y1="298.5" y2="298.5" x1="359.7" x2="454.1" stroke="#F7F7F7" stroke-width="0.5"/>
<line x1="423.6" x2="423.6" y1="247.2" y2="349.1" stroke="#F7F7F7" stroke-width="0.5"/>
<line y1="279.9" y2="279.9" x1="359.7" x2="454.1" stroke="#F7F7F7" stroke-width="0.5"/>
<line x1="440.8" x2="440.8" y1="247.2" y2="349.1" stroke="#F7F7F7" stroke-width="0.5"/>
<line y1="261.3" y2="261.3" x1="359.7" x2="454.1" stroke="#F7F7F7" stroke-width="0.5"/>
<line x1="363.4" x2="363.4" y1="247.2" y2="349.1" stroke="#E2E2E2" stroke-width="1.1"/>
<line y1="345.0" y2="345.0" x1="359.7" x2="454.1" stroke="#E2E2E2" stroke-width="1.1"/>
<line x1="380.6" x2="380.6" y1="247.2" y2="349.1" stroke="#E2E2E2" stroke-width="1.1"/>
<line y1="326.4" y2="326.4" x1="359.7" x2="454.1" stroke="#E2E2E2" stroke-width="1.1"/>
<line x1="397.8" x2="397.8" y1="247.2" y2="349.1" stroke="#E2E2E2" stroke-width="1.1"/>
<line y1="307.8" y2="307.8" x1="359.7" x2="454.1" stroke="#E2E2E2" stroke-width="1.1"/>
<line x1="415.0" x2="415.0" y1="247.2" y2="349.1" stroke="#E2E2E2" stroke-width="1.1"/>
<line y1="289.2" y2="289.2" x1="359.7" x2="454.1" stroke="#E2E2E2" stroke-width="1.1"/>
<line x1="432.2" x2="432.2" y1="247.2" y2="349.1" stroke="#E2E2E2" stroke-width="1.1"/>
<line y1="270.6" y2="270.6" x1="359.7" x2="454.1" stroke="#E2E2E2" stroke-width="1.1"/>
<line x1="449.4" x2="449.4" y1="247.2" y2="349.1" stroke="#E2E2E2" stroke-width="1.1"/>
<line y1="252.0" y2="252.0" x1="359.7" x2="454.1" stroke="#E2E2E2" stroke-width="1.1"/>
<g fill="#F8766D" fill-opacity="0.75"><circle cx="367.0" cy="341.9" r="1.7"/><circle cx="366.2" cy="341.7" r="1.7"/><circle cx="368.3" cy="341.7" r="1.7"/><circle cx="368.7" cy="341.9" r="1.7"/><circle cx="366.6" cy="340.6" r="1.7"/><circle cx="366.9" cy="340.7" r="1.7"/><circle cx="367.9" cy="339.9" r="1.7"/><circle cx="368.2" cy="340.0" r="1.7"/><circle cx="368.0" cy="340.3" r="1.7"/><circle cx="368.7" cy="340.1" r="1.7"/><circle cx="370.2" cy="339.9" r="1.7"/><circle cx="369.2" cy="339.3" r="1.7"/><circle cx="369.9" cy="338.5" r="1.7"/><circle cx="371.0" cy="337.4" r="1.7"/><circle cx="369.6" cy="337.6" r="1.7"/><circle cx="370.2" cy="338.4" r="1.7"/><circle cx="370.9" cy="337.4" r="1.7"/><circle cx="371.9" cy="337.2" r="1.7"/><circle cx="370.5" cy="336.2" r="1.7"/><circle cx="372.2" cy="336.4" r="1.7"/><circle cx="371.2" cy="337.9" r="1.7"/><circle cx="371.3" cy="336.0" r="1.7"/><circle cx="371.8" cy="335.3" r="1.7"/><circle cx="373.6" cy="336.8" r="1.7"/><circle cx="373.6" cy="335.8" r="1.7"/><circle cx="373.2" cy="335.5" r="1.7"/><circle cx="372.6" cy="335.0" r="1.7"/><circle cx="372.3" cy="334.3" r="1.7"/><circle cx="373.9" cy="335.4" r="1.7"/><circle cx="374.0" cy="335.5" r="1.7"/><circle cx="374.0" cy="333.7" r="1.7"/><circle cx="372.8" cy="333.8" r="1.7"/><circle cx="374.5" cy="334.1" r="1.7"/><circle cx="373.4" cy="334.5" r="1.7"/><circle cx="374.0" cy="334.5" r="1.7"/></g>
<g fill="#00BA38" fill-opacity="0.75"><circle cx="374.4" cy="339.3" r="1.7"/><circle cx="374.2" cy="338.0" r="1.7"/><circle cx="375.1" cy="338.1" r="1.7"/><circle cx="374.7" cy="337.8" r="1.7"/><circle cx="375.4" cy="336.5" r="1.7"/><circle cx="376.3" cy="335.3" r="1.7"/><circle cx="376.4" cy="335.5" r="1.7"/><circle cx="377.2" cy="335.1" r="1.7"/><circle cx="376.9" cy="334.0" r="1.7"/><circle cx="376.8" cy="333.8" r="1.7"/><circle cx="378.2" cy="333.5" r="1.7"/></g>
<g fill="#619CFF" fill-opacity="0.75"><circle cx="370.9" cy="331.0" r="1.7"/><circle cx="371.2" cy="330.3" r="1.7"/><circle cx="371.6" cy="329.5" r="1.7"/><circle cx="372.2" cy="329.2" r="1.7"/><circle cx="372.4" cy="328.5" r="1.7"/><circle cx="373.1" cy="328.5" r="1.7"/><circle cx="372.5" cy="328.8" r="1.7"/><circle cx="373.9" cy="327.2" r="1.7"/><circle cx="373.9" cy="327.1" r="1.7"/><circle cx="374.0" cy="326.8" r="1.7"/><circle cx="375.5" cy="326.3" r="1.7"/></g>
<g fill="#F564E3" fill-opacity="0.75"><circle cx="372.4" cy="328.6" r="1.7"/><circle cx="372.5" cy="328.4" r="1.7"/><circle cx="373.1" cy="328.4" r="1.7"/><circle cx="374.5" cy="327.5" r="1.7"/><circle cx="374.4" cy="327.2" r="1.7"/></g>
<g fill="#00BFC4" fill-opacity="0.75"><circle cx="374.0" cy="329.1" r="1.7"/><circle cx="374.0" cy="327.4" r="1.7"/><circle cx="374.3" cy="327.1" r="1.7"/><circle cx="374.5" cy="326.6" r="1.7"/><circle cx="374.5" cy="326.6" r="1.7"/><circle cx="375.1" cy="325.3" r="1.7"/><circle cx="376.0" cy="325.1" r="1.7"/><circle cx="376.3" cy="324.1" r="1.7"/><circle cx="375.9" cy="323.6" r="1.7"/><circle cx="376.6" cy="322.5" r="1.7"/><circle cx="377.2" cy="322.8" r="1.7"/></g>
<g fill="#B79F00" fill-opacity="0.75"><circle cx="376.8" cy="325.7" r="1.7"/><circle cx="377.9" cy="323.7" r="1.7"/><circle cx="377.8" cy="324.2" r="1.7"/><circle cx="378.3" cy="323.7" r="1.7"/><circle cx="379.3" cy="324.4" r="1.7"/><circle cx="378.9" cy="322.2" r="1.7"/><circle cx="380.0" cy="322.4" r="1.7"/><circle cx="379.2" cy="323.5" r="1.7"/><circle cx="380.0" cy="322.6" r="1.7"/><circle cx="380.6" cy="321.9" r="1.7"/><circle cx="381.1" cy="321.5" r="1.7"/><circle cx="380.7" cy="321.6" r="1.7"/><circle cx="381.5" cy="320.9" r="1.7"/><circle cx="382.0" cy="320.7" r="1.7"/><circle cx="381.3" cy="321.0" r="1.7"/><circle cx="382.3" cy="320.2" r="1.7"/></g>
<g fill="#00BFC4" fill-opacity="0.75"><circle cx="380.2" cy="322.9" r="1.7"/><circle cx="381.0" cy="322.4" r="1.7"/><circle cx="382.3" cy="321.2" r="1.7"/><circle cx="382.7" cy="320.9" r="1.7"/><circle cx="382.8" cy="319.6" r="1.7"/><circle cx="383.6" cy="319.4" r="1.7"/></g>
<g fill="#00BA38" fill-opacity="0.75"><circle cx="373.6" cy="315.0" r="1.7"/></g>
<g fill="#00BA38" fill-opacity="0.75"><circle cx="375.0" cy="322.0" r="1.7"/></g>
<g fill="#619CFF" fill-opacity="0.75"><circle cx="374.2" cy="318.1" r="1.7"/><circle cx="374.4" cy="317.1" r="1.7"/><circle cx="374.9" cy="316.4" r="1.7"/><circle cx="375.1" cy="316.4" r="1.7"/><circle cx="375.3" cy="316.0" r="1.7"/><circle cx="376.0" cy="314.6" r="1.7"/><circle cx="375.3" cy="313.8" r="1.7"/><circle cx="375.8" cy="313.1" r="1.7"/><circle cx="376.2" cy="313.4" r="1.7"/><circle cx="376.5" cy="312.9" r="1.7"/><circle cx="377.2" cy="312.6" r="1.7"/></g>
<g fill="#F564E3" fill-opacity="0.75"><circle cx="379.0" cy="309.0" r="1.7"/></g>
<g fill="#F564E3" fill-opacity="0.75"><circle cx="378.0" cy="313.0" r="1.7"/></g>
<g fill="#F564E3" fill-opacity="0.75"><circle cx="383.0" cy="317.0" r="1.7"/></g>
<g fill="#B79F00" fill-opacity="0.75"><circle cx="386.0" cy="313.0" r="1.7"/></g>
<g fill="#B79F00" fill-opacity="0.75"><circle cx="387.0" cy="316.0" r="1.7"/></g>
<g fill="#00BA38" fill-opacity="0.75"><circle cx="384.0" cy="318.0" r="1.7"/></g>
<g fill="#F8766D" fill-opacity="0.75"><circle cx="373.6" cy="314.0" r="1.7"/></g>
<g fill="#F8766D" fill-opacity="0.75"><circle cx="393.5" cy="308.6" r="1.7"/><circle cx="393.1" cy="308.6" r="1.7"/><circle cx="392.8" cy="308.3" r="1.7"/><circle cx="394.5" cy="308.4" r="1.7"/><circle cx="394.3" cy="308.5" r="1.7"/><circle cx="394.9" cy="306.9" r="1.7"/><circle cx="394.4" cy="306.6" r="1.7"/><circle cx="394.1" cy="307.5" r="1.7"/><circle cx="394.1" cy="306.3" r="1.7"/><circle cx="394.4" cy="307.3" r="1.7"/><circle cx="394.6" cy="306.5" r="1.7"/><circle cx="394.5" cy="305.1" r="1.7"/><circle cx="395.1" cy="305.2" r="1.7"/><circle cx="395.5" cy="304.9" r="1.7"/><circle cx="395.5" cy="305.9" r="1.7"/><circle cx="397.1" cy="304.5" r="1.7"/><circle cx="395.8" cy="305.5" r="1.7"/><circle cx="397.2" cy="304.0" r="1.7"/><circle cx="396.6" cy="303.4" r="1.7"/></g>
<g fill="#00BA38" fill-opacity="0.75"><circle cx="396.5" cy="304.9" r="1.7"/><circle cx="396.5" cy="305.1" r="1.7"/><circle cx="396.2" cy="304.2" r="1.7"/><circle cx="397.0" cy="304.8" r="1.7"/><circle cx="396.9" cy="303.8" r="1.7"/><circle cx="397.9" cy="303.9" r="1.7"/><circle cx="397.6" cy="302.8" r="1.7"/><circle cx="397.9" cy="303.3" r="1.7"/><circle cx="398.4" cy="303.3" r="1.7"/><circle cx="398.9" cy="301.8" r="1.7"/><circle cx="398.4" cy="302.2" r="1.7"/><circle cx="399.1" cy="302.7" r="1.7"/><circle cx="398.8" cy="303.0" r="1.7"/><circle cx="399.7" cy="302.5" r="1.7"/><circle cx="400.7" cy="301.7" r="1.7"/><circle cx="399.8" cy="301.2" r="1.7"/><circle cx="400.6" cy="301.4" r="1.7"/><circle cx="401.0" cy="301.7" r="1.7"/><circle cx="400.8" cy="300.8" r="1.7"/><circle cx="400.9" cy="301.0" r="1.7"/><circle cx="401.0" cy="300.8" r="1.7"/><circle cx="403.0" cy="299.0" r="1.7"/><circle cx="402.7" cy="300.0" r="1.7"/><circle cx="402.9" cy="299.6" r="1.7"/><circle cx="401.6" cy="300.2" r="1.7"/><circle cx="403.7" cy="299.0" r="1.7"/></g>
<g fill="#00BFC4" fill-opacity="0.75"><circle cx="405.0" cy="303.0" r="1.7"/></g>
<g fill="#F564E3" fill-opacity="0.75"><circle cx="403.6" cy="297.4" r="1.7"/></g>
<g fill="#F8766D" fill-opacity="0.75"><circle cx="411.6" cy="291.4" r="1.7"/></g>
<g fill="#00BFC4" fill-opacity="0.75"><circle cx="413.5" cy="293.1" r="1.7"/><circle cx="414.3" cy="292.7" r="1.7"/><circle cx="414.9" cy="292.6" r="1.7"/><circle cx="415.8" cy="292.7" r="1.7"/><circle cx="416.2" cy="292.3" r="1.7"/><circle cx="416.7" cy="292.0" r="1.7"/></g>
<g fill="#619CFF" fill-opacity="0.75"><circle cx="403.0" cy="282.4" r="1.7"/></g>
<g fill="#619CFF" fill-opacity="0.75"><circle cx="407.7" cy="284.3" r="1.7"/><circle cx="408.1" cy="284.2" r="1.7"/><circle cx="407.2" cy="283.5" r="1.7"/><circle cx="407.7" cy="283.1" r="1.7"/><circle cx="409.4" cy="282.7" r="1.7"/><circle cx="409.6" cy="283.0" r="1.7"/><circle cx="409.6" cy="283.2" r="1.7"/><circle cx="409.8" cy="282.7" r="1.7"/><circle cx="410.3" cy="282.9" r="1.7"/><circle cx="410.0" cy="283.2" r="1.7"/><circle cx="410.7" cy="282.2" r="1.7"/><circle cx="410.6" cy="281.9" r="1.7"/><circle cx="412.2" cy="282.0" r="1.7"/><circle cx="411.8" cy="281.7" r="1.7"/><circle cx="411.8" cy="282.4" r="1.7"/><circle cx="413.4" cy="282.3" r="1.7"/><circle cx="413.2" cy="281.7" r="1.7"/><circle cx="413.2" cy="282.0" r="1.7"/><circle cx="413.9" cy="281.8" r="1.7"/><circle cx="414.8" cy="281.2" r="1.7"/><circle cx="414.9" cy="281.3" r="1.7"/><circle cx="414.8" cy="279.9" r="1.7"/><circle cx="414.9" cy="280.7" r="1.7"/><circle cx="415.7" cy="280.6" r="1.7"/><circle cx="417.3" cy="280.1" r="1.7"/><circle cx="416.4" cy="280.1" r="1.7"/></g>
<g fill="#B79F00" fill-opacity="0.75"><circle cx="422.0" cy="282.0" r="1.7"/></g>
<g fill="#00BA38" fill-opacity="0.75"><circle cx="425.2" cy="282.5" r="1.7"/><circle cx="426.3" cy="283.4" r="1.7"/><circle cx="425.9" cy="282.4" r="1.7"/><circle cx="426.7" cy="282.9" r="1.7"/><circle cx="426.2" cy="282.6" r="1.7"/><circle cx="427.9" cy="282.2" r="1.7"/><circle cx="428.2" cy="282.5" r="1.7"/><circle cx="427.9" cy="281.9" r="1.7"/><circle cx="427.5" cy="281.3" r="1.7"/><circle cx="428.3" cy="280.7" r="1.7"/><circle cx="428.9" cy="280.9" r="1.7"/><circle cx="429.0" cy="281.3" r="1.7"/><circle cx="428.9" cy="279.5" r="1.7"/><circle cx="430.4" cy="279.7" r="1.7"/><circle cx="429.9" cy="279.6" r="1.7"/><circle cx="430.2" cy="279.5" r="1.7"/><circle cx="430.4" cy="280.0" r="1.7"/><circle cx="430.7" cy="279.6" r="1.7"/><circle cx="432.0" cy="278.9" r="1.7"/><circle cx="432.2" cy="278.8" r="1.7"/><circle cx="431.3" cy="278.7" r="1.7"/><circle cx="432.6" cy="277.7" r="1.7"/></g>
<g fill="#B79F00" fill-opacity="0.75"><circle cx="428.5" cy="278.2" r="1.7"/><circle cx="427.8" cy="277.2" r="1.7"/><circle cx="428.9" cy="276.9" r="1.7"/><circle cx="429.7" cy="277.2" r="1.7"/><circle cx="430.0" cy="277.0" r="1.7"/><circle cx="430.0" cy="275.8" r="1.7"/><circle cx="431.2" cy="275.8" r="1.7"/><circle cx="432.1" cy="275.2" r="1.7"/><circle cx="432.8" cy="276.0" r="1.7"/><circle cx="432.6" cy="274.3" r="1.7"/><circle cx="432.0" cy="274.9" r="1.7"/><circle cx="433.3" cy="274.8" r="1.7"/><circle cx="434.6" cy="273.8" r="1.7"/></g>
<g fill="#F8766D" fill-opacity="0.75"><circle cx="420.0" cy="276.4" r="1.7"/><circle cx="420.9" cy="276.0" r="1.7"/><circle cx="420.7" cy="276.4" r="1.7"/><circle cx="421.6" cy="275.0" r="1.7"/><circle cx="422.5" cy="274.9" r="1.7"/><circle cx="422.3" cy="275.0" r="1.7"/><circle cx="423.3" cy="276.5" r="1.7"/><circle cx="424.0" cy="275.0" r="1.7"/><circle cx="423.4" cy="275.8" r="1.7"/><circle cx="424.8" cy="274.3" r="1.7"/><circle cx="423.3" cy="273.9" r="1.7"/><circle cx="425.7" cy="274.8" r="1.7"/><circle cx="424.2" cy="274.6" r="1.7"/><circle cx="425.9" cy="274.9" r="1.7"/><circle cx="424.2" cy="274.2" r="1.7"/><circle cx="426.1" cy="274.0" r="1.7"/><circle cx="425.5" cy="272.1" r="1.7"/><circle cx="425.6" cy="274.0" r="1.7"/><circle cx="426.7" cy="273.1" r="1.7"/><circle cx="428.2" cy="273.1" r="1.7"/><circle cx="427.4" cy="273.0" r="1.7"/><circle cx="427.6" cy="272.9" r="1.7"/><circle cx="428.3" cy="271.8" r="1.7"/><circle cx="428.6" cy="272.1" r="1.7"/><circle cx="428.9" cy="272.0" r="1.7"/><circle cx="430.2" cy="272.0" r="1.7"/></g>
<g fill="#F564E3" fill-opacity="0.75"><circle cx="416.0" cy="275.0" r="1.7"/></g>
<g fill="#00BA38" fill-opacity="0.75"><circle cx="419.3" cy="275.5" r="1.7"/></g>
<g fill="#F564E3" fill-opacity="0.75"><circle cx="432.2" cy="274.5" r="1.7"/><circle cx="432.6" cy="274.1" r="1.7"/><circle cx="433.6" cy="272.7" r="1.7"/><circle cx="434.2" cy="272.6" r="1.7"/><circle cx="435.0" cy="272.0" r="1.7"/></g>
<g fill="#619CFF" fill-opacity="0.75"><circle cx="433.5" cy="280.2" r="1.7"/></g>
<g fill="#00BFC4" fill-opacity="0.75"><circle cx="420.6" cy="270.2" r="1.7"/><circle cx="422.3" cy="269.7" r="1.7"/><circle cx="422.8" cy="268.8" r="1.7"/><circle cx="423.4" cy="268.9" r="1.7"/><circle cx="424.3" cy="268.6" r="1.7"/><circle cx="424.9" cy="268.1" r="1.7"/></g>
<g fill="#F564E3" fill-opacity="0.75"><circle cx="419.6" cy="269.9" r="1.7"/><circle cx="419.7" cy="269.8" r="1.7"/><circle cx="420.2" cy="269.8" r="1.7"/><circle cx="421.1" cy="269.3" r="1.7"/><circle cx="421.3" cy="268.6" r="1.7"/><circle cx="422.6" cy="268.5" r="1.7"/><circle cx="423.1" cy="268.4" r="1.7"/><circle cx="424.2" cy="267.7" r="1.7"/><circle cx="423.5" cy="266.9" r="1.7"/><circle cx="424.1" cy="267.7" r="1.7"/></g>
<g fill="#619CFF" fill-opacity="0.75"><circle cx="416.0" cy="270.0" r="1.7"/></g>
<g fill="#F564E3" fill-opacity="0.75"><circle cx="430.3" cy="269.8" r="1.7"/><circle cx="432.0" cy="269.1" r="1.7"/><circle cx="431.7" cy="269.1" r="1.7"/><circle cx="433.2" cy="269.2" r="1.7"/><circle cx="433.1" cy="269.1" r="1.7"/><circle cx="434.5" cy="269.1" r="1.7"/><circle cx="434.6" cy="267.4" r="1.7"/><circle cx="434.1" cy="268.3" r="1.7"/><circle cx="435.6" cy="267.1" r="1.7"/><circle cx="435.7" cy="268.6" r="1.7"/><circle cx="436.1" cy="267.5" r="1.7"/><circle cx="436.2" cy="266.8" r="1.7"/><circle cx="437.4" cy="267.3" r="1.7"/><circle cx="437.2" cy="267.0" r="1.7"/><circle cx="438.7" cy="267.0" r="1.7"/><circle cx="438.8" cy="266.4" r="1.7"/></g>
<g fill="#619CFF" fill-opacity="0.75"><circle cx="430.5" cy="267.3" r="1.7"/><circle cx="431.0" cy="266.8" r="1.7"/><circle cx="432.0" cy="266.2" r="1.7"/><circle cx="432.8" cy="266.0" r="1.7"/><circle cx="433.7" cy="265.9" r="1.7"/></g>
<g fill="#619CFF" fill-opacity="0.75"><circle cx="440.6" cy="269.4" r="1.7"/></g>
<line x1="364.8" y1="344.6" x2="441.0" y2="262.0" stroke="#000" stroke-width="1.5"/>
<line x1="363.4" y1="345.0" x2="449.4" y2="252.0" stroke="#000" stroke-width="1.5" stroke-dasharray="6 6"/>
<text x="447.3" y="339.4" font-size="10.4" fill="#1c1c1c" text-anchor="end" textLength="57.4" lengthAdjust="spacingAndGlyphs">RMSE: 0.015</text>
</g>
<rect x="359.7" y="247.2" width="94.4" height="101.9" fill="none" stroke="#333" stroke-width="0.9"/>
</g>
<line x1="47.4" x2="51.1" y1="124.0" y2="124.0" stroke="#333" stroke-width="1.1"/>
<text x="43.6" y="128.0" font-size="11.1" fill="#474747" text-anchor="end">0.0</text>
<line x1="47.4" x2="51.1" y1="105.4" y2="105.4" stroke="#333" stroke-width="1.1"/>
<text x="43.6" y="109.4" font-size="11.1" fill="#474747" text-anchor="end">0.1</text>
<line x1="47.4" x2="51.1" y1="86.8" y2="86.8" stroke="#333" stroke-width="1.1"/>
<text x="43.6" y="90.8" font-size="11.1" fill="#474747" text-anchor="end">0.2</text>
<line x1="47.4" x2="51.1" y1="68.2" y2="68.2" stroke="#333" stroke-width="1.1"/>
<text x="43.6" y="72.2" font-size="11.1" fill="#474747" text-anchor="end">0.3</text>
<line x1="47.4" x2="51.1" y1="49.6" y2="49.6" stroke="#333" stroke-width="1.1"/>
<text x="43.6" y="53.6" font-size="11.1" fill="#474747" text-anchor="end">0.4</text>
<line x1="47.4" x2="51.1" y1="31.0" y2="31.0" stroke="#333" stroke-width="1.1"/>
<text x="43.6" y="35.0" font-size="11.1" fill="#474747" text-anchor="end">0.5</text>
<line x1="47.4" x2="51.1" y1="234.5" y2="234.5" stroke="#333" stroke-width="1.1"/>
<text x="43.6" y="238.5" font-size="11.1" fill="#474747" text-anchor="end">0.0</text>
<line x1="47.4" x2="51.1" y1="215.9" y2="215.9" stroke="#333" stroke-width="1.1"/>
<text x="43.6" y="219.9" font-size="11.1" fill="#474747" text-anchor="end">0.1</text>
<line x1="47.4" x2="51.1" y1="197.3" y2="197.3" stroke="#333" stroke-width="1.1"/>
<text x="43.6" y="201.3" font-size="11.1" fill="#474747" text-anchor="end">0.2</text>
<line x1="47.4" x2="51.1" y1="178.7" y2="178.7" stroke="#333" stroke-width="1.1"/>
<text x="43.6" y="182.7" font-size="11.1" fill="#474747" text-anchor="end">0.3</text>
<line x1="47.4" x2="51.1" y1="160.1" y2="160.1" stroke="#333" stroke-width="1.1"/>
<text x="43.6" y="164.1" font-size="11.1" fill="#474747" text-anchor="end">0.4</text>
<line x1="47.4" x2="51.1" y1="141.5" y2="141.5" stroke="#333" stroke-width="1.1"/>
<text x="43.6" y="145.5" font-size="11.1" fill="#474747" text-anchor="end">0.5</text>
<line x1="47.4" x2="51.1" y1="345.0" y2="345.0" stroke="#333" stroke-width="1.1"/>
<text x="43.6" y="349.0" font-size="11.1" fill="#474747" text-anchor="end">0.0</text>
<line x1="47.4" x2="51.1" y1="326.4" y2="326.4" stroke="#333" stroke-width="1.1"/>
<text x="43.6" y="330.4" font-size="11.1" fill="#474747" text-anchor="end">0.1</text>
<line x1="47.4" x2="51.1" y1="307.8" y2="307.8" stroke="#333" stroke-width="1.1"/>
<text x="43.6" y="311.8" font-size="11.1" fill="#474747" text-anchor="end">0.2</text>
<line x1="47.4" x2="51.1" y1="289.2" y2="289.2" stroke="#333" stroke-width="1.1"/>
<text x="43.6" y="293.2" font-size="11.1" fill="#474747" text-anchor="end">0.3</text>
<line x1="47.4" x2="51.1" y1="270.6" y2="270.6" stroke="#333" stroke-width="1.1"/>
<text x="43.6" y="274.6" font-size="11.1" fill="#474747" text-anchor="end">0.4</text>
<line x1="47.4" x2="51.1" y1="252.0" y2="252.0" stroke="#333" stroke-width="1.1"/>
<text x="43.6" y="256.0" font-size="11.1" fill="#474747" text-anchor="end">0.5</text>
<line x1="54.9" x2="54.9" y1="349.1" y2="352.8" stroke="#333" stroke-width="1.1"/>
<text x="54.9" y="365.1" font-size="11.1" fill="#474747" text-anchor="middle">0.0</text>
<line x1="72.1" x2="72.1" y1="349.1" y2="352.8" stroke="#333" stroke-width="1.1"/>
<text x="72.1" y="365.1" font-size="11.1" fill="#474747" text-anchor="middle">0.1</text>
<line x1="89.3" x2="89.3" y1="349.1" y2="352.8" stroke="#333" stroke-width="1.1"/>
<text x="89.3" y="365.1" font-size="11.1" fill="#474747" text-anchor="middle">0.2</text>
<line x1="106.5" x2="106.5" y1="349.1" y2="352.8" stroke="#333" stroke-width="1.1"/>
<text x="106.5" y="365.1" font-size="11.1" fill="#474747" text-anchor="middle">0.3</text>
<line x1="123.7" x2="123.7" y1="349.1" y2="352.8" stroke="#333" stroke-width="1.1"/>
<text x="123.7" y="365.1" font-size="11.1" fill="#474747" text-anchor="middle">0.4</text>
<line x1="140.9" x2="140.9" y1="349.1" y2="352.8" stroke="#333" stroke-width="1.1"/>
<text x="140.9" y="365.1" font-size="11.1" fill="#474747" text-anchor="middle">0.5</text>
<line x1="157.5" x2="157.5" y1="349.1" y2="352.8" stroke="#333" stroke-width="1.1"/>
<text x="157.5" y="365.1" font-size="11.1" fill="#474747" text-anchor="middle">0.0</text>
<line x1="174.7" x2="174.7" y1="349.1" y2="352.8" stroke="#333" stroke-width="1.1"/>
<text x="174.7" y="365.1" font-size="11.1" fill="#474747" text-anchor="middle">0.1</text>
<line x1="191.9" x2="191.9" y1="349.1" y2="352.8" stroke="#333" stroke-width="1.1"/>
<text x="191.9" y="365.1" font-size="11.1" fill="#474747" text-anchor="middle">0.2</text>
<line x1="209.1" x2="209.1" y1="349.1" y2="352.8" stroke="#333" stroke-width="1.1"/>
<text x="209.1" y="365.1" font-size="11.1" fill="#474747" text-anchor="middle">0.3</text>
<line x1="226.3" x2="226.3" y1="349.1" y2="352.8" stroke="#333" stroke-width="1.1"/>
<text x="226.3" y="365.1" font-size="11.1" fill="#474747" text-anchor="middle">0.4</text>
<line x1="243.5" x2="243.5" y1="349.1" y2="352.8" stroke="#333" stroke-width="1.1"/>
<text x="243.5" y="365.1" font-size="11.1" fill="#474747" text-anchor="middle">0.5</text>
<line x1="260.6" x2="260.6" y1="349.1" y2="352.8" stroke="#333" stroke-width="1.1"/>
<text x="260.6" y="365.1" font-size="11.1" fill="#474747" text-anchor="middle">0.0</text>
<line x1="277.8" x2="277.8" y1="349.1" y2="352.8" stroke="#333" stroke-width="1.1"/>
<text x="277.8" y="365.1" font-size="11.1" fill="#474747" text-anchor="middle">0.1</text>
<line x1="295.0" x2="295.0" y1="349.1" y2="352.8" stroke="#333" stroke-width="1.1"/>
<text x="295.0" y="365.1" font-size="11.1" fill="#474747" text-anchor="middle">0.2</text>
<line x1="312.2" x2="312.2" y1="349.1" y2="352.8" stroke="#333" stroke-width="1.1"/>
<text x="312.2" y="365.1" font-size="11.1" fill="#474747" text-anchor="middle">0.3</text>
<line x1="329.4" x2="329.4" y1="349.1" y2="352.8" stroke="#333" stroke-width="1.1"/>
<text x="329.4" y="365.1" font-size="11.1" fill="#474747" text-anchor="middle">0.4</text>
<line x1="346.6" x2="346.6" y1="349.1" y2="352.8" stroke="#333" stroke-width="1.1"/>
<text x="346.6" y="365.1" font-size="11.1" fill="#474747" text-anchor="middle">0.5</text>
<line x1="363.4" x2="363.4" y1="349.1" y2="352.8" stroke="#333" stroke-width="1.1"/>
<text x="363.4" y="365.1" font-size="11.1" fill="#474747" text-anchor="middle">0.0</text>
<line x1="380.6" x2="380.6" y1="349.1" y2="352.8" stroke="#333" stroke-width="1.1"/>
<text x="380.6" y="365.1" font-size="11.1" fill="#474747" text-anchor="middle">0.1</text>
<line x1="397.8" x2="397.8" y1="349.1" y2="352.8" stroke="#333" stroke-width="1.1"/>
<text x="397.8" y="365.1" font-size="11.1" fill="#474747" text-anchor="middle">0.2</text>
<line x1="415.0" x2="415.0" y1="349.1" y2="352.8" stroke="#333" stroke-width="1.1"/>
<text x="415.0" y="365.1" font-size="11.1" fill="#474747" text-anchor="middle">0.3</text>
<line x1="432.2" x2="432.2" y1="349.1" y2="352.8" stroke="#333" stroke-width="1.1"/>
<text x="432.2" y="365.1" font-size="11.1" fill="#474747" text-anchor="middle">0.4</text>
<line x1="449.4" x2="449.4" y1="349.1" y2="352.8" stroke="#333" stroke-width="1.1"/>
<text x="449.4" y="365.1" font-size="11.1" fill="#474747" text-anchor="middle">0.5</text>
<text x="252.5" y="385" font-size="14.2" fill="#000" text-anchor="middle">TDR VWC (m<tspan dy="-6.3" dx="0.6" font-size="10">3</tspan><tspan dy="6.3" dx="0.8"> m</tspan><tspan dy="-6.3" dx="0.6" font-size="10">−3</tspan><tspan dy="6.3" dx="0.4">)</tspan></text>
<text transform="translate(17.5,186.9) rotate(-90)" font-size="14.3" fill="#000" text-anchor="middle">SMPS VWC (m<tspan dy="-6.3" dx="0.6" font-size="10">3</tspan><tspan dy="6.3" dx="0.8"> m</tspan><tspan dy="-6.3" dx="0.6" font-size="10">−3</tspan><tspan dy="6.3" dx="0.4">)</tspan></text>
<text x="501" y="116" font-size="14" fill="#000">Depth</text>
<circle cx="512.5" cy="136.7" r="1.8" fill="#F8766D" fill-opacity="0.7"/>
<text x="532.0" y="141.0" font-size="11.5" fill="#000">5</text>
<circle cx="512.5" cy="161.2" r="1.8" fill="#B79F00" fill-opacity="0.7"/>
<text x="532.0" y="165.5" font-size="11.5" fill="#000">15</text>
<circle cx="512.5" cy="185.7" r="1.8" fill="#00BA38" fill-opacity="0.7"/>
<text x="532.0" y="190.0" font-size="11.5" fill="#000">25</text>
<circle cx="512.5" cy="210.2" r="1.8" fill="#00BFC4" fill-opacity="0.7"/>
<text x="532.0" y="214.5" font-size="11.5" fill="#000">35</text>
<circle cx="512.5" cy="234.7" r="1.8" fill="#619CFF" fill-opacity="0.7"/>
<text x="532.0" y="239.0" font-size="11.5" fill="#000">45</text>
<circle cx="512.5" cy="259.2" r="1.8" fill="#F564E3" fill-opacity="0.7"/>
<text x="532.0" y="263.5" font-size="11.5" fill="#000">55</text>
</svg></body></html>
